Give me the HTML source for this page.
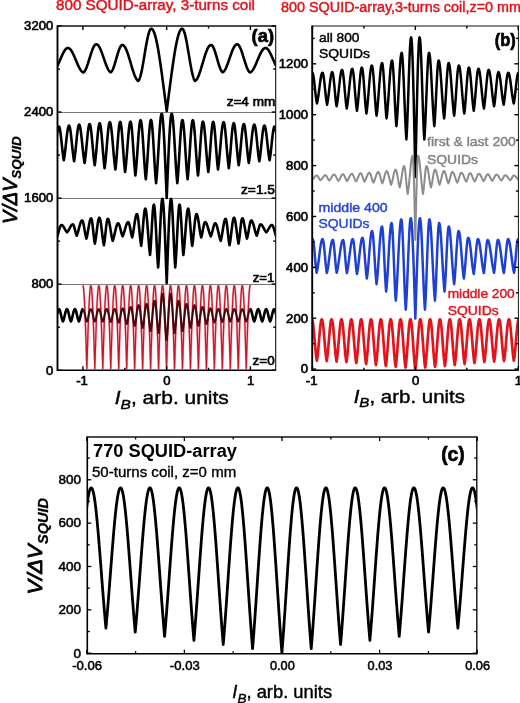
<!DOCTYPE html>
<html><head><meta charset="utf-8"><style>html,body{margin:0;padding:0;background:#fff;}svg{display:block;}</style></head>
<body>
<svg width="520" height="703" viewBox="0 0 520 703">
<rect width="520" height="703" fill="#fff"/>
<clipPath id="ca"><rect x="57.5" y="18.0" width="218.2" height="352.2"/></clipPath>
<line x1="57.5" y1="284.50" x2="275.7" y2="284.50" stroke="#767676" stroke-width="1"/>
<line x1="57.5" y1="198.50" x2="275.7" y2="198.50" stroke="#767676" stroke-width="1"/>
<line x1="57.5" y1="112.50" x2="275.7" y2="112.50" stroke="#767676" stroke-width="1"/>
<path d="M53.70 70.00L54.00 69.87L54.30 69.70L54.61 69.48L54.91 69.23L55.21 68.93L55.51 68.60L55.81 68.23L56.12 67.82L56.42 67.38L56.72 66.91L57.02 66.40L57.33 65.86L57.63 65.30L57.93 64.71L58.23 64.10L58.53 63.46L58.84 62.81L59.14 62.14L59.44 61.46L59.74 60.77L60.04 60.07L60.35 59.37L60.65 58.67L60.95 57.97L61.25 57.27L61.56 56.57L61.86 55.89L62.16 55.22L62.46 54.57L62.76 53.93L63.07 53.32L63.37 52.72L63.67 52.16L63.97 51.62L64.27 51.11L64.58 50.64L64.88 50.19L65.18 49.79L65.48 49.42L65.79 49.09L66.09 48.81L66.39 48.56L66.69 48.36L66.99 48.20L67.30 48.09L67.60 48.02L67.90 48.00L68.20 48.02L68.50 48.09L68.81 48.19L69.11 48.34L69.41 48.53L69.71 48.77L70.01 49.04L70.32 49.35L70.62 49.70L70.92 50.09L71.22 50.51L71.52 50.97L71.83 51.45L72.13 51.97L72.43 52.52L72.73 53.10L73.03 53.70L73.34 54.32L73.64 54.97L73.94 55.63L74.24 56.31L74.54 57.00L74.85 57.70L75.15 58.41L75.45 59.13L75.75 59.85L76.05 60.57L76.35 61.29L76.66 62.01L76.96 62.72L77.26 63.42L77.56 64.12L77.86 64.79L78.17 65.46L78.47 66.10L78.77 66.72L79.07 67.33L79.37 67.90L79.68 68.45L79.98 68.98L80.28 69.47L80.58 69.93L80.88 70.36L81.19 70.76L81.49 71.12L81.79 71.45L82.09 71.73L82.39 71.98L82.70 72.19L83.00 72.37L83.30 72.50L83.60 72.31L83.90 72.06L84.21 71.75L84.51 71.38L84.81 70.94L85.11 70.45L85.42 69.90L85.72 69.29L86.02 68.64L86.32 67.93L86.63 67.18L86.93 66.39L87.23 65.55L87.53 64.69L87.83 63.79L88.14 62.87L88.44 61.92L88.74 60.96L89.04 59.99L89.35 59.00L89.65 58.02L89.95 57.03L90.25 56.05L90.56 55.09L90.86 54.14L91.16 53.21L91.46 52.30L91.77 51.42L92.07 50.58L92.37 49.78L92.67 49.02L92.97 48.30L93.28 47.64L93.58 47.03L93.88 46.47L94.18 45.97L94.49 45.53L94.79 45.16L95.09 44.85L95.39 44.61L95.70 44.44L96.00 44.33L96.30 44.30L96.60 44.33L96.90 44.41L97.20 44.55L97.50 44.74L97.80 44.99L98.10 45.29L98.40 45.64L98.70 46.04L99.00 46.49L99.30 46.98L99.60 47.52L99.90 48.11L100.20 48.73L100.50 49.39L100.80 50.08L101.10 50.81L101.40 51.57L101.70 52.35L102.00 53.16L102.30 53.99L102.60 54.83L102.90 55.69L103.20 56.56L103.50 57.43L103.80 58.31L104.10 59.18L104.40 60.06L104.70 60.92L105.00 61.78L105.30 62.62L105.60 63.45L105.90 64.25L106.20 65.03L106.50 65.79L106.80 66.51L107.10 67.21L107.40 67.87L107.70 68.49L108.00 69.08L108.30 69.62L108.60 70.12L108.90 70.57L109.20 70.98L109.50 71.35L109.80 71.66L110.10 71.92L110.40 72.14L110.70 72.30L111.00 72.10L111.30 71.82L111.60 71.47L111.90 71.05L112.20 70.55L112.50 69.99L112.80 69.36L113.10 68.68L113.40 67.93L113.70 67.13L114.00 66.28L114.30 65.39L114.60 64.45L114.90 63.48L115.20 62.49L115.50 61.47L115.80 60.43L116.10 59.38L116.40 58.33L116.70 57.28L117.00 56.23L117.30 55.20L117.60 54.20L117.90 53.21L118.20 52.26L118.50 51.35L118.80 50.48L119.10 49.66L119.40 48.89L119.70 48.18L120.00 47.54L120.30 46.96L120.60 46.45L120.90 46.01L121.20 45.65L121.50 45.37L121.80 45.16L122.10 45.04L122.40 45.00L122.71 45.03L123.01 45.12L123.32 45.27L123.62 45.48L123.93 45.75L124.23 46.08L124.54 46.47L124.85 46.91L125.15 47.40L125.46 47.95L125.76 48.55L126.07 49.20L126.37 49.89L126.68 50.63L126.99 51.41L127.29 52.23L127.60 53.08L127.90 53.97L128.21 54.89L128.52 55.83L128.82 56.80L129.13 57.79L129.43 58.79L129.74 59.81L130.04 60.84L130.35 61.88L130.66 62.92L130.96 63.96L131.27 65.00L131.57 66.03L131.88 67.05L132.18 68.06L132.49 69.05L132.80 70.02L133.10 70.96L133.41 71.88L133.71 72.77L134.02 73.63L134.32 74.45L134.63 75.24L134.94 75.98L135.24 76.69L135.55 77.34L135.85 77.96L136.16 78.52L136.47 79.03L136.77 79.49L137.08 79.90L137.38 80.26L137.69 80.56L137.99 80.81L138.30 81.00L138.60 80.65L138.90 80.19L139.21 79.61L139.51 78.92L139.81 78.11L140.11 77.20L140.42 76.18L140.72 75.06L141.02 73.84L141.32 72.53L141.63 71.14L141.93 69.67L142.23 68.13L142.53 66.53L142.83 64.86L143.14 63.15L143.44 61.40L143.74 59.62L144.04 57.81L144.35 55.99L144.65 54.16L144.95 52.34L145.25 50.53L145.56 48.74L145.86 46.97L146.16 45.25L146.46 43.57L146.77 41.95L147.07 40.39L147.37 38.90L147.67 37.49L147.97 36.17L148.28 34.93L148.58 33.80L148.88 32.77L149.18 31.85L149.49 31.04L149.79 30.35L150.09 29.78L150.39 29.33L150.70 29.01L151.00 28.81L151.30 28.75L151.60 28.79L151.90 28.92L152.21 29.14L152.51 29.44L152.81 29.82L153.11 30.29L153.41 30.84L153.72 31.48L154.02 32.19L154.32 32.99L154.62 33.87L154.92 34.82L155.23 35.85L155.53 36.96L155.83 38.14L156.13 39.40L156.43 40.72L156.74 42.12L157.04 43.58L157.34 45.10L157.64 46.69L157.94 48.34L158.25 50.04L158.55 51.80L158.85 53.62L159.15 55.48L159.45 57.40L159.75 59.36L160.06 61.36L160.36 63.40L160.66 65.48L160.96 67.60L161.26 69.75L161.57 71.93L161.87 74.14L162.17 76.37L162.47 78.62L162.77 80.90L163.08 83.19L163.38 85.49L163.68 87.80L163.98 90.13L164.28 92.45L164.59 94.79L164.89 97.12L165.19 99.45L165.49 101.78L165.79 104.10L166.10 106.41L166.40 108.71L166.70 111.00L167.00 108.71L167.30 106.41L167.61 104.10L167.91 101.78L168.21 99.45L168.51 97.12L168.81 94.79L169.12 92.45L169.42 90.13L169.72 87.80L170.02 85.49L170.32 83.19L170.63 80.90L170.93 78.62L171.23 76.37L171.53 74.14L171.83 71.93L172.14 69.75L172.44 67.60L172.74 65.48L173.04 63.40L173.34 61.36L173.65 59.36L173.95 57.40L174.25 55.48L174.55 53.62L174.85 51.80L175.15 50.04L175.46 48.34L175.76 46.69L176.06 45.10L176.36 43.58L176.66 42.12L176.97 40.72L177.27 39.40L177.57 38.14L177.87 36.96L178.17 35.85L178.48 34.82L178.78 33.87L179.08 32.99L179.38 32.19L179.68 31.48L179.99 30.84L180.29 30.29L180.59 29.82L180.89 29.44L181.19 29.14L181.50 28.92L181.80 28.79L182.10 28.75L182.40 28.81L182.70 29.01L183.01 29.33L183.31 29.78L183.61 30.35L183.91 31.04L184.22 31.85L184.52 32.77L184.82 33.80L185.12 34.93L185.43 36.17L185.73 37.49L186.03 38.90L186.33 40.39L186.63 41.95L186.94 43.57L187.24 45.25L187.54 46.97L187.84 48.74L188.15 50.53L188.45 52.34L188.75 54.16L189.05 55.99L189.36 57.81L189.66 59.62L189.96 61.40L190.26 63.15L190.57 64.86L190.87 66.53L191.17 68.13L191.47 69.67L191.77 71.14L192.08 72.53L192.38 73.84L192.68 75.06L192.98 76.18L193.29 77.20L193.59 78.11L193.89 78.92L194.19 79.61L194.50 80.19L194.80 80.65L195.10 81.00L195.40 80.81L195.70 80.57L196.00 80.28L196.30 79.93L196.60 79.54L196.90 79.09L197.20 78.59L197.50 78.04L197.80 77.45L198.10 76.81L198.40 76.13L198.70 75.41L199.00 74.65L199.30 73.85L199.60 73.02L199.90 72.15L200.20 71.26L200.50 70.34L200.80 69.40L201.10 68.43L201.40 67.45L201.70 66.46L202.00 65.45L202.30 64.43L202.60 63.41L202.90 62.39L203.20 61.37L203.50 60.36L203.80 59.35L204.10 58.36L204.40 57.37L204.70 56.41L205.00 55.47L205.30 54.55L205.60 53.66L205.90 52.80L206.20 51.98L206.50 51.18L206.80 50.43L207.10 49.72L207.40 49.05L207.70 48.42L208.00 47.85L208.30 47.32L208.60 46.84L208.90 46.41L209.20 46.04L209.50 45.73L209.80 45.47L210.10 45.26L210.40 45.12L210.70 45.03L211.00 45.00L211.31 45.04L211.62 45.17L211.92 45.39L212.23 45.68L212.54 46.06L212.85 46.52L213.16 47.06L213.46 47.67L213.77 48.35L214.08 49.09L214.39 49.89L214.69 50.75L215.00 51.66L215.31 52.61L215.62 53.60L215.93 54.62L216.23 55.66L216.54 56.73L216.85 57.80L217.16 58.88L217.47 59.96L217.77 61.03L218.08 62.09L218.39 63.12L218.70 64.12L219.01 65.09L219.31 66.03L219.62 66.91L219.93 67.75L220.24 68.52L220.54 69.24L220.85 69.90L221.16 70.48L221.47 71.00L221.78 71.44L222.08 71.80L222.39 72.09L222.70 72.30L223.00 72.14L223.30 71.92L223.60 71.66L223.90 71.35L224.20 70.98L224.50 70.57L224.80 70.12L225.10 69.62L225.40 69.08L225.70 68.49L226.00 67.87L226.30 67.21L226.60 66.51L226.90 65.79L227.20 65.03L227.50 64.25L227.80 63.45L228.10 62.62L228.40 61.78L228.70 60.92L229.00 60.06L229.30 59.18L229.60 58.31L229.90 57.43L230.20 56.56L230.50 55.69L230.80 54.83L231.10 53.99L231.40 53.16L231.70 52.35L232.00 51.57L232.30 50.81L232.60 50.08L232.90 49.39L233.20 48.73L233.50 48.11L233.80 47.52L234.10 46.98L234.40 46.49L234.70 46.04L235.00 45.64L235.30 45.29L235.60 44.99L235.90 44.74L236.20 44.55L236.50 44.41L236.80 44.33L237.10 44.30L237.40 44.33L237.70 44.44L238.01 44.61L238.31 44.85L238.61 45.16L238.91 45.53L239.22 45.97L239.52 46.47L239.82 47.03L240.12 47.64L240.43 48.30L240.73 49.02L241.03 49.78L241.33 50.58L241.63 51.42L241.94 52.30L242.24 53.21L242.54 54.14L242.84 55.09L243.15 56.05L243.45 57.03L243.75 58.02L244.05 59.00L244.36 59.99L244.66 60.96L244.96 61.92L245.26 62.87L245.57 63.79L245.87 64.69L246.17 65.55L246.47 66.39L246.77 67.18L247.08 67.93L247.38 68.64L247.68 69.29L247.98 69.90L248.29 70.45L248.59 70.94L248.89 71.38L249.19 71.75L249.50 72.06L249.80 72.31L250.10 72.50L250.40 72.37L250.70 72.19L251.01 71.98L251.31 71.73L251.61 71.45L251.91 71.12L252.21 70.76L252.52 70.36L252.82 69.93L253.12 69.47L253.42 68.98L253.72 68.45L254.03 67.90L254.33 67.33L254.63 66.72L254.93 66.10L255.23 65.46L255.54 64.79L255.84 64.12L256.14 63.42L256.44 62.72L256.74 62.01L257.05 61.29L257.35 60.57L257.65 59.85L257.95 59.13L258.25 58.41L258.55 57.70L258.86 57.00L259.16 56.31L259.46 55.63L259.76 54.97L260.06 54.32L260.37 53.70L260.67 53.10L260.97 52.52L261.27 51.97L261.57 51.45L261.88 50.97L262.18 50.51L262.48 50.09L262.78 49.70L263.08 49.35L263.39 49.04L263.69 48.77L263.99 48.53L264.29 48.34L264.59 48.19L264.90 48.09L265.20 48.02L265.50 48.00L265.80 48.02L266.10 48.09L266.41 48.20L266.71 48.36L267.01 48.56L267.31 48.81L267.61 49.09L267.92 49.42L268.22 49.79L268.52 50.19L268.82 50.64L269.13 51.11L269.43 51.62L269.73 52.16L270.03 52.72L270.33 53.32L270.64 53.93L270.94 54.57L271.24 55.22L271.54 55.89L271.84 56.57L272.15 57.27L272.45 57.97L272.75 58.67L273.05 59.37L273.36 60.07L273.66 60.77L273.96 61.46L274.26 62.14L274.56 62.81L274.87 63.46L275.17 64.10L275.47 64.71L275.77 65.30L276.07 65.86L276.38 66.40L276.68 66.91L276.98 67.38L277.28 67.82L277.59 68.23L277.89 68.60L278.19 68.93L278.49 69.23L278.79 69.48L279.10 69.70L279.40 69.87L279.70 70.00" fill="none" stroke="#000" stroke-width="2.6" stroke-linejoin="round" clip-path="url(#ca)"/>
<path d="M53.70 159.50L54.01 157.98L54.31 156.16L54.62 154.08L54.92 151.77L55.23 149.27L55.54 146.65L55.84 143.96L56.15 141.26L56.45 138.61L56.76 136.09L57.06 133.75L57.37 131.66L57.68 129.87L57.98 128.43L58.29 127.37L58.59 126.72L58.90 126.50L59.21 126.75L59.51 127.50L59.82 128.71L60.12 130.37L60.43 132.41L60.74 134.78L61.04 137.40L61.35 140.21L61.66 143.12L61.96 146.05L62.27 148.93L62.57 151.68L62.88 154.24L63.19 156.54L63.49 158.54L63.80 160.20L64.11 158.60L64.41 156.70L64.72 154.51L65.02 152.09L65.33 149.48L65.64 146.73L65.94 143.91L66.25 141.07L66.55 138.30L66.86 135.66L67.16 133.21L67.47 131.01L67.78 129.13L68.08 127.62L68.39 126.51L68.69 125.83L69.00 125.60L69.30 125.84L69.60 126.54L69.90 127.68L70.20 129.25L70.50 131.19L70.80 133.45L71.10 135.98L71.40 138.70L71.70 141.57L72.00 144.49L72.30 147.40L72.60 150.24L72.90 152.93L73.20 155.43L73.50 157.69L73.80 159.65L74.10 161.30L74.41 159.49L74.72 157.31L75.04 154.81L75.35 152.02L75.66 149.03L75.97 145.89L76.29 142.70L76.60 139.53L76.91 136.47L77.22 133.61L77.54 131.04L77.85 128.81L78.16 127.01L78.47 125.69L78.79 124.87L79.10 124.60L79.41 124.83L79.71 125.50L80.02 126.60L80.32 128.11L80.63 129.99L80.93 132.20L81.24 134.67L81.54 137.37L81.85 140.22L82.16 143.17L82.46 146.14L82.77 149.08L83.07 151.92L83.38 154.62L83.68 157.11L83.99 159.36L84.29 161.33L84.60 163.00L84.91 161.07L85.22 158.76L85.54 156.10L85.85 153.14L86.16 149.96L86.47 146.63L86.79 143.23L87.10 139.87L87.41 136.62L87.72 133.58L88.04 130.84L88.35 128.48L88.66 126.56L88.97 125.15L89.29 124.29L89.60 124.00L89.92 124.31L90.24 125.22L90.56 126.71L90.88 128.74L91.19 131.24L91.51 134.14L91.83 137.36L92.15 140.80L92.47 144.37L92.79 147.96L93.11 151.49L93.42 154.86L93.74 157.99L94.06 160.81L94.38 163.26L94.70 165.30L95.01 163.22L95.32 160.72L95.64 157.85L95.95 154.66L96.26 151.22L96.57 147.63L96.89 143.96L97.20 140.33L97.51 136.82L97.82 133.54L98.14 130.58L98.45 128.03L98.76 125.97L99.07 124.45L99.39 123.51L99.70 123.20L100.01 123.54L100.31 124.53L100.62 126.16L100.92 128.37L101.23 131.09L101.54 134.25L101.84 137.76L102.15 141.51L102.46 145.39L102.76 149.31L103.07 153.15L103.38 156.83L103.68 160.24L103.99 163.31L104.29 165.98L104.60 168.20L104.91 166.07L105.21 163.54L105.52 160.64L105.82 157.42L106.13 153.95L106.44 150.29L106.74 146.54L107.05 142.77L107.35 139.09L107.66 135.57L107.96 132.31L108.27 129.40L108.58 126.90L108.88 124.88L109.19 123.41L109.49 122.50L109.80 122.20L110.11 122.48L110.42 123.31L110.73 124.67L111.04 126.53L111.36 128.84L111.67 131.56L111.98 134.61L112.29 137.93L112.60 141.44L112.91 145.07L113.22 148.73L113.53 152.35L113.84 155.86L114.16 159.18L114.47 162.25L114.78 165.02L115.09 167.45L115.40 169.50L115.72 166.97L116.04 163.90L116.36 160.36L116.68 156.43L117.00 152.21L117.32 147.82L117.64 143.39L117.96 139.06L118.28 134.96L118.60 131.23L118.92 128.00L119.24 125.36L119.56 123.40L119.88 122.20L120.20 121.80L120.51 122.17L120.81 123.28L121.12 125.10L121.42 127.56L121.73 130.60L122.04 134.13L122.34 138.04L122.65 142.22L122.96 146.56L123.26 150.93L123.57 155.22L123.88 159.31L124.18 163.12L124.49 166.54L124.79 169.52L125.10 172.00L125.40 169.81L125.70 167.23L126.00 164.27L126.30 161.00L126.60 157.46L126.90 153.73L127.20 149.87L127.50 145.97L127.80 142.10L128.10 138.36L128.40 134.82L128.70 131.57L129.00 128.68L129.30 126.21L129.60 124.23L129.90 122.78L130.20 121.90L130.50 121.60L130.81 122.00L131.11 123.19L131.42 125.14L131.72 127.79L132.03 131.05L132.34 134.84L132.64 139.04L132.95 143.53L133.26 148.18L133.56 152.87L133.87 157.48L134.17 161.88L134.48 165.96L134.79 169.64L135.09 172.84L135.40 175.50L135.71 172.94L136.01 169.90L136.32 166.41L136.62 162.54L136.93 158.36L137.24 153.97L137.54 149.46L137.85 144.93L138.15 140.50L138.46 136.27L138.76 132.36L139.07 128.85L139.38 125.85L139.68 123.43L139.99 121.65L140.29 120.57L140.60 120.20L140.91 120.59L141.21 121.75L141.52 123.65L141.82 126.24L142.13 129.45L142.44 133.19L142.74 137.38L143.05 141.89L143.35 146.63L143.66 151.47L143.96 156.29L144.27 160.99L144.58 165.45L144.88 169.59L145.19 173.32L145.49 176.57L145.80 179.30L146.11 176.56L146.41 173.30L146.72 169.55L147.02 165.40L147.33 160.93L147.64 156.21L147.94 151.37L148.25 146.52L148.55 141.77L148.86 137.23L149.16 133.04L149.47 129.28L149.78 126.06L150.08 123.46L150.39 121.56L150.69 120.39L151.00 120.00L151.32 120.47L151.64 121.87L151.96 124.15L152.28 127.26L152.59 131.08L152.91 135.52L153.23 140.44L153.55 145.71L153.87 151.17L154.19 156.67L154.51 162.07L154.82 167.23L155.14 172.02L155.46 176.33L155.78 180.08L156.10 183.20L156.41 180.19L156.72 176.63L157.03 172.56L157.34 168.05L157.66 163.18L157.97 158.04L158.28 152.73L158.59 147.35L158.90 142.03L159.21 136.88L159.52 132.01L159.83 127.53L160.14 123.54L160.46 120.15L160.77 117.42L161.08 115.43L161.39 114.21L161.70 113.80L162.01 114.25L162.32 115.58L162.64 117.77L162.95 120.80L163.26 124.62L163.57 129.17L163.89 134.39L164.20 140.21L164.51 146.54L164.82 153.30L165.14 160.41L165.45 167.77L165.76 175.29L166.07 182.90L166.39 190.49L166.70 198.00L167.01 190.49L167.32 182.90L167.64 175.29L167.95 167.77L168.26 160.41L168.57 153.30L168.89 146.54L169.20 140.21L169.51 134.39L169.82 129.17L170.14 124.62L170.45 120.80L170.76 117.77L171.07 115.58L171.39 114.25L171.70 113.80L172.01 114.21L172.32 115.43L172.63 117.42L172.94 120.15L173.26 123.54L173.57 127.53L173.88 132.01L174.19 136.88L174.50 142.03L174.81 147.35L175.12 152.73L175.43 158.04L175.74 163.18L176.06 168.05L176.37 172.56L176.68 176.63L176.99 180.19L177.30 183.20L177.62 180.08L177.94 176.33L178.26 172.02L178.57 167.23L178.89 162.07L179.21 156.67L179.53 151.17L179.85 145.71L180.17 140.44L180.49 135.52L180.81 131.08L181.12 127.26L181.44 124.15L181.76 121.87L182.08 120.47L182.40 120.00L182.71 120.39L183.01 121.56L183.32 123.46L183.62 126.06L183.93 129.28L184.24 133.04L184.54 137.23L184.85 141.77L185.15 146.52L185.46 151.37L185.76 156.21L186.07 160.93L186.38 165.40L186.68 169.55L186.99 173.30L187.29 176.56L187.60 179.30L187.91 176.57L188.21 173.32L188.52 169.59L188.82 165.45L189.13 160.99L189.44 156.29L189.74 151.47L190.05 146.63L190.35 141.89L190.66 137.38L190.96 133.19L191.27 129.45L191.58 126.24L191.88 123.65L192.19 121.75L192.49 120.59L192.80 120.20L193.11 120.57L193.41 121.65L193.72 123.43L194.02 125.85L194.33 128.85L194.64 132.36L194.94 136.27L195.25 140.50L195.55 144.93L195.86 149.46L196.16 153.97L196.47 158.36L196.78 162.54L197.08 166.41L197.39 169.90L197.69 172.94L198.00 175.50L198.31 172.84L198.61 169.64L198.92 165.96L199.22 161.88L199.53 157.48L199.84 152.87L200.14 148.18L200.45 143.53L200.76 139.04L201.06 134.84L201.37 131.05L201.67 127.79L201.98 125.14L202.29 123.19L202.59 122.00L202.90 121.60L203.20 121.90L203.50 122.78L203.80 124.23L204.10 126.21L204.40 128.68L204.70 131.57L205.00 134.82L205.30 138.36L205.60 142.10L205.90 145.97L206.20 149.87L206.50 153.73L206.80 157.46L207.10 161.00L207.40 164.27L207.70 167.23L208.00 169.81L208.30 172.00L208.61 169.52L208.91 166.54L209.22 163.12L209.52 159.31L209.83 155.22L210.14 150.93L210.44 146.56L210.75 142.22L211.06 138.04L211.36 134.13L211.67 130.60L211.97 127.56L212.28 125.10L212.59 123.28L212.89 122.17L213.20 121.80L213.50 122.16L213.80 123.21L214.10 124.93L214.40 127.28L214.70 130.16L215.00 133.52L215.30 137.23L215.60 141.20L215.90 145.32L216.20 149.48L216.50 153.55L216.80 157.44L217.10 161.06L217.40 164.31L217.70 167.14L218.00 169.50L218.31 167.45L218.62 165.02L218.93 162.25L219.24 159.18L219.56 155.86L219.87 152.35L220.18 148.73L220.49 145.07L220.80 141.44L221.11 137.93L221.42 134.61L221.73 131.56L222.04 128.84L222.36 126.53L222.67 124.67L222.98 123.31L223.29 122.48L223.60 122.20L223.91 122.50L224.21 123.41L224.52 124.88L224.82 126.90L225.13 129.40L225.44 132.31L225.74 135.57L226.05 139.09L226.35 142.77L226.66 146.54L226.96 150.29L227.27 153.95L227.58 157.42L227.88 160.64L228.19 163.54L228.49 166.07L228.80 168.20L229.11 165.98L229.41 163.31L229.72 160.24L230.02 156.83L230.33 153.15L230.64 149.31L230.94 145.39L231.25 141.51L231.56 137.76L231.86 134.25L232.17 131.09L232.47 128.37L232.78 126.16L233.09 124.53L233.39 123.54L233.70 123.20L234.01 123.51L234.32 124.45L234.64 125.97L234.95 128.03L235.26 130.58L235.57 133.54L235.89 136.82L236.20 140.33L236.51 143.96L236.82 147.63L237.14 151.22L237.45 154.66L237.76 157.85L238.07 160.72L238.39 163.22L238.70 165.30L239.02 163.26L239.34 160.81L239.66 157.99L239.97 154.86L240.29 151.49L240.61 147.96L240.93 144.37L241.25 140.80L241.57 137.36L241.89 134.14L242.21 131.24L242.52 128.74L242.84 126.71L243.16 125.22L243.48 124.31L243.80 124.00L244.11 124.29L244.42 125.15L244.74 126.56L245.05 128.48L245.36 130.84L245.67 133.58L245.99 136.62L246.30 139.87L246.61 143.23L246.92 146.63L247.24 149.96L247.55 153.14L247.86 156.10L248.17 158.76L248.49 161.07L248.80 163.00L249.11 161.33L249.41 159.36L249.72 157.11L250.02 154.62L250.33 151.92L250.63 149.08L250.94 146.14L251.24 143.17L251.55 140.22L251.86 137.37L252.16 134.67L252.47 132.20L252.77 129.99L253.08 128.11L253.38 126.60L253.69 125.50L253.99 124.83L254.30 124.60L254.61 124.87L254.92 125.69L255.24 127.01L255.55 128.81L255.86 131.04L256.17 133.61L256.49 136.47L256.80 139.53L257.11 142.70L257.42 145.89L257.74 149.03L258.05 152.02L258.36 154.81L258.67 157.31L258.99 159.49L259.30 161.30L259.60 159.65L259.90 157.69L260.20 155.43L260.50 152.93L260.80 150.24L261.10 147.40L261.40 144.49L261.70 141.57L262.00 138.70L262.30 135.98L262.60 133.45L262.90 131.19L263.20 129.25L263.50 127.68L263.80 126.54L264.10 125.84L264.40 125.60L264.71 125.83L265.01 126.51L265.32 127.62L265.62 129.13L265.93 131.01L266.24 133.21L266.54 135.66L266.85 138.30L267.15 141.07L267.46 143.91L267.76 146.73L268.07 149.48L268.38 152.09L268.68 154.51L268.99 156.70L269.29 158.60L269.60 160.20L269.91 158.54L270.21 156.54L270.52 154.24L270.83 151.68L271.13 148.93L271.44 146.05L271.74 143.12L272.05 140.21L272.36 137.40L272.66 134.78L272.97 132.41L273.27 130.37L273.58 128.71L273.89 127.50L274.19 126.75L274.50 126.50L274.81 126.72L275.11 127.37L275.42 128.43L275.72 129.87L276.03 131.66L276.34 133.75L276.64 136.09L276.95 138.61L277.25 141.26L277.56 143.96L277.86 146.65L278.17 149.27L278.48 151.77L278.78 154.08L279.09 156.16L279.39 157.98L279.70 159.50" fill="none" stroke="#000" stroke-width="2.6" stroke-linejoin="round" clip-path="url(#ca)"/>
<path d="M56.70 237.50L57.02 236.84L57.34 236.03L57.66 235.11L57.98 234.07L58.30 232.97L58.62 231.82L58.94 230.66L59.26 229.52L59.58 228.45L59.90 227.47L60.22 226.62L60.54 225.93L60.86 225.42L61.18 225.11L61.50 225.00L61.81 225.04L62.12 225.17L62.43 225.38L62.74 225.67L63.06 226.02L63.37 226.44L63.68 226.91L63.99 227.43L64.30 227.97L64.61 228.53L64.92 229.09L65.23 229.65L65.54 230.19L65.86 230.71L66.17 231.18L66.48 231.61L66.79 231.98L67.10 232.30L67.42 231.96L67.73 231.55L68.05 231.09L68.37 230.58L68.68 230.02L69.00 229.44L69.32 228.83L69.63 228.22L69.95 227.61L70.27 227.03L70.58 226.47L70.90 225.96L71.22 225.51L71.53 225.12L71.85 224.81L72.17 224.59L72.48 224.45L72.80 224.40L73.10 224.53L73.40 224.90L73.70 225.51L74.00 226.32L74.30 227.31L74.60 228.41L74.90 229.60L75.20 230.81L75.50 231.99L75.80 233.12L76.10 234.13L76.40 235.00L76.70 235.70L77.00 235.04L77.30 234.26L77.60 233.37L77.90 232.38L78.20 231.32L78.50 230.19L78.80 229.03L79.10 227.85L79.40 226.68L79.70 225.55L80.00 224.49L80.30 223.51L80.60 222.63L80.90 221.89L81.20 221.29L81.50 220.86L81.80 220.59L82.10 220.50L82.41 220.68L82.71 221.20L83.02 222.04L83.33 223.18L83.64 224.57L83.94 226.15L84.25 227.86L84.56 229.65L84.86 231.45L85.17 233.19L85.48 234.82L85.79 236.29L86.09 237.56L86.40 238.60L86.71 237.52L87.03 236.22L87.34 234.71L87.65 233.04L87.97 231.24L88.28 229.37L88.59 227.49L88.91 225.65L89.22 223.90L89.53 222.32L89.85 220.94L90.16 219.81L90.47 218.98L90.79 218.47L91.10 218.30L91.41 218.63L91.72 219.62L92.04 221.20L92.35 223.30L92.66 225.81L92.97 228.59L93.29 231.51L93.60 234.43L93.91 237.21L94.22 239.72L94.54 241.88L94.85 243.60L95.15 242.23L95.45 240.56L95.75 238.64L96.05 236.50L96.35 234.21L96.65 231.83L96.95 229.42L97.25 227.07L97.55 224.85L97.85 222.82L98.15 221.06L98.45 219.63L98.75 218.57L99.05 217.92L99.35 217.70L99.65 217.93L99.96 218.63L100.26 219.76L100.56 221.29L100.87 223.16L101.17 225.32L101.47 227.69L101.78 230.19L102.08 232.76L102.38 235.30L102.69 237.74L102.99 240.01L103.29 242.06L103.60 243.84L103.90 245.30L104.22 243.50L104.55 241.24L104.87 238.60L105.20 235.69L105.52 232.64L105.85 229.58L106.17 226.67L106.50 224.04L106.82 221.84L107.15 220.18L107.47 219.15L107.80 218.80L108.11 218.96L108.41 219.45L108.72 220.25L109.02 221.33L109.33 222.66L109.64 224.20L109.94 225.92L110.25 227.75L110.56 229.65L110.86 231.57L111.17 233.44L111.47 235.24L111.78 236.91L112.09 238.41L112.39 239.71L112.70 240.80L113.00 240.04L113.30 239.14L113.60 238.12L113.90 236.98L114.20 235.75L114.50 234.46L114.80 233.12L115.10 231.76L115.40 230.42L115.70 229.12L116.00 227.89L116.30 226.76L116.60 225.76L116.90 224.90L117.20 224.21L117.50 223.71L117.80 223.40L118.10 223.30L118.40 223.41L118.70 223.74L119.00 224.27L119.30 224.99L119.60 225.87L119.90 226.89L120.20 228.00L120.50 229.18L120.80 230.39L121.10 231.59L121.40 232.74L121.70 233.81L122.00 234.77L122.30 235.61L122.60 236.30L122.91 235.68L123.22 234.95L123.53 234.12L123.84 233.20L124.16 232.20L124.47 231.15L124.78 230.07L125.09 228.97L125.40 227.88L125.71 226.82L126.02 225.83L126.33 224.91L126.64 224.09L126.96 223.40L127.27 222.84L127.58 222.43L127.89 222.18L128.20 222.10L128.51 222.27L128.82 222.78L129.12 223.61L129.43 224.71L129.74 226.03L130.05 227.53L130.35 229.13L130.66 230.77L130.97 232.38L131.28 233.90L131.58 235.27L131.89 236.45L132.20 237.40L132.51 236.16L132.83 234.65L133.14 232.92L133.45 230.99L133.77 228.92L134.08 226.76L134.39 224.59L134.71 222.47L135.02 220.46L135.33 218.63L135.65 217.04L135.96 215.74L136.27 214.79L136.59 214.20L136.90 214.00L137.21 214.31L137.51 215.23L137.82 216.72L138.13 218.72L138.44 221.17L138.74 223.95L139.05 226.98L139.36 230.13L139.66 233.30L139.97 236.37L140.28 239.24L140.59 241.84L140.89 244.07L141.20 245.90L141.51 243.58L141.82 240.71L142.13 237.37L142.45 233.67L142.76 229.74L143.07 225.75L143.38 221.84L143.69 218.19L144.00 214.95L144.32 212.27L144.63 210.26L144.94 209.02L145.25 208.60L145.57 208.99L145.89 210.16L146.21 212.06L146.53 214.63L146.85 217.78L147.17 221.40L147.49 225.39L147.81 229.60L148.13 233.91L148.45 238.18L148.77 242.29L149.09 246.11L149.41 249.56L149.73 252.54L150.05 255.00L150.37 251.57L150.68 247.29L151.00 242.29L151.32 236.77L151.63 230.97L151.95 225.16L152.27 219.63L152.58 214.65L152.90 210.47L153.22 207.32L153.53 205.36L153.85 204.70L154.16 205.31L154.46 207.11L154.77 210.05L155.08 213.99L155.39 218.79L155.69 224.26L156.00 230.21L156.31 236.40L156.61 242.63L156.92 248.67L157.23 254.32L157.54 259.41L157.84 263.81L158.15 267.40L158.45 263.48L158.75 258.68L159.05 253.11L159.35 246.93L159.65 240.34L159.95 233.54L160.25 226.77L160.55 220.27L160.85 214.29L161.15 209.05L161.45 204.74L161.75 201.54L162.05 199.57L162.35 198.90L162.66 199.48L162.97 201.21L163.28 204.06L163.59 207.98L163.90 212.88L164.21 218.68L164.52 225.27L164.84 232.54L165.15 240.35L165.46 248.58L165.77 257.08L166.08 265.74L166.39 274.42L166.70 283.00L167.01 274.42L167.32 265.74L167.63 257.08L167.94 248.58L168.25 240.35L168.56 232.54L168.88 225.27L169.19 218.68L169.50 212.88L169.81 207.98L170.12 204.06L170.43 201.21L170.74 199.48L171.05 198.90L171.35 199.57L171.65 201.54L171.95 204.74L172.25 209.05L172.55 214.29L172.85 220.27L173.15 226.77L173.45 233.54L173.75 240.34L174.05 246.93L174.35 253.11L174.65 258.68L174.95 263.48L175.25 267.40L175.56 263.81L175.86 259.41L176.17 254.32L176.48 248.67L176.79 242.63L177.09 236.40L177.40 230.21L177.71 224.26L178.01 218.79L178.32 213.99L178.63 210.05L178.94 207.11L179.24 205.31L179.55 204.70L179.87 205.36L180.18 207.32L180.50 210.47L180.82 214.65L181.13 219.63L181.45 225.16L181.77 230.97L182.08 236.77L182.40 242.29L182.72 247.29L183.03 251.57L183.35 255.00L183.67 252.54L183.99 249.56L184.31 246.11L184.63 242.29L184.95 238.18L185.27 233.91L185.59 229.60L185.91 225.39L186.23 221.40L186.55 217.78L186.87 214.63L187.19 212.06L187.51 210.16L187.83 208.99L188.15 208.60L188.46 209.02L188.77 210.26L189.08 212.27L189.40 214.95L189.71 218.19L190.02 221.84L190.33 225.75L190.64 229.74L190.95 233.67L191.27 237.37L191.58 240.71L191.89 243.58L192.20 245.90L192.51 244.07L192.81 241.84L193.12 239.24L193.43 236.37L193.74 233.30L194.04 230.13L194.35 226.98L194.66 223.95L194.96 221.17L195.27 218.72L195.58 216.72L195.89 215.23L196.19 214.31L196.50 214.00L196.81 214.20L197.13 214.79L197.44 215.74L197.75 217.04L198.07 218.63L198.38 220.46L198.69 222.47L199.01 224.59L199.32 226.76L199.63 228.92L199.95 230.99L200.26 232.92L200.57 234.65L200.89 236.16L201.20 237.40L201.51 236.45L201.82 235.27L202.12 233.90L202.43 232.38L202.74 230.77L203.05 229.13L203.35 227.53L203.66 226.03L203.97 224.71L204.28 223.61L204.58 222.78L204.89 222.27L205.20 222.10L205.51 222.18L205.82 222.43L206.13 222.84L206.44 223.40L206.76 224.09L207.07 224.91L207.38 225.83L207.69 226.82L208.00 227.88L208.31 228.97L208.62 230.07L208.93 231.15L209.24 232.20L209.56 233.20L209.87 234.12L210.18 234.95L210.49 235.68L210.80 236.30L211.10 235.61L211.40 234.77L211.70 233.81L212.00 232.74L212.30 231.59L212.60 230.39L212.90 229.18L213.20 228.00L213.50 226.89L213.80 225.87L214.10 224.99L214.40 224.27L214.70 223.74L215.00 223.41L215.30 223.30L215.60 223.40L215.90 223.71L216.20 224.21L216.50 224.90L216.80 225.76L217.10 226.76L217.40 227.89L217.70 229.12L218.00 230.42L218.30 231.76L218.60 233.12L218.90 234.46L219.20 235.75L219.50 236.98L219.80 238.12L220.10 239.14L220.40 240.04L220.70 240.80L221.01 239.71L221.31 238.41L221.62 236.91L221.92 235.24L222.23 233.44L222.54 231.57L222.84 229.65L223.15 227.75L223.46 225.92L223.76 224.20L224.07 222.66L224.38 221.33L224.68 220.25L224.99 219.45L225.29 218.96L225.60 218.80L225.90 219.10L226.20 219.98L226.50 221.41L226.80 223.31L227.10 225.61L227.40 228.21L227.70 230.98L228.00 233.82L228.30 236.61L228.60 239.24L228.90 241.61L229.20 243.65L229.50 245.30L229.80 243.84L230.11 242.06L230.41 240.01L230.71 237.74L231.02 235.30L231.32 232.76L231.62 230.19L231.93 227.69L232.23 225.32L232.53 223.16L232.84 221.29L233.14 219.76L233.44 218.63L233.75 217.93L234.05 217.70L234.35 217.92L234.65 218.57L234.95 219.63L235.25 221.06L235.55 222.82L235.85 224.85L236.15 227.07L236.45 229.42L236.75 231.83L237.05 234.21L237.35 236.50L237.65 238.64L237.95 240.56L238.25 242.23L238.55 243.60L238.86 241.88L239.17 239.72L239.49 237.21L239.80 234.43L240.11 231.51L240.42 228.59L240.74 225.81L241.05 223.30L241.36 221.20L241.67 219.62L241.99 218.63L242.30 218.30L242.61 218.47L242.93 218.98L243.24 219.81L243.55 220.94L243.87 222.32L244.18 223.90L244.49 225.65L244.81 227.49L245.12 229.37L245.43 231.24L245.75 233.04L246.06 234.71L246.37 236.22L246.69 237.52L247.00 238.60L247.31 237.56L247.61 236.29L247.92 234.82L248.23 233.19L248.54 231.45L248.84 229.65L249.15 227.86L249.46 226.15L249.76 224.57L250.07 223.18L250.38 222.04L250.69 221.20L250.99 220.68L251.30 220.50L251.60 220.59L251.90 220.86L252.20 221.29L252.50 221.89L252.80 222.63L253.10 223.51L253.40 224.49L253.70 225.55L254.00 226.68L254.30 227.85L254.60 229.03L254.90 230.19L255.20 231.32L255.50 232.38L255.80 233.37L256.10 234.26L256.40 235.04L256.70 235.70L257.00 235.00L257.30 234.13L257.60 233.12L257.90 231.99L258.20 230.81L258.50 229.60L258.80 228.41L259.10 227.31L259.40 226.32L259.70 225.51L260.00 224.90L260.30 224.53L260.60 224.40L260.92 224.45L261.23 224.59L261.55 224.81L261.87 225.12L262.18 225.51L262.50 225.96L262.82 226.47L263.13 227.03L263.45 227.61L263.77 228.22L264.08 228.83L264.40 229.44L264.72 230.02L265.03 230.58L265.35 231.09L265.67 231.55L265.98 231.96L266.30 232.30L266.61 231.98L266.92 231.61L267.23 231.18L267.54 230.71L267.86 230.19L268.17 229.65L268.48 229.09L268.79 228.53L269.10 227.97L269.41 227.43L269.72 226.91L270.03 226.44L270.34 226.02L270.66 225.67L270.97 225.38L271.28 225.17L271.59 225.04L271.90 225.00L272.20 225.09L272.50 225.37L272.80 225.82L273.10 226.43L273.40 227.19L273.70 228.07L274.00 229.04L274.30 230.09L274.60 231.16L274.90 232.25L275.20 233.32L275.50 234.34L275.80 235.29L276.10 236.14L276.40 236.88L276.70 237.50" fill="none" stroke="#000" stroke-width="2.6" stroke-linejoin="round" clip-path="url(#ca)"/>
<path d="M47.00 321.50L47.31 320.93L47.61 320.13L47.92 319.11L48.23 317.93L48.53 316.63L48.84 315.28L49.15 313.93L49.45 312.65L49.76 311.50L50.07 310.54L50.37 309.82L50.68 309.37L50.99 309.22L51.29 309.37L51.60 309.82L51.90 310.54L52.21 311.50L52.52 312.65L52.82 313.93L53.13 315.28L53.44 316.63L53.74 317.93L54.05 319.11L54.36 320.13L54.66 320.93L54.97 321.50L55.28 320.93L55.58 320.12L55.89 319.11L56.20 317.92L56.50 316.62L56.81 315.26L57.12 313.91L57.42 312.63L57.73 311.48L58.04 310.52L58.34 309.80L58.65 309.35L58.96 309.20L59.26 309.35L59.57 309.80L59.87 310.52L60.18 311.48L60.49 312.63L60.79 313.91L61.10 315.26L61.41 316.62L61.71 317.92L62.02 319.11L62.33 320.12L62.63 320.93L62.94 321.50L63.25 320.93L63.55 320.12L63.86 319.10L64.17 317.92L64.47 316.61L64.78 315.25L65.09 313.90L65.39 312.61L65.70 311.46L66.01 310.50L66.31 309.77L66.62 309.32L66.93 309.17L67.23 309.32L67.54 309.77L67.84 310.50L68.15 311.46L68.46 312.61L68.76 313.90L69.07 315.25L69.38 316.61L69.68 317.92L69.99 319.10L70.30 320.12L70.60 320.93L70.91 321.50L71.22 320.93L71.52 320.12L71.83 319.10L72.14 317.91L72.44 316.60L72.75 315.24L73.06 313.88L73.36 312.59L73.67 311.44L73.98 310.47L74.28 309.75L74.59 309.30L74.90 309.14L75.20 309.30L75.51 309.75L75.81 310.47L76.12 311.44L76.43 312.59L76.73 313.88L77.04 315.24L77.35 316.60L77.65 317.91L77.96 319.10L78.27 320.12L78.57 320.93L78.88 321.50L79.19 320.93L79.49 320.11L79.80 319.09L80.11 317.90L80.41 316.59L80.72 315.23L81.03 313.86L81.33 312.57L81.64 311.41L81.95 310.45L82.25 309.72L82.56 309.27L82.87 309.12L83.17 309.27" fill="none" stroke="#000" stroke-width="2.6" stroke-linejoin="round" clip-path="url(#ca)"/>
<path d="M249.93 309.27L250.24 309.12L250.54 309.27L250.85 309.72L251.15 310.45L251.46 311.41L251.77 312.57L252.07 313.86L252.38 315.23L252.69 316.59L252.99 317.90L253.30 319.09L253.61 320.11L253.91 320.93L254.22 321.50L254.53 320.93L254.83 320.12L255.14 319.10L255.45 317.91L255.75 316.60L256.06 315.24L256.37 313.88L256.67 312.59L256.98 311.44L257.29 310.47L257.59 309.75L257.90 309.30L258.21 309.14L258.51 309.30L258.82 309.75L259.12 310.47L259.43 311.44L259.74 312.59L260.04 313.88L260.35 315.24L260.66 316.60L260.96 317.91L261.27 319.10L261.58 320.12L261.88 320.93L262.19 321.50L262.50 320.93L262.80 320.12L263.11 319.10L263.42 317.92L263.72 316.61L264.03 315.25L264.34 313.90L264.64 312.61L264.95 311.46L265.26 310.50L265.56 309.77L265.87 309.32L266.18 309.17L266.48 309.32L266.79 309.77L267.09 310.50L267.40 311.46L267.71 312.61L268.01 313.90L268.32 315.25L268.63 316.61L268.93 317.92L269.24 319.10L269.55 320.12L269.85 320.93L270.16 321.50L270.47 320.93L270.77 320.12L271.08 319.11L271.39 317.92L271.69 316.62L272.00 315.26L272.31 313.91L272.61 312.63L272.92 311.48L273.23 310.52L273.53 309.80L273.84 309.35L274.14 309.20L274.45 309.35L274.76 309.80L275.06 310.52L275.37 311.48L275.68 312.63L275.98 313.91L276.29 315.26L276.60 316.62L276.90 317.92L277.21 319.11L277.52 320.12L277.82 320.93L278.13 321.50L278.44 320.93L278.74 320.13L279.05 319.11L279.36 317.93L279.66 316.63L279.97 315.28L280.28 313.93L280.58 312.65L280.89 311.50L281.20 310.54L281.50 309.82L281.81 309.37L282.12 309.22L282.42 309.37L282.73 309.82L283.03 310.54L283.34 311.50L283.65 312.65L283.95 313.93L284.26 315.28L284.57 316.63L284.87 317.93L285.18 319.11L285.49 320.13L285.79 320.93L286.10 321.50L286.41 320.93L286.71 320.13L287.02 319.12L287.33 317.94L287.63 316.64L287.94 315.29L288.25 313.94L288.55 312.67L288.86 311.52L289.17 310.57L289.47 309.85L289.78 309.40L290.09 309.25" fill="none" stroke="#000" stroke-width="2.6" stroke-linejoin="round" clip-path="url(#ca)"/>
<path d="M82.71 285.65L82.87 285.50L83.02 285.65L83.17 286.11L83.32 286.86L83.48 287.91L83.63 289.26L83.78 290.89L83.94 292.81L84.09 295.01L84.24 297.47L84.40 300.19L84.55 303.16L84.70 306.37L84.86 309.81L85.01 313.46L85.16 317.31L85.32 321.35L85.47 325.56L85.62 329.93L85.78 334.44L85.93 339.07L86.08 343.81L86.24 348.64L86.39 353.54L86.54 358.50L86.70 363.49L86.85 368.50L87.00 363.49L87.16 358.50L87.31 353.54L87.46 348.64L87.62 343.81L87.77 339.07L87.92 334.44L88.08 329.93L88.23 325.56L88.38 321.35L88.54 317.31L88.69 313.46L88.84 309.81L89.00 306.37L89.15 303.16L89.30 300.19L89.46 297.47L89.61 295.01L89.76 292.81L89.92 290.89L90.07 289.26L90.22 287.91L90.38 286.86L90.53 286.11L90.68 285.65L90.84 285.50L90.99 285.65L91.14 286.11L91.29 286.86L91.45 287.91L91.60 289.26L91.75 290.89L91.91 292.81L92.06 295.01L92.21 297.47L92.37 300.19L92.52 303.16L92.67 306.37L92.83 309.81L92.98 313.46L93.13 317.31L93.29 321.35L93.44 325.56L93.59 329.93L93.75 334.44L93.90 339.07L94.05 343.81L94.21 348.64L94.36 353.54L94.51 358.50L94.67 363.49L94.82 368.50L94.97 363.49L95.13 358.50L95.28 353.54L95.43 348.64L95.59 343.81L95.74 339.07L95.89 334.44L96.05 329.93L96.20 325.56L96.35 321.35L96.51 317.31L96.66 313.46L96.81 309.81L96.97 306.37L97.12 303.16L97.27 300.19L97.43 297.47L97.58 295.01L97.73 292.81L97.89 290.89L98.04 289.26L98.19 287.91L98.35 286.86L98.50 286.11L98.65 285.65L98.81 285.50L98.96 285.65L99.11 286.11L99.26 286.86L99.42 287.91L99.57 289.26L99.72 290.89L99.88 292.81L100.03 295.01L100.18 297.47L100.34 300.19L100.49 303.16L100.64 306.37L100.80 309.81L100.95 313.46L101.10 317.31L101.26 321.35L101.41 325.56L101.56 329.93L101.72 334.44L101.87 339.07L102.02 343.81L102.18 348.64L102.33 353.54L102.48 358.50L102.64 363.49L102.79 368.50L102.94 363.49L103.10 358.50L103.25 353.54L103.40 348.64L103.56 343.81L103.71 339.07L103.86 334.44L104.02 329.93L104.17 325.56L104.32 321.35L104.48 317.31L104.63 313.46L104.78 309.81L104.94 306.37L105.09 303.16L105.24 300.19L105.40 297.47L105.55 295.01L105.70 292.81L105.86 290.89L106.01 289.26L106.16 287.91L106.32 286.86L106.47 286.11L106.62 285.65L106.78 285.50L106.93 285.65L107.08 286.11L107.23 286.86L107.39 287.91L107.54 289.26L107.69 290.89L107.85 292.81L108.00 295.01L108.15 297.47L108.31 300.19L108.46 303.16L108.61 306.37L108.77 309.81L108.92 313.46L109.07 317.31L109.23 321.35L109.38 325.56L109.53 329.93L109.69 334.44L109.84 339.07L109.99 343.81L110.15 348.64L110.30 353.54L110.45 358.50L110.61 363.49L110.76 368.50L110.91 363.49L111.07 358.50L111.22 353.54L111.37 348.64L111.53 343.81L111.68 339.07L111.83 334.44L111.99 329.93L112.14 325.56L112.29 321.35L112.45 317.31L112.60 313.46L112.75 309.81L112.91 306.37L113.06 303.16L113.21 300.19L113.37 297.47L113.52 295.01L113.67 292.81L113.83 290.89L113.98 289.26L114.13 287.91L114.29 286.86L114.44 286.11L114.59 285.65L114.75 285.50L114.90 285.65L115.05 286.11L115.20 286.86L115.36 287.91L115.51 289.26L115.66 290.89L115.82 292.81L115.97 295.01L116.12 297.47L116.28 300.19L116.43 303.16L116.58 306.37L116.74 309.81L116.89 313.46L117.04 317.31L117.20 321.35L117.35 325.56L117.50 329.93L117.66 334.44L117.81 339.07L117.96 343.81L118.12 348.64L118.27 353.54L118.42 358.50L118.58 363.49L118.73 368.50L118.88 363.49L119.04 358.50L119.19 353.54L119.34 348.64L119.50 343.81L119.65 339.07L119.80 334.44L119.96 329.93L120.11 325.56L120.26 321.35L120.42 317.31L120.57 313.46L120.72 309.81L120.88 306.37L121.03 303.16L121.18 300.19L121.34 297.47L121.49 295.01L121.64 292.81L121.80 290.89L121.95 289.26L122.10 287.91L122.26 286.86L122.41 286.11L122.56 285.65L122.72 285.50L122.87 285.65L123.02 286.11L123.17 286.86L123.33 287.91L123.48 289.26L123.63 290.89L123.79 292.81L123.94 295.01L124.09 297.47L124.25 300.19L124.40 303.16L124.55 306.37L124.71 309.81L124.86 313.46L125.01 317.31L125.17 321.35L125.32 325.56L125.47 329.93L125.63 334.44L125.78 339.07L125.93 343.81L126.09 348.64L126.24 353.54L126.39 358.50L126.55 363.49L126.70 368.50L126.85 363.49L127.01 358.50L127.16 353.54L127.31 348.64L127.47 343.81L127.62 339.07L127.77 334.44L127.93 329.93L128.08 325.56L128.23 321.35L128.39 317.31L128.54 313.46L128.69 309.81L128.85 306.37L129.00 303.16L129.15 300.19L129.31 297.47L129.46 295.01L129.61 292.81L129.77 290.89L129.92 289.26L130.07 287.91L130.23 286.86L130.38 286.11L130.53 285.65L130.69 285.50L130.84 285.65L130.99 286.11L131.14 286.86L131.30 287.91L131.45 289.26L131.60 290.89L131.76 292.81L131.91 295.01L132.06 297.47L132.22 300.19L132.37 303.16L132.52 306.37L132.68 309.81L132.83 313.46L132.98 317.31L133.14 321.35L133.29 325.56L133.44 329.93L133.60 334.44L133.75 339.07L133.90 343.81L134.06 348.64L134.21 353.54L134.36 358.50L134.52 363.49L134.67 368.50L134.82 363.49L134.98 358.50L135.13 353.54L135.28 348.64L135.44 343.81L135.59 339.07L135.74 334.44L135.90 329.93L136.05 325.56L136.20 321.35L136.36 317.31L136.51 313.46L136.66 309.81L136.82 306.37L136.97 303.16L137.12 300.19L137.28 297.47L137.43 295.01L137.58 292.81L137.74 290.89L137.89 289.26L138.04 287.91L138.20 286.86L138.35 286.11L138.50 285.65L138.66 285.50L138.81 285.65L138.96 286.11L139.11 286.86L139.27 287.91L139.42 289.26L139.57 290.89L139.73 292.81L139.88 295.01L140.03 297.47L140.19 300.19L140.34 303.16L140.49 306.37L140.65 309.81L140.80 313.46L140.95 317.31L141.11 321.35L141.26 325.56L141.41 329.93L141.57 334.44L141.72 339.07L141.87 343.81L142.03 348.64L142.18 353.54L142.33 358.50L142.49 363.49L142.64 368.50L142.79 363.49L142.95 358.50L143.10 353.54L143.25 348.64L143.41 343.81L143.56 339.07L143.71 334.44L143.87 329.93L144.02 325.56L144.17 321.35L144.33 317.31L144.48 313.46L144.63 309.81L144.79 306.37L144.94 303.16L145.09 300.19L145.25 297.47L145.40 295.01L145.55 292.81L145.71 290.89L145.86 289.26L146.01 287.91L146.17 286.86L146.32 286.11L146.47 285.65L146.62 285.50L146.78 285.65L146.93 286.11L147.08 286.86L147.24 287.91L147.39 289.26L147.54 290.89L147.70 292.81L147.85 295.01L148.00 297.47L148.16 300.19L148.31 303.16L148.46 306.37L148.62 309.81L148.77 313.46L148.92 317.31L149.08 321.35L149.23 325.56L149.38 329.93L149.54 334.44L149.69 339.07L149.84 343.81L150.00 348.64L150.15 353.54L150.30 358.50L150.46 363.49L150.61 368.50L150.76 363.49L150.92 358.50L151.07 353.54L151.22 348.64L151.38 343.81L151.53 339.07L151.68 334.44L151.84 329.93L151.99 325.56L152.14 321.35L152.30 317.31L152.45 313.46L152.60 309.81L152.76 306.37L152.91 303.16L153.06 300.19L153.22 297.47L153.37 295.01L153.52 292.81L153.68 290.89L153.83 289.26L153.98 287.91L154.14 286.86L154.29 286.11L154.44 285.65L154.59 285.50L154.75 285.65L154.90 286.11L155.05 286.86L155.21 287.91L155.36 289.26L155.51 290.89L155.67 292.81L155.82 295.01L155.97 297.47L156.13 300.19L156.28 303.16L156.43 306.37L156.59 309.81L156.74 313.46L156.89 317.31L157.05 321.35L157.20 325.56L157.35 329.93L157.51 334.44L157.66 339.07L157.81 343.81L157.97 348.64L158.12 353.54L158.27 358.50L158.43 363.49L158.58 368.50L158.73 363.49L158.89 358.50L159.04 353.54L159.19 348.64L159.35 343.81L159.50 339.07L159.65 334.44L159.81 329.93L159.96 325.56L160.11 321.35L160.27 317.31L160.42 313.46L160.57 309.81L160.73 306.37L160.88 303.16L161.03 300.19L161.19 297.47L161.34 295.01L161.49 292.81L161.65 290.89L161.80 289.26L161.95 287.91L162.11 286.86L162.26 286.11L162.41 285.65L162.56 285.50L162.72 285.65L162.87 286.11L163.02 286.86L163.18 287.91L163.33 289.26L163.48 290.89L163.64 292.81L163.79 295.01L163.94 297.47L164.10 300.19L164.25 303.16L164.40 306.37L164.56 309.81L164.71 313.46L164.86 317.31L165.02 321.35L165.17 325.56L165.32 329.93L165.48 334.44L165.63 339.07L165.78 343.81L165.94 348.64L166.09 353.54L166.24 358.50L166.40 363.49L166.55 368.50L166.70 363.49L166.86 358.50L167.01 353.54L167.16 348.64L167.32 343.81L167.47 339.07L167.62 334.44L167.78 329.93L167.93 325.56L168.08 321.35L168.24 317.31L168.39 313.46L168.54 309.81L168.70 306.37L168.85 303.16L169.00 300.19L169.16 297.47L169.31 295.01L169.46 292.81L169.62 290.89L169.77 289.26L169.92 287.91L170.08 286.86L170.23 286.11L170.38 285.65L170.54 285.50L170.69 285.65L170.84 286.11L170.99 286.86L171.15 287.91L171.30 289.26L171.45 290.89L171.61 292.81L171.76 295.01L171.91 297.47L172.07 300.19L172.22 303.16L172.37 306.37L172.53 309.81L172.68 313.46L172.83 317.31L172.99 321.35L173.14 325.56L173.29 329.93L173.45 334.44L173.60 339.07L173.75 343.81L173.91 348.64L174.06 353.54L174.21 358.50L174.37 363.49L174.52 368.50L174.67 363.49L174.83 358.50L174.98 353.54L175.13 348.64L175.29 343.81L175.44 339.07L175.59 334.44L175.75 329.93L175.90 325.56L176.05 321.35L176.21 317.31L176.36 313.46L176.51 309.81L176.67 306.37L176.82 303.16L176.97 300.19L177.13 297.47L177.28 295.01L177.43 292.81L177.59 290.89L177.74 289.26L177.89 287.91L178.05 286.86L178.20 286.11L178.35 285.65L178.51 285.50L178.66 285.65L178.81 286.11L178.96 286.86L179.12 287.91L179.27 289.26L179.42 290.89L179.58 292.81L179.73 295.01L179.88 297.47L180.04 300.19L180.19 303.16L180.34 306.37L180.50 309.81L180.65 313.46L180.80 317.31L180.96 321.35L181.11 325.56L181.26 329.93L181.42 334.44L181.57 339.07L181.72 343.81L181.88 348.64L182.03 353.54L182.18 358.50L182.34 363.49L182.49 368.50L182.64 363.49L182.80 358.50L182.95 353.54L183.10 348.64L183.26 343.81L183.41 339.07L183.56 334.44L183.72 329.93L183.87 325.56L184.02 321.35L184.18 317.31L184.33 313.46L184.48 309.81L184.64 306.37L184.79 303.16L184.94 300.19L185.10 297.47L185.25 295.01L185.40 292.81L185.56 290.89L185.71 289.26L185.86 287.91L186.02 286.86L186.17 286.11L186.32 285.65L186.48 285.50L186.63 285.65L186.78 286.11L186.93 286.86L187.09 287.91L187.24 289.26L187.39 290.89L187.55 292.81L187.70 295.01L187.85 297.47L188.01 300.19L188.16 303.16L188.31 306.37L188.47 309.81L188.62 313.46L188.77 317.31L188.93 321.35L189.08 325.56L189.23 329.93L189.39 334.44L189.54 339.07L189.69 343.81L189.85 348.64L190.00 353.54L190.15 358.50L190.31 363.49L190.46 368.50L190.61 363.49L190.77 358.50L190.92 353.54L191.07 348.64L191.23 343.81L191.38 339.07L191.53 334.44L191.69 329.93L191.84 325.56L191.99 321.35L192.15 317.31L192.30 313.46L192.45 309.81L192.61 306.37L192.76 303.16L192.91 300.19L193.07 297.47L193.22 295.01L193.37 292.81L193.53 290.89L193.68 289.26L193.83 287.91L193.99 286.86L194.14 286.11L194.29 285.65L194.45 285.50L194.60 285.65L194.75 286.11L194.90 286.86L195.06 287.91L195.21 289.26L195.36 290.89L195.52 292.81L195.67 295.01L195.82 297.47L195.98 300.19L196.13 303.16L196.28 306.37L196.44 309.81L196.59 313.46L196.74 317.31L196.90 321.35L197.05 325.56L197.20 329.93L197.36 334.44L197.51 339.07L197.66 343.81L197.82 348.64L197.97 353.54L198.12 358.50L198.28 363.49L198.43 368.50L198.58 363.49L198.74 358.50L198.89 353.54L199.04 348.64L199.20 343.81L199.35 339.07L199.50 334.44L199.66 329.93L199.81 325.56L199.96 321.35L200.12 317.31L200.27 313.46L200.42 309.81L200.58 306.37L200.73 303.16L200.88 300.19L201.04 297.47L201.19 295.01L201.34 292.81L201.50 290.89L201.65 289.26L201.80 287.91L201.96 286.86L202.11 286.11L202.26 285.65L202.42 285.50L202.57 285.65L202.72 286.11L202.87 286.86L203.03 287.91L203.18 289.26L203.33 290.89L203.49 292.81L203.64 295.01L203.79 297.47L203.95 300.19L204.10 303.16L204.25 306.37L204.41 309.81L204.56 313.46L204.71 317.31L204.87 321.35L205.02 325.56L205.17 329.93L205.33 334.44L205.48 339.07L205.63 343.81L205.79 348.64L205.94 353.54L206.09 358.50L206.25 363.49L206.40 368.50L206.55 363.49L206.71 358.50L206.86 353.54L207.01 348.64L207.17 343.81L207.32 339.07L207.47 334.44L207.63 329.93L207.78 325.56L207.93 321.35L208.09 317.31L208.24 313.46L208.39 309.81L208.55 306.37L208.70 303.16L208.85 300.19L209.01 297.47L209.16 295.01L209.31 292.81L209.47 290.89L209.62 289.26L209.77 287.91L209.93 286.86L210.08 286.11L210.23 285.65L210.39 285.50L210.54 285.65L210.69 286.11L210.84 286.86L211.00 287.91L211.15 289.26L211.30 290.89L211.46 292.81L211.61 295.01L211.76 297.47L211.92 300.19L212.07 303.16L212.22 306.37L212.38 309.81L212.53 313.46L212.68 317.31L212.84 321.35L212.99 325.56L213.14 329.93L213.30 334.44L213.45 339.07L213.60 343.81L213.76 348.64L213.91 353.54L214.06 358.50L214.22 363.49L214.37 368.50L214.52 363.49L214.68 358.50L214.83 353.54L214.98 348.64L215.14 343.81L215.29 339.07L215.44 334.44L215.60 329.93L215.75 325.56L215.90 321.35L216.06 317.31L216.21 313.46L216.36 309.81L216.52 306.37L216.67 303.16L216.82 300.19L216.98 297.47L217.13 295.01L217.28 292.81L217.44 290.89L217.59 289.26L217.74 287.91L217.90 286.86L218.05 286.11L218.20 285.65L218.36 285.50L218.51 285.65L218.66 286.11L218.81 286.86L218.97 287.91L219.12 289.26L219.27 290.89L219.43 292.81L219.58 295.01L219.73 297.47L219.89 300.19L220.04 303.16L220.19 306.37L220.35 309.81L220.50 313.46L220.65 317.31L220.81 321.35L220.96 325.56L221.11 329.93L221.27 334.44L221.42 339.07L221.57 343.81L221.73 348.64L221.88 353.54L222.03 358.50L222.19 363.49L222.34 368.50L222.49 363.49L222.65 358.50L222.80 353.54L222.95 348.64L223.11 343.81L223.26 339.07L223.41 334.44L223.57 329.93L223.72 325.56L223.87 321.35L224.03 317.31L224.18 313.46L224.33 309.81L224.49 306.37L224.64 303.16L224.79 300.19L224.95 297.47L225.10 295.01L225.25 292.81L225.41 290.89L225.56 289.26L225.71 287.91L225.87 286.86L226.02 286.11L226.17 285.65L226.33 285.50L226.48 285.65L226.63 286.11L226.78 286.86L226.94 287.91L227.09 289.26L227.24 290.89L227.40 292.81L227.55 295.01L227.70 297.47L227.86 300.19L228.01 303.16L228.16 306.37L228.32 309.81L228.47 313.46L228.62 317.31L228.78 321.35L228.93 325.56L229.08 329.93L229.24 334.44L229.39 339.07L229.54 343.81L229.70 348.64L229.85 353.54L230.00 358.50L230.16 363.49L230.31 368.50L230.46 363.49L230.62 358.50L230.77 353.54L230.92 348.64L231.08 343.81L231.23 339.07L231.38 334.44L231.54 329.93L231.69 325.56L231.84 321.35L232.00 317.31L232.15 313.46L232.30 309.81L232.46 306.37L232.61 303.16L232.76 300.19L232.92 297.47L233.07 295.01L233.22 292.81L233.38 290.89L233.53 289.26L233.68 287.91L233.84 286.86L233.99 286.11L234.14 285.65L234.30 285.50L234.45 285.65L234.60 286.11L234.75 286.86L234.91 287.91L235.06 289.26L235.21 290.89L235.37 292.81L235.52 295.01L235.67 297.47L235.83 300.19L235.98 303.16L236.13 306.37L236.29 309.81L236.44 313.46L236.59 317.31L236.75 321.35L236.90 325.56L237.05 329.93L237.21 334.44L237.36 339.07L237.51 343.81L237.67 348.64L237.82 353.54L237.97 358.50L238.13 363.49L238.28 368.50L238.43 363.49L238.59 358.50L238.74 353.54L238.89 348.64L239.05 343.81L239.20 339.07L239.35 334.44L239.51 329.93L239.66 325.56L239.81 321.35L239.97 317.31L240.12 313.46L240.27 309.81L240.43 306.37L240.58 303.16L240.73 300.19L240.89 297.47L241.04 295.01L241.19 292.81L241.35 290.89L241.50 289.26L241.65 287.91L241.81 286.86L241.96 286.11L242.11 285.65L242.27 285.50L242.42 285.65L242.57 286.11L242.72 286.86L242.88 287.91L243.03 289.26L243.18 290.89L243.34 292.81L243.49 295.01L243.64 297.47L243.80 300.19L243.95 303.16L244.10 306.37L244.26 309.81L244.41 313.46L244.56 317.31L244.72 321.35L244.87 325.56L245.02 329.93L245.18 334.44L245.33 339.07L245.48 343.81L245.64 348.64L245.79 353.54L245.94 358.50L246.10 363.49L246.25 368.50L246.40 363.49L246.56 358.50L246.71 353.54L246.86 348.64L247.02 343.81L247.17 339.07L247.32 334.44L247.48 329.93L247.63 325.56L247.78 321.35L247.94 317.31L248.09 313.46L248.24 309.81L248.40 306.37L248.55 303.16L248.70 300.19L248.86 297.47L249.01 295.01L249.16 292.81L249.32 290.89L249.47 289.26L249.62 287.91L249.78 286.86L249.93 286.11L250.08 285.65L250.24 285.50L250.39 285.65L250.54 286.11" fill="none" stroke="#f4b8be" stroke-width="2.3" stroke-linejoin="round"/>
<path d="M82.71 285.65L82.87 285.50L83.02 285.65L83.17 286.11L83.32 286.86L83.48 287.91L83.63 289.26L83.78 290.89L83.94 292.81L84.09 295.01L84.24 297.47L84.40 300.19L84.55 303.16L84.70 306.37L84.86 309.81L85.01 313.46L85.16 317.31L85.32 321.35L85.47 325.56L85.62 329.93L85.78 334.44L85.93 339.07L86.08 343.81L86.24 348.64L86.39 353.54L86.54 358.50L86.70 363.49L86.85 368.50L87.00 363.49L87.16 358.50L87.31 353.54L87.46 348.64L87.62 343.81L87.77 339.07L87.92 334.44L88.08 329.93L88.23 325.56L88.38 321.35L88.54 317.31L88.69 313.46L88.84 309.81L89.00 306.37L89.15 303.16L89.30 300.19L89.46 297.47L89.61 295.01L89.76 292.81L89.92 290.89L90.07 289.26L90.22 287.91L90.38 286.86L90.53 286.11L90.68 285.65L90.84 285.50L90.99 285.65L91.14 286.11L91.29 286.86L91.45 287.91L91.60 289.26L91.75 290.89L91.91 292.81L92.06 295.01L92.21 297.47L92.37 300.19L92.52 303.16L92.67 306.37L92.83 309.81L92.98 313.46L93.13 317.31L93.29 321.35L93.44 325.56L93.59 329.93L93.75 334.44L93.90 339.07L94.05 343.81L94.21 348.64L94.36 353.54L94.51 358.50L94.67 363.49L94.82 368.50L94.97 363.49L95.13 358.50L95.28 353.54L95.43 348.64L95.59 343.81L95.74 339.07L95.89 334.44L96.05 329.93L96.20 325.56L96.35 321.35L96.51 317.31L96.66 313.46L96.81 309.81L96.97 306.37L97.12 303.16L97.27 300.19L97.43 297.47L97.58 295.01L97.73 292.81L97.89 290.89L98.04 289.26L98.19 287.91L98.35 286.86L98.50 286.11L98.65 285.65L98.81 285.50L98.96 285.65L99.11 286.11L99.26 286.86L99.42 287.91L99.57 289.26L99.72 290.89L99.88 292.81L100.03 295.01L100.18 297.47L100.34 300.19L100.49 303.16L100.64 306.37L100.80 309.81L100.95 313.46L101.10 317.31L101.26 321.35L101.41 325.56L101.56 329.93L101.72 334.44L101.87 339.07L102.02 343.81L102.18 348.64L102.33 353.54L102.48 358.50L102.64 363.49L102.79 368.50L102.94 363.49L103.10 358.50L103.25 353.54L103.40 348.64L103.56 343.81L103.71 339.07L103.86 334.44L104.02 329.93L104.17 325.56L104.32 321.35L104.48 317.31L104.63 313.46L104.78 309.81L104.94 306.37L105.09 303.16L105.24 300.19L105.40 297.47L105.55 295.01L105.70 292.81L105.86 290.89L106.01 289.26L106.16 287.91L106.32 286.86L106.47 286.11L106.62 285.65L106.78 285.50L106.93 285.65L107.08 286.11L107.23 286.86L107.39 287.91L107.54 289.26L107.69 290.89L107.85 292.81L108.00 295.01L108.15 297.47L108.31 300.19L108.46 303.16L108.61 306.37L108.77 309.81L108.92 313.46L109.07 317.31L109.23 321.35L109.38 325.56L109.53 329.93L109.69 334.44L109.84 339.07L109.99 343.81L110.15 348.64L110.30 353.54L110.45 358.50L110.61 363.49L110.76 368.50L110.91 363.49L111.07 358.50L111.22 353.54L111.37 348.64L111.53 343.81L111.68 339.07L111.83 334.44L111.99 329.93L112.14 325.56L112.29 321.35L112.45 317.31L112.60 313.46L112.75 309.81L112.91 306.37L113.06 303.16L113.21 300.19L113.37 297.47L113.52 295.01L113.67 292.81L113.83 290.89L113.98 289.26L114.13 287.91L114.29 286.86L114.44 286.11L114.59 285.65L114.75 285.50L114.90 285.65L115.05 286.11L115.20 286.86L115.36 287.91L115.51 289.26L115.66 290.89L115.82 292.81L115.97 295.01L116.12 297.47L116.28 300.19L116.43 303.16L116.58 306.37L116.74 309.81L116.89 313.46L117.04 317.31L117.20 321.35L117.35 325.56L117.50 329.93L117.66 334.44L117.81 339.07L117.96 343.81L118.12 348.64L118.27 353.54L118.42 358.50L118.58 363.49L118.73 368.50L118.88 363.49L119.04 358.50L119.19 353.54L119.34 348.64L119.50 343.81L119.65 339.07L119.80 334.44L119.96 329.93L120.11 325.56L120.26 321.35L120.42 317.31L120.57 313.46L120.72 309.81L120.88 306.37L121.03 303.16L121.18 300.19L121.34 297.47L121.49 295.01L121.64 292.81L121.80 290.89L121.95 289.26L122.10 287.91L122.26 286.86L122.41 286.11L122.56 285.65L122.72 285.50L122.87 285.65L123.02 286.11L123.17 286.86L123.33 287.91L123.48 289.26L123.63 290.89L123.79 292.81L123.94 295.01L124.09 297.47L124.25 300.19L124.40 303.16L124.55 306.37L124.71 309.81L124.86 313.46L125.01 317.31L125.17 321.35L125.32 325.56L125.47 329.93L125.63 334.44L125.78 339.07L125.93 343.81L126.09 348.64L126.24 353.54L126.39 358.50L126.55 363.49L126.70 368.50L126.85 363.49L127.01 358.50L127.16 353.54L127.31 348.64L127.47 343.81L127.62 339.07L127.77 334.44L127.93 329.93L128.08 325.56L128.23 321.35L128.39 317.31L128.54 313.46L128.69 309.81L128.85 306.37L129.00 303.16L129.15 300.19L129.31 297.47L129.46 295.01L129.61 292.81L129.77 290.89L129.92 289.26L130.07 287.91L130.23 286.86L130.38 286.11L130.53 285.65L130.69 285.50L130.84 285.65L130.99 286.11L131.14 286.86L131.30 287.91L131.45 289.26L131.60 290.89L131.76 292.81L131.91 295.01L132.06 297.47L132.22 300.19L132.37 303.16L132.52 306.37L132.68 309.81L132.83 313.46L132.98 317.31L133.14 321.35L133.29 325.56L133.44 329.93L133.60 334.44L133.75 339.07L133.90 343.81L134.06 348.64L134.21 353.54L134.36 358.50L134.52 363.49L134.67 368.50L134.82 363.49L134.98 358.50L135.13 353.54L135.28 348.64L135.44 343.81L135.59 339.07L135.74 334.44L135.90 329.93L136.05 325.56L136.20 321.35L136.36 317.31L136.51 313.46L136.66 309.81L136.82 306.37L136.97 303.16L137.12 300.19L137.28 297.47L137.43 295.01L137.58 292.81L137.74 290.89L137.89 289.26L138.04 287.91L138.20 286.86L138.35 286.11L138.50 285.65L138.66 285.50L138.81 285.65L138.96 286.11L139.11 286.86L139.27 287.91L139.42 289.26L139.57 290.89L139.73 292.81L139.88 295.01L140.03 297.47L140.19 300.19L140.34 303.16L140.49 306.37L140.65 309.81L140.80 313.46L140.95 317.31L141.11 321.35L141.26 325.56L141.41 329.93L141.57 334.44L141.72 339.07L141.87 343.81L142.03 348.64L142.18 353.54L142.33 358.50L142.49 363.49L142.64 368.50L142.79 363.49L142.95 358.50L143.10 353.54L143.25 348.64L143.41 343.81L143.56 339.07L143.71 334.44L143.87 329.93L144.02 325.56L144.17 321.35L144.33 317.31L144.48 313.46L144.63 309.81L144.79 306.37L144.94 303.16L145.09 300.19L145.25 297.47L145.40 295.01L145.55 292.81L145.71 290.89L145.86 289.26L146.01 287.91L146.17 286.86L146.32 286.11L146.47 285.65L146.62 285.50L146.78 285.65L146.93 286.11L147.08 286.86L147.24 287.91L147.39 289.26L147.54 290.89L147.70 292.81L147.85 295.01L148.00 297.47L148.16 300.19L148.31 303.16L148.46 306.37L148.62 309.81L148.77 313.46L148.92 317.31L149.08 321.35L149.23 325.56L149.38 329.93L149.54 334.44L149.69 339.07L149.84 343.81L150.00 348.64L150.15 353.54L150.30 358.50L150.46 363.49L150.61 368.50L150.76 363.49L150.92 358.50L151.07 353.54L151.22 348.64L151.38 343.81L151.53 339.07L151.68 334.44L151.84 329.93L151.99 325.56L152.14 321.35L152.30 317.31L152.45 313.46L152.60 309.81L152.76 306.37L152.91 303.16L153.06 300.19L153.22 297.47L153.37 295.01L153.52 292.81L153.68 290.89L153.83 289.26L153.98 287.91L154.14 286.86L154.29 286.11L154.44 285.65L154.59 285.50L154.75 285.65L154.90 286.11L155.05 286.86L155.21 287.91L155.36 289.26L155.51 290.89L155.67 292.81L155.82 295.01L155.97 297.47L156.13 300.19L156.28 303.16L156.43 306.37L156.59 309.81L156.74 313.46L156.89 317.31L157.05 321.35L157.20 325.56L157.35 329.93L157.51 334.44L157.66 339.07L157.81 343.81L157.97 348.64L158.12 353.54L158.27 358.50L158.43 363.49L158.58 368.50L158.73 363.49L158.89 358.50L159.04 353.54L159.19 348.64L159.35 343.81L159.50 339.07L159.65 334.44L159.81 329.93L159.96 325.56L160.11 321.35L160.27 317.31L160.42 313.46L160.57 309.81L160.73 306.37L160.88 303.16L161.03 300.19L161.19 297.47L161.34 295.01L161.49 292.81L161.65 290.89L161.80 289.26L161.95 287.91L162.11 286.86L162.26 286.11L162.41 285.65L162.56 285.50L162.72 285.65L162.87 286.11L163.02 286.86L163.18 287.91L163.33 289.26L163.48 290.89L163.64 292.81L163.79 295.01L163.94 297.47L164.10 300.19L164.25 303.16L164.40 306.37L164.56 309.81L164.71 313.46L164.86 317.31L165.02 321.35L165.17 325.56L165.32 329.93L165.48 334.44L165.63 339.07L165.78 343.81L165.94 348.64L166.09 353.54L166.24 358.50L166.40 363.49L166.55 368.50L166.70 363.49L166.86 358.50L167.01 353.54L167.16 348.64L167.32 343.81L167.47 339.07L167.62 334.44L167.78 329.93L167.93 325.56L168.08 321.35L168.24 317.31L168.39 313.46L168.54 309.81L168.70 306.37L168.85 303.16L169.00 300.19L169.16 297.47L169.31 295.01L169.46 292.81L169.62 290.89L169.77 289.26L169.92 287.91L170.08 286.86L170.23 286.11L170.38 285.65L170.54 285.50L170.69 285.65L170.84 286.11L170.99 286.86L171.15 287.91L171.30 289.26L171.45 290.89L171.61 292.81L171.76 295.01L171.91 297.47L172.07 300.19L172.22 303.16L172.37 306.37L172.53 309.81L172.68 313.46L172.83 317.31L172.99 321.35L173.14 325.56L173.29 329.93L173.45 334.44L173.60 339.07L173.75 343.81L173.91 348.64L174.06 353.54L174.21 358.50L174.37 363.49L174.52 368.50L174.67 363.49L174.83 358.50L174.98 353.54L175.13 348.64L175.29 343.81L175.44 339.07L175.59 334.44L175.75 329.93L175.90 325.56L176.05 321.35L176.21 317.31L176.36 313.46L176.51 309.81L176.67 306.37L176.82 303.16L176.97 300.19L177.13 297.47L177.28 295.01L177.43 292.81L177.59 290.89L177.74 289.26L177.89 287.91L178.05 286.86L178.20 286.11L178.35 285.65L178.51 285.50L178.66 285.65L178.81 286.11L178.96 286.86L179.12 287.91L179.27 289.26L179.42 290.89L179.58 292.81L179.73 295.01L179.88 297.47L180.04 300.19L180.19 303.16L180.34 306.37L180.50 309.81L180.65 313.46L180.80 317.31L180.96 321.35L181.11 325.56L181.26 329.93L181.42 334.44L181.57 339.07L181.72 343.81L181.88 348.64L182.03 353.54L182.18 358.50L182.34 363.49L182.49 368.50L182.64 363.49L182.80 358.50L182.95 353.54L183.10 348.64L183.26 343.81L183.41 339.07L183.56 334.44L183.72 329.93L183.87 325.56L184.02 321.35L184.18 317.31L184.33 313.46L184.48 309.81L184.64 306.37L184.79 303.16L184.94 300.19L185.10 297.47L185.25 295.01L185.40 292.81L185.56 290.89L185.71 289.26L185.86 287.91L186.02 286.86L186.17 286.11L186.32 285.65L186.48 285.50L186.63 285.65L186.78 286.11L186.93 286.86L187.09 287.91L187.24 289.26L187.39 290.89L187.55 292.81L187.70 295.01L187.85 297.47L188.01 300.19L188.16 303.16L188.31 306.37L188.47 309.81L188.62 313.46L188.77 317.31L188.93 321.35L189.08 325.56L189.23 329.93L189.39 334.44L189.54 339.07L189.69 343.81L189.85 348.64L190.00 353.54L190.15 358.50L190.31 363.49L190.46 368.50L190.61 363.49L190.77 358.50L190.92 353.54L191.07 348.64L191.23 343.81L191.38 339.07L191.53 334.44L191.69 329.93L191.84 325.56L191.99 321.35L192.15 317.31L192.30 313.46L192.45 309.81L192.61 306.37L192.76 303.16L192.91 300.19L193.07 297.47L193.22 295.01L193.37 292.81L193.53 290.89L193.68 289.26L193.83 287.91L193.99 286.86L194.14 286.11L194.29 285.65L194.45 285.50L194.60 285.65L194.75 286.11L194.90 286.86L195.06 287.91L195.21 289.26L195.36 290.89L195.52 292.81L195.67 295.01L195.82 297.47L195.98 300.19L196.13 303.16L196.28 306.37L196.44 309.81L196.59 313.46L196.74 317.31L196.90 321.35L197.05 325.56L197.20 329.93L197.36 334.44L197.51 339.07L197.66 343.81L197.82 348.64L197.97 353.54L198.12 358.50L198.28 363.49L198.43 368.50L198.58 363.49L198.74 358.50L198.89 353.54L199.04 348.64L199.20 343.81L199.35 339.07L199.50 334.44L199.66 329.93L199.81 325.56L199.96 321.35L200.12 317.31L200.27 313.46L200.42 309.81L200.58 306.37L200.73 303.16L200.88 300.19L201.04 297.47L201.19 295.01L201.34 292.81L201.50 290.89L201.65 289.26L201.80 287.91L201.96 286.86L202.11 286.11L202.26 285.65L202.42 285.50L202.57 285.65L202.72 286.11L202.87 286.86L203.03 287.91L203.18 289.26L203.33 290.89L203.49 292.81L203.64 295.01L203.79 297.47L203.95 300.19L204.10 303.16L204.25 306.37L204.41 309.81L204.56 313.46L204.71 317.31L204.87 321.35L205.02 325.56L205.17 329.93L205.33 334.44L205.48 339.07L205.63 343.81L205.79 348.64L205.94 353.54L206.09 358.50L206.25 363.49L206.40 368.50L206.55 363.49L206.71 358.50L206.86 353.54L207.01 348.64L207.17 343.81L207.32 339.07L207.47 334.44L207.63 329.93L207.78 325.56L207.93 321.35L208.09 317.31L208.24 313.46L208.39 309.81L208.55 306.37L208.70 303.16L208.85 300.19L209.01 297.47L209.16 295.01L209.31 292.81L209.47 290.89L209.62 289.26L209.77 287.91L209.93 286.86L210.08 286.11L210.23 285.65L210.39 285.50L210.54 285.65L210.69 286.11L210.84 286.86L211.00 287.91L211.15 289.26L211.30 290.89L211.46 292.81L211.61 295.01L211.76 297.47L211.92 300.19L212.07 303.16L212.22 306.37L212.38 309.81L212.53 313.46L212.68 317.31L212.84 321.35L212.99 325.56L213.14 329.93L213.30 334.44L213.45 339.07L213.60 343.81L213.76 348.64L213.91 353.54L214.06 358.50L214.22 363.49L214.37 368.50L214.52 363.49L214.68 358.50L214.83 353.54L214.98 348.64L215.14 343.81L215.29 339.07L215.44 334.44L215.60 329.93L215.75 325.56L215.90 321.35L216.06 317.31L216.21 313.46L216.36 309.81L216.52 306.37L216.67 303.16L216.82 300.19L216.98 297.47L217.13 295.01L217.28 292.81L217.44 290.89L217.59 289.26L217.74 287.91L217.90 286.86L218.05 286.11L218.20 285.65L218.36 285.50L218.51 285.65L218.66 286.11L218.81 286.86L218.97 287.91L219.12 289.26L219.27 290.89L219.43 292.81L219.58 295.01L219.73 297.47L219.89 300.19L220.04 303.16L220.19 306.37L220.35 309.81L220.50 313.46L220.65 317.31L220.81 321.35L220.96 325.56L221.11 329.93L221.27 334.44L221.42 339.07L221.57 343.81L221.73 348.64L221.88 353.54L222.03 358.50L222.19 363.49L222.34 368.50L222.49 363.49L222.65 358.50L222.80 353.54L222.95 348.64L223.11 343.81L223.26 339.07L223.41 334.44L223.57 329.93L223.72 325.56L223.87 321.35L224.03 317.31L224.18 313.46L224.33 309.81L224.49 306.37L224.64 303.16L224.79 300.19L224.95 297.47L225.10 295.01L225.25 292.81L225.41 290.89L225.56 289.26L225.71 287.91L225.87 286.86L226.02 286.11L226.17 285.65L226.33 285.50L226.48 285.65L226.63 286.11L226.78 286.86L226.94 287.91L227.09 289.26L227.24 290.89L227.40 292.81L227.55 295.01L227.70 297.47L227.86 300.19L228.01 303.16L228.16 306.37L228.32 309.81L228.47 313.46L228.62 317.31L228.78 321.35L228.93 325.56L229.08 329.93L229.24 334.44L229.39 339.07L229.54 343.81L229.70 348.64L229.85 353.54L230.00 358.50L230.16 363.49L230.31 368.50L230.46 363.49L230.62 358.50L230.77 353.54L230.92 348.64L231.08 343.81L231.23 339.07L231.38 334.44L231.54 329.93L231.69 325.56L231.84 321.35L232.00 317.31L232.15 313.46L232.30 309.81L232.46 306.37L232.61 303.16L232.76 300.19L232.92 297.47L233.07 295.01L233.22 292.81L233.38 290.89L233.53 289.26L233.68 287.91L233.84 286.86L233.99 286.11L234.14 285.65L234.30 285.50L234.45 285.65L234.60 286.11L234.75 286.86L234.91 287.91L235.06 289.26L235.21 290.89L235.37 292.81L235.52 295.01L235.67 297.47L235.83 300.19L235.98 303.16L236.13 306.37L236.29 309.81L236.44 313.46L236.59 317.31L236.75 321.35L236.90 325.56L237.05 329.93L237.21 334.44L237.36 339.07L237.51 343.81L237.67 348.64L237.82 353.54L237.97 358.50L238.13 363.49L238.28 368.50L238.43 363.49L238.59 358.50L238.74 353.54L238.89 348.64L239.05 343.81L239.20 339.07L239.35 334.44L239.51 329.93L239.66 325.56L239.81 321.35L239.97 317.31L240.12 313.46L240.27 309.81L240.43 306.37L240.58 303.16L240.73 300.19L240.89 297.47L241.04 295.01L241.19 292.81L241.35 290.89L241.50 289.26L241.65 287.91L241.81 286.86L241.96 286.11L242.11 285.65L242.27 285.50L242.42 285.65L242.57 286.11L242.72 286.86L242.88 287.91L243.03 289.26L243.18 290.89L243.34 292.81L243.49 295.01L243.64 297.47L243.80 300.19L243.95 303.16L244.10 306.37L244.26 309.81L244.41 313.46L244.56 317.31L244.72 321.35L244.87 325.56L245.02 329.93L245.18 334.44L245.33 339.07L245.48 343.81L245.64 348.64L245.79 353.54L245.94 358.50L246.10 363.49L246.25 368.50L246.40 363.49L246.56 358.50L246.71 353.54L246.86 348.64L247.02 343.81L247.17 339.07L247.32 334.44L247.48 329.93L247.63 325.56L247.78 321.35L247.94 317.31L248.09 313.46L248.24 309.81L248.40 306.37L248.55 303.16L248.70 300.19L248.86 297.47L249.01 295.01L249.16 292.81L249.32 290.89L249.47 289.26L249.62 287.91L249.78 286.86L249.93 286.11L250.08 285.65L250.24 285.50L250.39 285.65L250.54 286.11" fill="none" stroke="#cc1428" stroke-width="1.3" stroke-linejoin="round"/>
<path d="M83.17 309.27L83.48 309.72L83.78 310.45L84.09 311.41L84.40 312.57L84.70 313.86L85.01 315.23L85.32 316.59L85.62 317.90L85.93 319.09L86.24 320.11L86.54 320.93L86.85 321.50L87.16 320.93L87.46 320.11L87.77 319.09L88.08 317.89L88.38 316.58L88.69 315.21L89.00 313.85L89.30 312.55L89.61 311.39L89.92 310.43L90.22 309.70L90.53 309.24L90.84 309.09L91.14 309.24L91.45 309.70L91.75 310.43L92.06 311.39L92.37 312.55L92.67 313.85L92.98 315.21L93.29 316.58L93.59 317.89L93.90 319.09L94.21 320.11L94.51 320.93L94.82 321.50L95.13 320.92L95.43 320.11L95.74 319.08L96.05 317.89L96.35 316.57L96.66 315.20L96.97 313.83L97.27 312.53L97.58 311.37L97.89 310.40L98.19 309.67L98.50 309.22L98.81 309.06L99.11 309.22L99.42 309.67L99.72 310.40L100.03 311.37L100.34 312.53L100.64 313.83L100.95 315.20L101.26 316.57L101.56 317.89L101.87 319.08L102.18 320.11L102.48 320.92L102.79 321.50L103.10 320.92L103.40 320.11L103.71 319.08L104.02 317.88L104.32 316.56L104.63 315.19L104.94 313.81L105.24 312.52L105.55 311.35L105.86 310.38L106.16 309.65L106.47 309.19L106.78 309.04L107.08 309.20L107.39 309.67L107.69 310.42L108.00 311.42L108.31 312.63L108.61 313.97L108.92 315.38L109.23 316.80L109.53 318.16L109.84 319.40L110.15 320.46L110.45 321.30L110.76 321.89L111.07 321.30L111.37 320.45L111.68 319.39L111.99 318.15L112.29 316.79L112.60 315.37L112.91 313.95L113.21 312.61L113.52 311.40L113.83 310.40L114.13 309.64L114.44 309.17L114.75 309.01L115.05 309.18L115.36 309.68L115.66 310.48L115.97 311.54L116.28 312.82L116.58 314.24L116.89 315.74L117.20 317.24L117.50 318.68L117.81 319.99L118.12 321.12L118.42 322.01L118.73 322.64L119.04 321.98L119.34 321.04L119.65 319.85L119.96 318.48L120.26 316.96L120.57 315.38L120.88 313.80L121.18 312.31L121.49 310.97L121.80 309.85L122.10 309.01L122.41 308.48L122.72 308.31L123.02 308.50L123.33 309.07L123.63 309.99L123.94 311.21L124.25 312.68L124.55 314.31L124.86 316.03L125.17 317.76L125.47 319.42L125.78 320.92L126.09 322.22L126.39 323.24L126.70 323.97L127.01 323.18L127.31 322.07L127.62 320.66L127.93 319.03L128.23 317.23L128.54 315.35L128.85 313.48L129.15 311.71L129.46 310.12L129.77 308.80L130.07 307.80L130.38 307.18L130.69 306.97L130.99 307.20L131.30 307.89L131.60 309.00L131.91 310.47L132.22 312.23L132.52 314.20L132.83 316.27L133.14 318.36L133.44 320.35L133.75 322.16L134.06 323.72L134.36 324.96L134.67 325.83L134.98 324.87L135.28 323.52L135.59 321.82L135.90 319.83L136.20 317.65L136.51 315.37L136.82 313.10L137.12 310.94L137.43 309.01L137.74 307.40L138.04 306.19L138.35 305.44L138.66 305.18L138.96 305.46L139.27 306.29L139.57 307.62L139.88 309.39L140.19 311.50L140.49 313.87L140.80 316.36L141.11 318.86L141.41 321.25L141.72 323.43L142.03 325.30L142.33 326.79L142.64 327.84L142.95 326.73L143.25 325.17L143.56 323.20L143.87 320.90L144.17 318.38L144.48 315.74L144.79 313.12L145.09 310.63L145.40 308.40L145.71 306.54L146.01 305.13L146.32 304.26L146.62 303.97L146.93 304.30L147.24 305.29L147.54 306.88L147.85 308.99L148.16 311.52L148.46 314.34L148.77 317.31L149.08 320.30L149.38 323.16L149.69 325.76L150.00 327.99L150.30 329.76L150.61 331.01L150.92 329.61L151.22 327.63L151.53 325.13L151.84 322.22L152.14 319.02L152.45 315.68L152.76 312.36L153.06 309.20L153.37 306.37L153.68 304.01L153.98 302.24L154.29 301.13L154.59 300.76L154.90 301.16L155.21 302.34L155.51 304.23L155.82 306.75L156.13 309.76L156.43 313.13L156.74 316.68L157.05 320.24L157.35 323.65L157.66 326.75L157.97 329.42L158.27 331.53L158.58 333.03L158.89 331.21L159.19 328.64L159.50 325.40L159.81 321.63L160.11 317.48L160.42 313.15L160.73 308.83L161.03 304.74L161.34 301.08L161.65 298.02L161.95 295.71L162.26 294.28L162.56 293.80L162.87 294.37L163.18 296.05L163.48 298.77L163.79 302.37L164.10 306.69L164.40 311.51L164.71 316.59L165.02 321.69L165.32 326.57L165.63 331.02L165.94 334.83L166.24 337.86L166.55 340.00L166.86 337.86L167.16 334.83L167.47 331.02L167.78 326.57L168.08 321.69L168.39 316.59L168.70 311.51L169.00 306.69L169.31 302.37L169.62 298.77L169.92 296.05L170.23 294.37L170.54 293.80L170.84 294.28L171.15 295.71L171.45 298.02L171.76 301.08L172.07 304.74L172.37 308.83L172.68 313.15L172.99 317.48L173.29 321.63L173.60 325.40L173.91 328.64L174.21 331.21L174.52 333.03L174.83 331.53L175.13 329.42L175.44 326.75L175.75 323.65L176.05 320.24L176.36 316.68L176.67 313.13L176.97 309.76L177.28 306.75L177.59 304.23L177.89 302.34L178.20 301.16L178.51 300.76L178.81 301.13L179.12 302.24L179.42 304.01L179.73 306.37L180.04 309.20L180.34 312.36L180.65 315.68L180.96 319.02L181.26 322.22L181.57 325.13L181.88 327.63L182.18 329.61L182.49 331.01L182.80 329.76L183.10 327.99L183.41 325.76L183.72 323.16L184.02 320.30L184.33 317.31L184.64 314.34L184.94 311.52L185.25 308.99L185.56 306.88L185.86 305.29L186.17 304.30L186.48 303.97L186.78 304.26L187.09 305.13L187.39 306.54L187.70 308.40L188.01 310.63L188.31 313.12L188.62 315.74L188.93 318.38L189.23 320.90L189.54 323.20L189.85 325.17L190.15 326.73L190.46 327.84L190.77 326.79L191.07 325.30L191.38 323.43L191.69 321.25L191.99 318.86L192.30 316.36L192.61 313.87L192.91 311.50L193.22 309.39L193.53 307.62L193.83 306.29L194.14 305.46L194.45 305.18L194.75 305.44L195.06 306.19L195.36 307.40L195.67 309.01L195.98 310.94L196.28 313.10L196.59 315.37L196.90 317.65L197.20 319.83L197.51 321.82L197.82 323.52L198.12 324.87L198.43 325.83L198.74 324.96L199.04 323.72L199.35 322.16L199.66 320.35L199.96 318.36L200.27 316.27L200.58 314.20L200.88 312.23L201.19 310.47L201.50 309.00L201.80 307.89L202.11 307.20L202.42 306.97L202.72 307.18L203.03 307.80L203.33 308.80L203.64 310.12L203.95 311.71L204.25 313.48L204.56 315.35L204.87 317.23L205.17 319.03L205.48 320.66L205.79 322.07L206.09 323.18L206.40 323.97L206.71 323.24L207.01 322.22L207.32 320.92L207.63 319.42L207.93 317.76L208.24 316.03L208.55 314.31L208.85 312.68L209.16 311.21L209.47 309.99L209.77 309.07L210.08 308.50L210.39 308.31L210.69 308.48L211.00 309.01L211.30 309.85L211.61 310.97L211.92 312.31L212.22 313.80L212.53 315.38L212.84 316.96L213.14 318.48L213.45 319.85L213.76 321.04L214.06 321.98L214.37 322.64L214.68 322.01L214.98 321.12L215.29 319.99L215.60 318.68L215.90 317.24L216.21 315.74L216.52 314.24L216.82 312.82L217.13 311.54L217.44 310.48L217.74 309.68L218.05 309.18L218.36 309.01L218.66 309.17L218.97 309.64L219.27 310.40L219.58 311.40L219.89 312.61L220.19 313.95L220.50 315.37L220.81 316.79L221.11 318.15L221.42 319.39L221.73 320.45L222.03 321.30L222.34 321.89L222.65 321.30L222.95 320.46L223.26 319.40L223.57 318.16L223.87 316.80L224.18 315.38L224.49 313.97L224.79 312.63L225.10 311.42L225.41 310.42L225.71 309.67L226.02 309.20L226.33 309.04L226.63 309.19L226.94 309.65L227.24 310.38L227.55 311.35L227.86 312.52L228.16 313.81L228.47 315.19L228.78 316.56L229.08 317.88L229.39 319.08L229.70 320.11L230.00 320.92L230.31 321.50L230.62 320.92L230.92 320.11L231.23 319.08L231.54 317.89L231.84 316.57L232.15 315.20L232.46 313.83L232.76 312.53L233.07 311.37L233.38 310.40L233.68 309.67L233.99 309.22L234.30 309.06L234.60 309.22L234.91 309.67L235.21 310.40L235.52 311.37L235.83 312.53L236.13 313.83L236.44 315.20L236.75 316.57L237.05 317.89L237.36 319.08L237.67 320.11L237.97 320.92L238.28 321.50L238.59 320.93L238.89 320.11L239.20 319.09L239.51 317.89L239.81 316.58L240.12 315.21L240.43 313.85L240.73 312.55L241.04 311.39L241.35 310.43L241.65 309.70L241.96 309.24L242.27 309.09L242.57 309.24L242.88 309.70L243.18 310.43L243.49 311.39L243.80 312.55L244.10 313.85L244.41 315.21L244.72 316.58L245.02 317.89L245.33 319.09L245.64 320.11L245.94 320.93L246.25 321.50L246.56 320.93L246.86 320.11L247.17 319.09L247.48 317.90L247.78 316.59L248.09 315.23L248.40 313.86L248.70 312.57L249.01 311.41L249.32 310.45L249.62 309.72L249.93 309.27L250.24 309.12" fill="none" stroke="#3a0509" stroke-width="2.1" stroke-linejoin="round" opacity="0.95"/>
<line x1="57.5" y1="25.35" x2="57.5" y2="370.95" stroke="#000" stroke-width="1.9"/>
<line x1="57.5" y1="370.2" x2="275.7" y2="370.2" stroke="#000" stroke-width="1.5"/>
<line x1="275.7" y1="25.35" x2="275.7" y2="370.95" stroke="#111" stroke-width="1.1"/>
<line x1="57.5" y1="26.0" x2="275.7" y2="26.0" stroke="#111" stroke-width="1.3"/>
<line x1="82.90" y1="370.2" x2="82.90" y2="366.2" stroke="#000" stroke-width="1.4"/>
<line x1="82.90" y1="26.0" x2="82.90" y2="30.0" stroke="#000" stroke-width="1.4"/>
<line x1="124.78" y1="370.2" x2="124.78" y2="367.7" stroke="#000" stroke-width="1.4"/>
<line x1="124.78" y1="26.0" x2="124.78" y2="28.5" stroke="#000" stroke-width="1.4"/>
<line x1="166.65" y1="370.2" x2="166.65" y2="366.2" stroke="#000" stroke-width="1.4"/>
<line x1="166.65" y1="26.0" x2="166.65" y2="30.0" stroke="#000" stroke-width="1.4"/>
<line x1="208.53" y1="370.2" x2="208.53" y2="367.7" stroke="#000" stroke-width="1.4"/>
<line x1="208.53" y1="26.0" x2="208.53" y2="28.5" stroke="#000" stroke-width="1.4"/>
<line x1="250.40" y1="370.2" x2="250.40" y2="366.2" stroke="#000" stroke-width="1.4"/>
<line x1="250.40" y1="26.0" x2="250.40" y2="30.0" stroke="#000" stroke-width="1.4"/>
<line x1="57.5" y1="370.20" x2="61.5" y2="370.20" stroke="#000" stroke-width="1.4"/>
<line x1="275.7" y1="370.20" x2="271.7" y2="370.20" stroke="#000" stroke-width="1.4"/>
<line x1="57.5" y1="327.18" x2="60.0" y2="327.18" stroke="#000" stroke-width="1.4"/>
<line x1="275.7" y1="327.18" x2="273.2" y2="327.18" stroke="#000" stroke-width="1.4"/>
<line x1="57.5" y1="284.15" x2="61.5" y2="284.15" stroke="#000" stroke-width="1.4"/>
<line x1="275.7" y1="284.15" x2="271.7" y2="284.15" stroke="#000" stroke-width="1.4"/>
<line x1="57.5" y1="241.12" x2="60.0" y2="241.12" stroke="#000" stroke-width="1.4"/>
<line x1="275.7" y1="241.12" x2="273.2" y2="241.12" stroke="#000" stroke-width="1.4"/>
<line x1="57.5" y1="198.10" x2="61.5" y2="198.10" stroke="#000" stroke-width="1.4"/>
<line x1="275.7" y1="198.10" x2="271.7" y2="198.10" stroke="#000" stroke-width="1.4"/>
<line x1="57.5" y1="155.07" x2="60.0" y2="155.07" stroke="#000" stroke-width="1.4"/>
<line x1="275.7" y1="155.07" x2="273.2" y2="155.07" stroke="#000" stroke-width="1.4"/>
<line x1="57.5" y1="112.05" x2="61.5" y2="112.05" stroke="#000" stroke-width="1.4"/>
<line x1="275.7" y1="112.05" x2="271.7" y2="112.05" stroke="#000" stroke-width="1.4"/>
<line x1="57.5" y1="69.02" x2="60.0" y2="69.02" stroke="#000" stroke-width="1.4"/>
<line x1="275.7" y1="69.02" x2="273.2" y2="69.02" stroke="#000" stroke-width="1.4"/>
<line x1="57.5" y1="26.00" x2="61.5" y2="26.00" stroke="#000" stroke-width="1.4"/>
<line x1="275.7" y1="26.00" x2="271.7" y2="26.00" stroke="#000" stroke-width="1.4"/>
<clipPath id="cb"><rect x="312.2" y="26.0" width="206.2" height="344.2"/></clipPath>
<path d="M307.05 103.00L307.36 101.74L307.67 100.19L307.99 98.37L308.30 96.32L308.61 94.07L308.92 91.69L309.23 89.23L309.54 86.75L309.86 84.30L310.17 81.96L310.48 79.79L310.79 77.83L311.10 76.16L311.41 74.81L311.73 73.81L312.04 73.20L312.35 73.00L312.66 73.27L312.96 74.06L313.27 75.34L313.58 77.08L313.88 79.21L314.19 81.65L314.50 84.33L314.80 87.14L315.11 90.01L315.42 92.82L315.72 95.51L316.03 97.98L316.34 100.17L316.64 102.02L316.95 103.50L317.26 102.29L317.56 100.80L317.87 99.07L318.17 97.12L318.48 94.99L318.78 92.72L319.09 90.35L319.39 87.95L319.70 85.55L320.01 83.22L320.31 81.01L320.62 78.97L320.92 77.15L321.23 75.60L321.53 74.36L321.84 73.44L322.14 72.89L322.45 72.70L322.76 72.98L323.06 73.81L323.37 75.16L323.68 76.98L323.98 79.20L324.29 81.76L324.60 84.57L324.90 87.52L325.21 90.52L325.52 93.47L325.82 96.28L326.13 98.87L326.44 101.16L326.74 103.10L327.05 104.65L327.36 103.28L327.66 101.60L327.97 99.63L328.27 97.41L328.58 94.98L328.89 92.40L329.19 89.73L329.50 87.04L329.80 84.39L330.11 81.86L330.41 79.50L330.72 77.39L331.03 75.57L331.33 74.11L331.64 73.03L331.94 72.37L332.25 72.15L332.56 72.49L332.87 73.51L333.18 75.15L333.49 77.36L333.80 80.04L334.11 83.10L334.43 86.40L334.74 89.82L335.05 93.23L335.36 96.52L335.67 99.55L335.98 102.25L336.29 104.51L336.60 106.30L336.90 104.87L337.21 103.11L337.51 101.07L337.81 98.77L338.11 96.25L338.42 93.56L338.72 90.76L339.02 87.92L339.33 85.08L339.63 82.33L339.93 79.72L340.23 77.31L340.54 75.16L340.84 73.33L341.14 71.86L341.44 70.78L341.75 70.12L342.05 69.90L342.36 70.24L342.68 71.24L342.99 72.87L343.30 75.07L343.62 77.76L343.93 80.85L344.24 84.24L344.56 87.80L344.87 91.42L345.18 94.99L345.50 98.39L345.81 101.52L346.12 104.29L346.44 106.63L346.75 108.50L347.06 106.94L347.36 105.02L347.67 102.79L347.97 100.28L348.28 97.53L348.58 94.61L348.89 91.56L349.19 88.45L349.50 85.36L349.81 82.36L350.11 79.51L350.42 76.88L350.72 74.54L351.03 72.54L351.33 70.94L351.64 69.76L351.94 69.04L352.25 68.80L352.56 69.17L352.88 70.25L353.19 72.02L353.50 74.41L353.82 77.33L354.13 80.69L354.44 84.36L354.76 88.23L355.07 92.16L355.38 96.04L355.70 99.72L356.01 103.12L356.32 106.13L356.64 108.67L356.95 110.70L357.26 108.76L357.56 106.36L357.87 103.52L358.18 100.33L358.48 96.84L358.79 93.16L359.09 89.38L359.40 85.61L359.71 81.95L360.01 78.52L360.32 75.42L360.62 72.74L360.93 70.57L361.24 68.96L361.54 67.98L361.85 67.65L362.15 68.05L362.46 69.24L362.76 71.17L363.06 73.78L363.37 76.97L363.67 80.64L363.97 84.66L364.28 88.89L364.58 93.19L364.88 97.42L365.19 101.45L365.49 105.16L365.79 108.45L366.10 111.23L366.40 113.45L366.70 111.56L367.01 109.25L367.31 106.56L367.61 103.52L367.91 100.21L368.22 96.67L368.52 92.98L368.82 89.23L369.12 85.50L369.43 81.87L369.73 78.43L370.03 75.26L370.34 72.44L370.64 70.02L370.94 68.08L371.24 66.66L371.55 65.79L371.85 65.50L372.16 65.94L372.48 67.24L372.79 69.36L373.10 72.21L373.42 75.71L373.73 79.73L374.04 84.12L374.36 88.75L374.67 93.46L374.98 98.10L375.30 102.51L375.61 106.58L375.92 110.18L376.24 113.22L376.55 115.65L376.86 113.58L377.16 111.04L377.47 108.09L377.77 104.76L378.08 101.12L378.38 97.24L378.69 93.20L378.99 89.09L379.30 84.99L379.61 81.01L379.91 77.24L380.22 73.76L380.52 70.66L380.83 68.01L381.13 65.88L381.44 64.32L381.74 63.37L382.05 63.05L382.35 63.53L382.65 64.97L382.95 67.31L383.25 70.46L383.55 74.33L383.85 78.77L384.15 83.62L384.45 88.74L384.75 93.94L385.05 99.06L385.35 103.94L385.65 108.43L385.95 112.41L386.25 115.77L386.55 118.45L386.86 116.17L387.16 113.38L387.47 110.13L387.77 106.47L388.08 102.46L388.38 98.19L388.69 93.74L388.99 89.21L389.30 84.70L389.61 80.32L389.91 76.17L390.22 72.34L390.52 68.92L390.83 66.01L391.13 63.67L391.44 61.95L391.74 60.90L392.05 60.55L392.36 61.21L392.67 63.16L392.98 66.32L393.29 70.57L393.60 75.74L393.91 81.61L394.23 87.96L394.54 94.54L394.85 101.11L395.16 107.43L395.47 113.27L395.78 118.45L396.09 122.81L396.40 126.25L396.71 123.16L397.02 119.36L397.33 114.91L397.64 109.89L397.94 104.40L398.25 98.57L398.56 92.54L398.87 86.45L399.18 80.47L399.49 74.74L399.80 69.41L400.11 64.64L400.41 60.53L400.72 57.22L401.03 54.79L401.34 53.30L401.65 52.80L401.97 53.56L402.28 55.81L402.60 59.46L402.92 64.40L403.23 70.45L403.55 77.40L403.87 85.00L404.18 93.00L404.50 101.14L404.82 109.16L405.13 116.79L405.45 123.82L405.77 130.04L406.08 135.31L406.40 139.50L406.71 134.56L407.03 128.36L407.34 121.02L407.65 112.74L407.97 103.75L408.28 94.31L408.59 84.72L408.91 75.29L409.22 66.33L409.53 58.15L409.85 51.02L410.16 45.20L410.47 40.89L410.79 38.24L411.10 37.35L411.40 38.32L411.71 41.19L412.01 45.93L412.31 52.43L412.62 60.57L412.92 70.20L413.23 81.14L413.53 93.21L413.83 106.18L414.14 119.84L414.44 133.97L414.74 148.34L415.05 162.75L415.35 177.00L415.65 162.75L415.96 148.34L416.26 133.97L416.56 119.84L416.87 106.18L417.17 93.21L417.48 81.14L417.78 70.20L418.08 60.57L418.39 52.43L418.69 45.93L418.99 41.19L419.30 38.32L419.60 37.35L419.91 38.24L420.23 40.89L420.54 45.20L420.85 51.02L421.17 58.15L421.48 66.33L421.79 75.29L422.11 84.72L422.42 94.31L422.73 103.75L423.05 112.74L423.36 121.02L423.67 128.36L423.99 134.56L424.30 139.50L424.62 135.31L424.93 130.04L425.25 123.82L425.57 116.79L425.88 109.16L426.20 101.14L426.52 93.00L426.83 85.00L427.15 77.40L427.47 70.45L427.78 64.40L428.10 59.46L428.42 55.81L428.73 53.56L429.05 52.80L429.36 53.30L429.67 54.79L429.98 57.22L430.29 60.53L430.59 64.64L430.90 69.41L431.21 74.74L431.52 80.47L431.83 86.45L432.14 92.54L432.45 98.57L432.76 104.40L433.06 109.89L433.37 114.91L433.68 119.36L433.99 123.16L434.30 126.25L434.61 122.81L434.92 118.45L435.23 113.27L435.54 107.43L435.85 101.11L436.16 94.54L436.48 87.96L436.79 81.61L437.10 75.74L437.41 70.57L437.72 66.32L438.03 63.16L438.34 61.21L438.65 60.55L438.96 60.90L439.26 61.95L439.57 63.67L439.87 66.01L440.18 68.92L440.48 72.34L440.79 76.17L441.09 80.32L441.40 84.70L441.71 89.21L442.01 93.74L442.32 98.19L442.62 102.46L442.93 106.47L443.23 110.13L443.54 113.38L443.84 116.17L444.15 118.45L444.45 115.77L444.75 112.41L445.05 108.43L445.35 103.94L445.65 99.06L445.95 93.94L446.25 88.74L446.55 83.62L446.85 78.77L447.15 74.33L447.45 70.46L447.75 67.31L448.05 64.97L448.35 63.53L448.65 63.05L448.96 63.37L449.26 64.32L449.57 65.88L449.87 68.01L450.18 70.66L450.48 73.76L450.79 77.24L451.09 81.01L451.40 84.99L451.71 89.09L452.01 93.20L452.32 97.24L452.62 101.12L452.93 104.76L453.23 108.09L453.54 111.04L453.84 113.58L454.15 115.65L454.46 113.22L454.78 110.18L455.09 106.58L455.40 102.51L455.72 98.10L456.03 93.46L456.34 88.75L456.66 84.12L456.97 79.73L457.28 75.71L457.60 72.21L457.91 69.36L458.22 67.24L458.54 65.94L458.85 65.50L459.15 65.79L459.46 66.66L459.76 68.08L460.06 70.02L460.36 72.44L460.67 75.26L460.97 78.43L461.27 81.87L461.58 85.50L461.88 89.23L462.18 92.98L462.48 96.67L462.79 100.21L463.09 103.52L463.39 106.56L463.69 109.25L464.00 111.56L464.30 113.45L464.60 111.23L464.91 108.45L465.21 105.16L465.51 101.45L465.82 97.42L466.12 93.19L466.42 88.89L466.73 84.66L467.03 80.64L467.33 76.97L467.64 73.78L467.94 71.17L468.24 69.24L468.55 68.05L468.85 67.65L469.16 67.98L469.46 68.96L469.77 70.57L470.08 72.74L470.38 75.42L470.69 78.52L470.99 81.95L471.30 85.61L471.61 89.38L471.91 93.16L472.22 96.84L472.52 100.33L472.83 103.52L473.14 106.36L473.44 108.76L473.75 110.70L474.06 108.67L474.38 106.13L474.69 103.12L475.00 99.72L475.32 96.04L475.63 92.16L475.94 88.23L476.26 84.36L476.57 80.69L476.88 77.33L477.20 74.41L477.51 72.02L477.82 70.25L478.14 69.17L478.45 68.80L478.76 69.04L479.06 69.76L479.37 70.94L479.67 72.54L479.98 74.54L480.28 76.88L480.59 79.51L480.89 82.36L481.20 85.36L481.51 88.45L481.81 91.56L482.12 94.61L482.42 97.53L482.73 100.28L483.03 102.79L483.34 105.02L483.64 106.94L483.95 108.50L484.26 106.63L484.58 104.29L484.89 101.52L485.20 98.39L485.52 94.99L485.83 91.42L486.14 87.80L486.46 84.24L486.77 80.85L487.08 77.76L487.40 75.07L487.71 72.87L488.02 71.24L488.34 70.24L488.65 69.90L488.95 70.12L489.26 70.78L489.56 71.86L489.86 73.33L490.16 75.16L490.47 77.31L490.77 79.72L491.07 82.33L491.38 85.08L491.68 87.92L491.98 90.76L492.28 93.56L492.59 96.25L492.89 98.77L493.19 101.07L493.49 103.11L493.80 104.87L494.10 106.30L494.41 104.51L494.72 102.25L495.03 99.55L495.34 96.52L495.65 93.23L495.96 89.82L496.28 86.40L496.59 83.10L496.90 80.04L497.21 77.36L497.52 75.15L497.83 73.51L498.14 72.49L498.45 72.15L498.76 72.37L499.06 73.03L499.37 74.11L499.67 75.57L499.98 77.39L500.29 79.50L500.59 81.86L500.90 84.39L501.20 87.04L501.51 89.73L501.81 92.40L502.12 94.98L502.43 97.41L502.73 99.63L503.04 101.60L503.34 103.28L503.65 104.65L503.96 103.10L504.26 101.16L504.57 98.87L504.88 96.28L505.18 93.47L505.49 90.52L505.80 87.52L506.10 84.57L506.41 81.76L506.72 79.20L507.02 76.98L507.33 75.16L507.64 73.81L507.94 72.98L508.25 72.70L508.56 72.89L508.86 73.44L509.17 74.36L509.47 75.60L509.78 77.15L510.08 78.97L510.39 81.01L510.69 83.22L511.00 85.55L511.31 87.95L511.61 90.35L511.92 92.72L512.22 94.99L512.53 97.12L512.83 99.07L513.14 100.80L513.44 102.29L513.75 103.50L514.06 102.02L514.36 100.17L514.67 97.98L514.98 95.51L515.28 92.83L515.59 90.01L515.90 87.14L516.20 84.33L516.51 81.65L516.82 79.21L517.12 77.08L517.43 75.34L517.74 74.06L518.04 73.27L518.35 73.00L518.66 73.20L518.97 73.81L519.29 74.81L519.60 76.16L519.91 77.83L520.22 79.79L520.53 81.96L520.84 84.30L521.16 86.75L521.47 89.23L521.78 91.69L522.09 94.07L522.40 96.32L522.71 98.37L523.03 100.19L523.34 101.74L523.65 103.00" fill="none" stroke="#000" stroke-width="2.5" stroke-linejoin="round" clip-path="url(#cb)"/>
<path d="M303.85 180.00L304.17 179.76L304.50 179.45L304.82 179.09L305.14 178.68L305.47 178.23L305.79 177.78L306.11 177.33L306.43 176.91L306.76 176.54L307.08 176.23L307.40 175.99L307.73 175.85L308.05 175.80L308.37 175.86L308.68 176.03L309.00 176.30L309.32 176.66L309.63 177.08L309.95 177.55L310.27 178.04L310.58 178.53L310.90 178.99L311.22 179.40L311.53 179.74L311.85 180.00L312.16 179.80L312.46 179.55L312.77 179.25L313.08 178.92L313.38 178.55L313.69 178.17L313.99 177.77L314.30 177.38L314.61 177.00L314.91 176.64L315.22 176.31L315.52 176.03L315.83 175.81L316.14 175.64L316.44 175.53L316.75 175.50L317.06 175.57L317.37 175.76L317.68 176.07L317.98 176.48L318.29 176.96L318.60 177.50L318.91 178.06L319.22 178.62L319.53 179.14L319.83 179.61L320.14 180.00L320.45 180.30L320.76 180.07L321.08 179.79L321.39 179.45L321.70 179.07L322.01 178.66L322.33 178.22L322.64 177.77L322.95 177.33L323.26 176.89L323.58 176.49L323.89 176.12L324.20 175.80L324.51 175.55L324.83 175.36L325.14 175.24L325.45 175.20L325.77 175.27L326.08 175.49L326.40 175.84L326.72 176.30L327.03 176.85L327.35 177.45L327.67 178.08L327.98 178.71L328.30 179.30L328.62 179.82L328.93 180.26L329.25 180.60L329.56 180.33L329.86 179.99L330.17 179.60L330.48 179.15L330.78 178.67L331.09 178.16L331.39 177.63L331.70 177.10L332.01 176.59L332.31 176.12L332.62 175.68L332.93 175.31L333.23 175.01L333.54 174.78L333.84 174.65L334.15 174.60L334.46 174.66L334.76 174.85L335.07 175.15L335.38 175.56L335.69 176.06L335.99 176.62L336.30 177.23L336.61 177.86L336.91 178.49L337.22 179.10L337.53 179.66L337.84 180.15L338.14 180.57L338.45 180.90L338.75 180.58L339.05 180.17L339.35 179.69L339.65 179.14L339.95 178.56L340.25 177.94L340.55 177.31L340.85 176.69L341.15 176.10L341.45 175.56L341.75 175.10L342.05 174.72L342.35 174.43L342.65 174.26L342.95 174.20L343.26 174.28L343.57 174.52L343.87 174.90L344.18 175.41L344.49 176.02L344.80 176.71L345.10 177.45L345.41 178.20L345.72 178.92L346.03 179.60L346.33 180.20L346.64 180.71L346.95 181.10L347.26 180.77L347.56 180.36L347.87 179.88L348.18 179.34L348.48 178.75L348.79 178.13L349.09 177.48L349.40 176.85L349.71 176.23L350.01 175.64L350.32 175.12L350.62 174.66L350.93 174.29L351.24 174.02L351.54 173.86L351.85 173.80L352.17 173.89L352.50 174.15L352.82 174.58L353.14 175.15L353.47 175.84L353.79 176.61L354.11 177.43L354.43 178.26L354.76 179.07L355.08 179.83L355.40 180.50L355.73 181.06L356.05 181.50L356.35 181.10L356.65 180.59L356.95 180.00L357.25 179.33L357.55 178.59L357.85 177.83L358.15 177.05L358.45 176.28L358.75 175.55L359.05 174.89L359.35 174.31L359.65 173.84L359.95 173.49L360.25 173.27L360.55 173.20L360.85 173.30L361.15 173.59L361.45 174.05L361.75 174.67L362.05 175.42L362.35 176.26L362.65 177.16L362.95 178.06L363.25 178.95L363.55 179.77L363.85 180.51L364.15 181.12L364.45 181.60L364.76 181.20L365.06 180.70L365.37 180.12L365.68 179.46L365.98 178.74L366.29 177.97L366.59 177.19L366.90 176.41L367.21 175.66L367.51 174.95L367.82 174.31L368.12 173.75L368.43 173.30L368.74 172.97L369.04 172.77L369.35 172.70L369.67 172.82L369.98 173.16L370.30 173.70L370.61 174.44L370.93 175.32L371.24 176.31L371.56 177.36L371.87 178.43L372.19 179.48L372.50 180.45L372.82 181.31L373.13 182.04L373.45 182.60L373.77 182.09L374.09 181.44L374.41 180.68L374.73 179.82L375.05 178.89L375.37 177.91L375.69 176.92L376.01 175.94L376.33 175.01L376.65 174.16L376.97 173.42L377.29 172.81L377.61 172.37L377.93 172.09L378.25 172.00L378.57 172.13L378.88 172.52L379.20 173.16L379.51 174.00L379.83 175.01L380.14 176.15L380.46 177.37L380.77 178.60L381.09 179.80L381.40 180.92L381.72 181.92L382.03 182.75L382.35 183.40L382.66 182.76L382.98 181.94L383.29 180.97L383.61 179.88L383.92 178.69L384.24 177.46L384.55 176.23L384.86 175.04L385.18 173.94L385.49 172.98L385.81 172.18L386.12 171.59L386.44 171.22L386.75 171.10L387.06 171.24L387.38 171.64L387.69 172.30L388.01 173.19L388.32 174.27L388.64 175.49L388.95 176.82L389.26 178.19L389.58 179.56L389.89 180.87L390.21 182.09L390.52 183.17L390.84 184.08L391.15 184.80L391.47 184.01L391.79 183.01L392.10 181.82L392.42 180.47L392.74 179.02L393.06 177.51L393.38 176.00L393.69 174.54L394.01 173.19L394.33 172.00L394.65 171.03L394.96 170.30L395.28 169.85L395.60 169.70L395.92 169.91L396.24 170.52L396.56 171.51L396.88 172.82L397.20 174.41L397.52 176.19L397.83 178.08L398.15 180.01L398.47 181.88L398.79 183.63L399.11 185.18L399.43 186.49L399.75 187.50L400.06 186.38L400.38 184.95L400.69 183.25L401.01 181.34L401.32 179.27L401.64 177.12L401.95 174.97L402.26 172.89L402.58 170.97L402.89 169.28L403.21 167.89L403.52 166.85L403.84 166.22L404.15 166.00L404.47 166.45L404.80 167.79L405.12 169.91L405.44 172.69L405.76 175.94L406.09 179.46L406.41 183.03L406.73 186.45L407.05 189.51L407.38 192.07L407.70 194.00L408.01 192.28L408.31 190.15L408.62 187.63L408.93 184.80L409.23 181.70L409.54 178.44L409.84 175.08L410.15 171.74L410.46 168.49L410.76 165.45L411.07 162.70L411.38 160.32L411.68 158.39L411.99 156.97L412.29 156.09L412.60 155.80L412.91 157.21L413.21 161.36L413.52 168.06L413.82 177.01L414.13 187.81L414.43 200.00L414.74 213.10L415.04 226.59L415.35 240.00L415.66 226.59L415.96 213.10L416.27 200.00L416.57 187.81L416.88 177.01L417.18 168.06L417.49 161.36L417.79 157.21L418.10 155.80L418.41 156.09L418.71 156.97L419.02 158.39L419.33 160.32L419.63 162.70L419.94 165.45L420.24 168.49L420.55 171.74L420.86 175.08L421.16 178.44L421.47 181.70L421.77 184.80L422.08 187.63L422.39 190.15L422.69 192.28L423.00 194.00L423.32 192.07L423.65 189.51L423.97 186.45L424.29 183.03L424.61 179.46L424.94 175.94L425.26 172.69L425.58 169.91L425.90 167.79L426.23 166.45L426.55 166.00L426.86 166.22L427.18 166.85L427.49 167.89L427.81 169.28L428.12 170.97L428.44 172.89L428.75 174.97L429.06 177.12L429.38 179.27L429.69 181.34L430.01 183.25L430.32 184.95L430.64 186.38L430.95 187.50L431.27 186.49L431.59 185.18L431.91 183.63L432.23 181.88L432.55 180.01L432.87 178.08L433.18 176.19L433.50 174.41L433.82 172.82L434.14 171.51L434.46 170.52L434.78 169.91L435.10 169.70L435.42 169.85L435.74 170.30L436.05 171.03L436.37 172.00L436.69 173.19L437.01 174.54L437.33 176.00L437.64 177.51L437.96 179.02L438.28 180.47L438.60 181.82L438.91 183.01L439.23 184.01L439.55 184.80L439.86 184.08L440.18 183.17L440.49 182.09L440.81 180.87L441.12 179.56L441.44 178.19L441.75 176.82L442.06 175.49L442.38 174.27L442.69 173.19L443.01 172.30L443.32 171.64L443.64 171.24L443.95 171.10L444.26 171.22L444.58 171.59L444.89 172.18L445.21 172.98L445.52 173.94L445.84 175.04L446.15 176.23L446.46 177.46L446.78 178.69L447.09 179.88L447.41 180.97L447.72 181.94L448.04 182.76L448.35 183.40L448.67 182.75L448.98 181.92L449.30 180.92L449.61 179.80L449.93 178.60L450.24 177.37L450.56 176.15L450.87 175.01L451.19 174.00L451.50 173.16L451.82 172.52L452.13 172.13L452.45 172.00L452.77 172.09L453.09 172.37L453.41 172.81L453.73 173.42L454.05 174.16L454.37 175.01L454.69 175.94L455.01 176.92L455.33 177.91L455.65 178.89L455.97 179.82L456.29 180.68L456.61 181.44L456.93 182.09L457.25 182.60L457.57 182.04L457.88 181.31L458.20 180.45L458.51 179.48L458.83 178.43L459.14 177.36L459.46 176.31L459.77 175.32L460.09 174.44L460.40 173.70L460.72 173.16L461.03 172.82L461.35 172.70L461.66 172.77L461.96 172.97L462.27 173.30L462.58 173.75L462.88 174.31L463.19 174.95L463.49 175.66L463.80 176.41L464.11 177.19L464.41 177.97L464.72 178.74L465.02 179.46L465.33 180.12L465.64 180.70L465.94 181.20L466.25 181.60L466.55 181.12L466.85 180.51L467.15 179.77L467.45 178.95L467.75 178.06L468.05 177.16L468.35 176.26L468.65 175.42L468.95 174.67L469.25 174.05L469.55 173.59L469.85 173.30L470.15 173.20L470.45 173.27L470.75 173.49L471.05 173.84L471.35 174.31L471.65 174.89L471.95 175.55L472.25 176.28L472.55 177.05L472.85 177.83L473.15 178.59L473.45 179.33L473.75 180.00L474.05 180.59L474.35 181.10L474.65 181.50L474.97 181.06L475.30 180.50L475.62 179.83L475.94 179.07L476.27 178.26L476.59 177.43L476.91 176.61L477.23 175.84L477.56 175.15L477.88 174.58L478.20 174.15L478.53 173.89L478.85 173.80L479.16 173.86L479.46 174.02L479.77 174.29L480.08 174.66L480.38 175.12L480.69 175.64L480.99 176.23L481.30 176.85L481.61 177.48L481.91 178.13L482.22 178.75L482.52 179.34L482.83 179.88L483.14 180.36L483.44 180.77L483.75 181.10L484.06 180.71L484.37 180.20L484.67 179.60L484.98 178.92L485.29 178.20L485.60 177.45L485.90 176.71L486.21 176.02L486.52 175.41L486.83 174.90L487.13 174.52L487.44 174.28L487.75 174.20L488.05 174.26L488.35 174.43L488.65 174.72L488.95 175.10L489.25 175.56L489.55 176.10L489.85 176.69L490.15 177.31L490.45 177.94L490.75 178.56L491.05 179.14L491.35 179.69L491.65 180.17L491.95 180.58L492.25 180.90L492.56 180.57L492.86 180.15L493.17 179.66L493.48 179.10L493.79 178.49L494.09 177.86L494.40 177.23L494.71 176.62L495.01 176.06L495.32 175.56L495.63 175.15L495.94 174.85L496.24 174.66L496.55 174.60L496.86 174.65L497.16 174.78L497.47 175.01L497.78 175.31L498.08 175.68L498.39 176.12L498.69 176.59L499.00 177.10L499.31 177.63L499.61 178.16L499.92 178.67L500.23 179.15L500.53 179.60L500.84 179.99L501.14 180.33L501.45 180.60L501.77 180.26L502.08 179.82L502.40 179.30L502.72 178.71L503.03 178.08L503.35 177.45L503.67 176.85L503.98 176.30L504.30 175.84L504.62 175.49L504.93 175.27L505.25 175.20L505.56 175.24L505.88 175.36L506.19 175.55L506.50 175.80L506.81 176.12L507.12 176.49L507.44 176.89L507.75 177.33L508.06 177.77L508.38 178.22L508.69 178.66L509.00 179.07L509.31 179.45L509.62 179.79L509.94 180.07L510.25 180.30L510.56 180.00L510.87 179.61L511.18 179.14L511.48 178.62L511.79 178.06L512.10 177.50L512.41 176.96L512.72 176.48L513.03 176.07L513.33 175.76L513.64 175.57L513.95 175.50L514.26 175.53L514.56 175.64L514.87 175.81L515.18 176.03L515.48 176.31L515.79 176.64L516.09 177.00L516.40 177.38L516.71 177.77L517.01 178.17L517.32 178.55L517.62 178.92L517.93 179.25L518.24 179.55L518.54 179.80L518.85 180.00L519.17 179.74L519.48 179.40L519.80 178.99L520.12 178.53L520.43 178.04L520.75 177.55L521.07 177.08L521.38 176.66L521.70 176.30L522.02 176.03L522.33 175.86L522.65 175.80L522.95 175.84L523.25 175.97L523.55 176.17L523.85 176.44L524.15 176.77L524.45 177.15L524.75 177.55L525.05 177.97L525.35 178.39L525.65 178.80L525.95 179.17L526.25 179.50L526.55 179.78L526.85 180.00" fill="none" stroke="#8c8c8c" stroke-width="2.0" stroke-linejoin="round" clip-path="url(#cb)"/>
<path d="M306.85 272.50L307.16 271.27L307.46 269.77L307.77 268.04L308.07 266.09L308.38 263.95L308.68 261.67L308.99 259.28L309.29 256.83L309.60 254.37L309.90 251.95L310.21 249.62L310.51 247.42L310.82 245.41L311.12 243.63L311.43 242.12L311.73 240.91L312.04 240.02L312.34 239.48L312.65 239.30L312.96 239.69L313.27 240.84L313.57 242.69L313.88 245.16L314.19 248.13L314.50 251.47L314.80 255.03L315.11 258.64L315.42 262.16L315.73 265.44L316.03 268.36L316.34 270.80L316.65 272.70L316.96 271.45L317.27 269.94L317.58 268.19L317.89 266.21L318.20 264.05L318.51 261.74L318.82 259.32L319.13 256.84L319.44 254.35L319.76 251.90L320.07 249.54L320.38 247.32L320.69 245.29L321.00 243.49L321.31 241.95L321.62 240.73L321.93 239.83L322.24 239.28L322.55 239.10L322.86 239.44L323.16 240.45L323.47 242.08L323.78 244.27L324.09 246.94L324.39 249.97L324.70 253.24L325.01 256.64L325.31 260.03L325.62 263.29L325.93 266.30L326.24 268.98L326.54 271.23L326.85 273.00L327.16 271.77L327.47 270.27L327.78 268.54L328.09 266.59L328.40 264.45L328.71 262.17L329.02 259.78L329.33 257.33L329.64 254.87L329.96 252.45L330.27 250.12L330.58 247.92L330.89 245.91L331.20 244.13L331.51 242.62L331.82 241.41L332.13 240.52L332.44 239.98L332.75 239.80L333.05 240.18L333.35 241.32L333.65 243.15L333.95 245.59L334.25 248.53L334.55 251.83L334.85 255.34L335.15 258.91L335.45 262.39L335.75 265.63L336.05 268.51L336.35 270.92L336.65 272.80L336.95 271.71L337.26 270.41L337.56 268.91L337.87 267.22L338.17 265.38L338.48 263.40L338.78 261.32L339.09 259.16L339.39 256.97L339.70 254.77L340.00 252.61L340.31 250.51L340.61 248.52L340.92 246.68L341.22 245.00L341.53 243.53L341.83 242.29L342.14 241.30L342.44 240.58L342.75 240.15L343.05 240.00L343.37 240.45L343.68 241.78L344.00 243.92L344.32 246.74L344.63 250.10L344.95 253.81L345.27 257.68L345.58 261.52L345.90 265.12L346.22 268.34L346.53 271.03L346.85 273.10L347.16 271.84L347.47 270.31L347.78 268.53L348.09 266.53L348.40 264.35L348.71 262.01L349.02 259.56L349.33 257.05L349.64 254.53L349.96 252.05L350.27 249.66L350.58 247.42L350.89 245.36L351.20 243.54L351.51 241.99L351.82 240.75L352.13 239.84L352.44 239.29L352.75 239.10L353.05 239.45L353.35 240.49L353.65 242.17L353.95 244.42L354.25 247.17L354.55 250.29L354.85 253.66L355.15 257.16L355.45 260.65L355.75 264.00L356.05 267.11L356.35 269.86L356.65 272.17L356.95 274.00L357.26 272.57L357.56 270.82L357.87 268.78L358.17 266.49L358.48 263.97L358.78 261.30L359.09 258.51L359.39 255.67L359.70 252.84L360.01 250.10L360.31 247.49L360.62 245.09L360.92 242.95L361.23 241.12L361.53 239.65L361.84 238.58L362.14 237.92L362.45 237.70L362.76 238.11L363.08 239.32L363.39 241.29L363.71 243.92L364.02 247.13L364.34 250.78L364.65 254.72L364.96 258.81L365.28 262.89L365.59 266.81L365.91 270.44L366.22 273.66L366.54 276.37L366.85 278.50L367.16 276.50L367.46 274.05L367.77 271.17L368.07 267.92L368.38 264.37L368.69 260.60L368.99 256.70L369.30 252.76L369.60 248.89L369.91 245.19L370.21 241.74L370.52 238.65L370.83 236.00L371.13 233.86L371.44 232.29L371.74 231.32L372.05 231.00L372.35 231.47L372.65 232.84L372.95 235.09L373.25 238.12L373.55 241.83L373.85 246.09L374.15 250.76L374.45 255.67L374.75 260.66L375.05 265.58L375.35 270.26L375.65 274.58L375.95 278.40L376.25 281.63L376.55 284.20L376.85 281.93L377.15 279.15L377.45 275.91L377.75 272.26L378.05 268.26L378.35 264.00L378.65 259.57L378.95 255.06L379.25 250.57L379.55 246.20L379.85 242.06L380.15 238.25L380.45 234.85L380.75 231.94L381.05 229.61L381.35 227.89L381.65 226.85L381.95 226.50L382.27 227.26L382.60 229.49L382.92 233.10L383.24 237.92L383.57 243.71L383.89 250.22L384.21 257.16L384.53 264.20L384.86 271.06L385.18 277.45L385.50 283.13L385.83 287.89L386.15 291.60L386.47 288.72L386.79 285.17L387.10 281.01L387.42 276.32L387.74 271.19L388.06 265.75L388.37 260.12L388.69 254.43L389.01 248.84L389.33 243.49L389.64 238.52L389.96 234.05L390.28 230.22L390.60 227.13L390.91 224.86L391.23 223.47L391.55 223.00L391.87 223.90L392.20 226.57L392.52 230.88L392.84 236.63L393.17 243.55L393.49 251.32L393.81 259.59L394.13 268.00L394.46 276.19L394.78 283.82L395.10 290.59L395.43 296.28L395.75 300.70L396.06 297.50L396.36 293.58L396.67 289.02L396.97 283.87L397.28 278.24L397.58 272.25L397.89 266.00L398.19 259.64L398.50 253.31L398.81 247.16L399.11 241.33L399.42 235.95L399.72 231.16L400.03 227.07L400.33 223.78L400.64 221.36L400.94 219.89L401.25 219.40L401.55 220.19L401.85 222.53L402.15 226.34L402.45 231.49L402.75 237.78L403.05 245.02L403.35 252.94L403.65 261.27L403.95 269.75L404.25 278.09L404.55 286.05L404.85 293.36L405.15 299.85L405.45 305.33L405.75 309.70L406.06 305.59L406.38 300.47L406.69 294.45L407.00 287.65L407.31 280.25L407.62 272.42L407.94 264.39L408.25 256.37L408.56 248.60L408.88 241.31L409.19 234.72L409.50 229.03L409.81 224.40L410.12 220.99L410.44 218.90L410.75 218.20L411.06 218.80L411.36 220.61L411.67 223.58L411.98 227.66L412.28 232.80L412.59 238.91L412.90 245.88L413.20 253.61L413.51 261.98L413.82 270.86L414.12 280.12L414.43 289.65L414.74 299.30L415.04 308.95L415.35 318.50L415.66 308.95L415.96 299.30L416.27 289.65L416.58 280.12L416.88 270.86L417.19 261.98L417.50 253.61L417.80 245.88L418.11 238.91L418.42 232.80L418.72 227.66L419.03 223.58L419.34 220.61L419.64 218.80L419.95 218.20L420.26 218.90L420.58 220.99L420.89 224.40L421.20 229.03L421.51 234.72L421.83 241.31L422.14 248.60L422.45 256.37L422.76 264.39L423.08 272.42L423.39 280.25L423.70 287.65L424.01 294.45L424.33 300.47L424.64 305.59L424.95 309.70L425.25 305.33L425.55 299.85L425.85 293.36L426.15 286.05L426.45 278.09L426.75 269.75L427.05 261.27L427.35 252.94L427.65 245.02L427.95 237.78L428.25 231.49L428.55 226.34L428.85 222.53L429.15 220.19L429.45 219.40L429.76 219.89L430.06 221.36L430.37 223.78L430.67 227.07L430.98 231.16L431.28 235.95L431.59 241.33L431.89 247.16L432.20 253.31L432.51 259.64L432.81 266.00L433.12 272.25L433.42 278.24L433.73 283.87L434.03 289.02L434.34 293.58L434.64 297.50L434.95 300.70L435.27 296.28L435.60 290.59L435.92 283.82L436.24 276.19L436.57 268.00L436.89 259.59L437.21 251.32L437.53 243.55L437.86 236.63L438.18 230.88L438.50 226.57L438.83 223.90L439.15 223.00L439.47 223.47L439.79 224.86L440.10 227.13L440.42 230.22L440.74 234.05L441.06 238.52L441.37 243.49L441.69 248.84L442.01 254.43L442.33 260.12L442.64 265.75L442.96 271.19L443.28 276.32L443.60 281.01L443.91 285.17L444.23 288.72L444.55 291.60L444.87 287.89L445.20 283.13L445.52 277.45L445.84 271.06L446.17 264.20L446.49 257.16L446.81 250.22L447.13 243.71L447.46 237.92L447.78 233.10L448.10 229.49L448.43 227.26L448.75 226.50L449.05 226.85L449.35 227.89L449.65 229.61L449.95 231.94L450.25 234.85L450.55 238.25L450.85 242.06L451.15 246.20L451.45 250.57L451.75 255.06L452.05 259.57L452.35 264.00L452.65 268.26L452.95 272.26L453.25 275.91L453.55 279.15L453.85 281.93L454.15 284.20L454.45 281.63L454.75 278.40L455.05 274.58L455.35 270.26L455.65 265.58L455.95 260.66L456.25 255.67L456.55 250.76L456.85 246.09L457.15 241.83L457.45 238.12L457.75 235.09L458.05 232.84L458.35 231.47L458.65 231.00L458.96 231.32L459.26 232.29L459.57 233.86L459.87 236.00L460.18 238.65L460.49 241.74L460.79 245.19L461.10 248.89L461.40 252.76L461.71 256.70L462.01 260.60L462.32 264.37L462.63 267.92L462.93 271.17L463.24 274.05L463.54 276.50L463.85 278.50L464.16 276.37L464.48 273.66L464.79 270.44L465.11 266.81L465.42 262.89L465.74 258.81L466.05 254.72L466.36 250.78L466.68 247.13L466.99 243.92L467.31 241.29L467.62 239.32L467.94 238.11L468.25 237.70L468.56 237.92L468.86 238.58L469.17 239.65L469.47 241.12L469.78 242.95L470.08 245.09L470.39 247.49L470.69 250.10L471.00 252.84L471.31 255.67L471.61 258.51L471.92 261.30L472.22 263.97L472.53 266.49L472.83 268.78L473.14 270.82L473.44 272.57L473.75 274.00L474.05 272.17L474.35 269.86L474.65 267.11L474.95 264.00L475.25 260.65L475.55 257.16L475.85 253.66L476.15 250.29L476.45 247.17L476.75 244.42L477.05 242.17L477.35 240.49L477.65 239.45L477.95 239.10L478.26 239.29L478.57 239.84L478.88 240.75L479.19 241.99L479.50 243.54L479.81 245.36L480.12 247.42L480.43 249.66L480.74 252.05L481.06 254.53L481.37 257.05L481.68 259.56L481.99 262.01L482.30 264.35L482.61 266.53L482.92 268.53L483.23 270.31L483.54 271.84L483.85 273.10L484.17 271.03L484.48 268.34L484.80 265.12L485.12 261.52L485.43 257.68L485.75 253.81L486.07 250.10L486.38 246.74L486.70 243.92L487.02 241.78L487.33 240.45L487.65 240.00L487.95 240.15L488.26 240.58L488.56 241.30L488.87 242.29L489.17 243.53L489.48 245.00L489.78 246.68L490.09 248.52L490.39 250.51L490.70 252.61L491.00 254.77L491.31 256.97L491.61 259.16L491.92 261.32L492.22 263.40L492.53 265.38L492.83 267.22L493.14 268.91L493.44 270.41L493.75 271.71L494.05 272.80L494.35 270.92L494.65 268.51L494.95 265.63L495.25 262.39L495.55 258.91L495.85 255.34L496.15 251.83L496.45 248.53L496.75 245.59L497.05 243.15L497.35 241.32L497.65 240.18L497.95 239.80L498.26 239.98L498.57 240.52L498.88 241.41L499.19 242.62L499.50 244.13L499.81 245.91L500.12 247.92L500.43 250.12L500.74 252.45L501.06 254.87L501.37 257.33L501.68 259.78L501.99 262.17L502.30 264.45L502.61 266.59L502.92 268.54L503.23 270.27L503.54 271.77L503.85 273.00L504.16 271.23L504.46 268.98L504.77 266.30L505.08 263.29L505.39 260.03L505.69 256.64L506.00 253.24L506.31 249.97L506.61 246.94L506.92 244.27L507.23 242.08L507.54 240.45L507.84 239.44L508.15 239.10L508.46 239.28L508.77 239.83L509.08 240.73L509.39 241.95L509.70 243.49L510.01 245.29L510.32 247.32L510.63 249.54L510.94 251.90L511.26 254.35L511.57 256.84L511.88 259.32L512.19 261.74L512.50 264.05L512.81 266.21L513.12 268.19L513.43 269.94L513.74 271.45L514.05 272.70L514.36 270.80L514.67 268.36L514.97 265.44L515.28 262.16L515.59 258.64L515.90 255.03L516.20 251.47L516.51 248.13L516.82 245.16L517.13 242.69L517.43 240.84L517.74 239.69L518.05 239.30L518.36 239.48L518.66 240.02L518.97 240.91L519.27 242.12L519.58 243.63L519.88 245.41L520.19 247.42L520.49 249.62L520.80 251.95L521.10 254.37L521.41 256.83L521.71 259.28L522.02 261.67L522.32 263.95L522.63 266.09L522.93 268.04L523.24 269.77L523.54 271.27L523.85 272.50" fill="none" stroke="#1f40d4" stroke-width="2.5" stroke-linejoin="round" clip-path="url(#cb)"/>
<path d="M297.15 360.06L297.46 358.41L297.77 356.27L298.07 353.69L298.38 350.72L298.69 347.45L299.00 343.96L299.30 340.35L299.61 336.73L299.92 333.20L300.23 329.88L300.54 326.87L300.84 324.27L301.15 322.15L301.46 320.58L301.77 319.62L302.08 319.30L302.38 319.63L302.69 320.59L303.00 322.17L303.31 324.31L303.61 326.93L303.92 329.97L304.23 333.31L304.54 336.87L304.85 340.52L305.15 344.16L305.46 347.67L305.77 350.97L306.08 353.96L306.38 356.57L306.69 358.72L307.00 360.39L307.31 358.72L307.62 356.57L307.92 353.96L308.23 350.97L308.54 347.67L308.85 344.16L309.15 340.52L309.46 336.87L309.77 333.31L310.08 329.97L310.39 326.93L310.69 324.31L311.00 322.17L311.31 320.59L311.62 319.63L311.93 319.30L312.23 319.63L312.54 320.60L312.85 322.19L313.16 324.35L313.46 326.99L313.77 330.05L314.08 333.42L314.39 337.01L314.70 340.69L315.00 344.35L315.31 347.90L315.62 351.23L315.93 354.24L316.23 356.86L316.54 359.04L316.85 360.72L317.16 359.04L317.47 356.86L317.77 354.24L318.08 351.23L318.39 347.90L318.70 344.35L319.00 340.69L319.31 337.01L319.62 333.42L319.93 330.05L320.24 326.99L320.54 324.35L320.85 322.19L321.16 320.60L321.47 319.63L321.78 319.30L322.08 319.63L322.39 320.61L322.70 322.22L323.01 324.39L323.31 327.06L323.62 330.14L323.93 333.54L324.24 337.16L324.55 340.87L324.85 344.57L325.16 348.14L325.47 351.50L325.78 354.54L326.08 357.18L326.39 359.37L326.70 361.07L327.01 359.37L327.32 357.18L327.62 354.54L327.93 351.50L328.24 348.14L328.55 344.57L328.85 340.87L329.16 337.16L329.47 333.54L329.78 330.14L330.09 327.06L330.39 324.39L330.70 322.22L331.01 320.61L331.32 319.63L331.62 319.30L331.93 319.64L332.24 320.63L332.55 322.25L332.86 324.45L333.16 327.15L333.47 330.27L333.78 333.71L334.09 337.37L334.40 341.12L334.70 344.86L335.01 348.48L335.32 351.88L335.63 354.95L335.93 357.63L336.24 359.85L336.55 361.56L336.86 359.85L337.17 357.63L337.47 354.95L337.78 351.88L338.09 348.48L338.40 344.86L338.70 341.12L339.01 337.37L339.32 333.71L339.63 330.27L339.94 327.15L340.24 324.45L340.55 322.25L340.86 320.63L341.17 319.64L341.48 319.30L341.78 319.64L342.09 320.65L342.40 322.29L342.71 324.52L343.01 327.25L343.32 330.41L343.63 333.90L343.94 337.60L344.25 341.40L344.55 345.19L344.86 348.86L345.17 352.30L345.48 355.41L345.78 358.12L346.09 360.37L346.40 362.11L346.71 360.37L347.02 358.12L347.32 355.41L347.63 352.30L347.94 348.86L348.25 345.19L348.55 341.40L348.86 337.60L349.17 333.90L349.48 330.41L349.79 327.25L350.09 324.52L350.40 322.29L350.71 320.65L351.02 319.64L351.33 319.30L351.63 319.65L351.94 320.68L352.25 322.36L352.56 324.64L352.86 327.43L353.17 330.67L353.48 334.23L353.79 338.02L354.10 341.91L354.40 345.79L354.71 349.54L355.02 353.06L355.33 356.24L355.63 359.02L355.94 361.31L356.25 363.09L356.56 361.31L356.87 359.02L357.17 356.24L357.48 353.06L357.79 349.54L358.10 345.79L358.40 341.91L358.71 338.02L359.02 334.23L359.33 330.67L359.64 327.43L359.94 324.64L360.25 322.36L360.56 320.68L360.87 319.65L361.18 319.30L361.48 319.66L361.79 320.71L362.10 322.43L362.41 324.76L362.71 327.62L363.02 330.92L363.33 334.57L363.64 338.44L363.95 342.42L364.25 346.39L364.56 350.22L364.87 353.82L365.18 357.07L365.48 359.91L365.79 362.26L366.10 364.07L366.41 362.26L366.72 359.91L367.02 357.07L367.33 353.82L367.64 350.22L367.95 346.39L368.25 342.42L368.56 338.44L368.87 334.57L369.18 330.92L369.49 327.62L369.79 324.76L370.10 322.43L370.41 320.71L370.72 319.66L371.03 319.30L371.33 319.66L371.64 320.74L371.95 322.50L372.26 324.88L372.56 327.80L372.87 331.18L373.18 334.91L373.49 338.86L373.80 342.93L374.10 346.98L374.41 350.90L374.72 354.58L375.03 357.90L375.33 360.80L375.64 363.20L375.95 365.06L376.26 363.20L376.57 360.80L376.87 357.90L377.18 354.58L377.49 350.90L377.80 346.98L378.10 342.93L378.41 338.86L378.72 334.91L379.03 331.18L379.34 327.80L379.64 324.88L379.95 322.50L380.26 320.74L380.57 319.66L380.88 319.30L381.18 319.67L381.49 320.77L381.80 322.56L382.11 324.99L382.41 327.98L382.72 331.43L383.03 335.24L383.34 339.28L383.65 343.43L383.95 347.57L384.26 351.57L384.57 355.33L384.88 358.73L385.18 361.69L385.49 364.14L385.80 366.03L386.11 364.14L386.42 361.69L386.72 358.73L387.03 355.33L387.34 351.57L387.65 347.57L387.95 343.43L388.26 339.28L388.57 335.24L388.88 331.43L389.19 327.98L389.49 324.99L389.80 322.56L390.11 320.77L390.42 319.67L390.73 319.30L391.03 319.68L391.34 320.79L391.65 322.62L391.96 325.08L392.26 328.12L392.57 331.62L392.88 335.49L393.19 339.60L393.50 343.81L393.80 348.02L394.11 352.08L394.42 355.90L394.73 359.35L395.03 362.36L395.34 364.85L395.65 366.77L395.96 364.85L396.27 362.36L396.57 359.35L396.88 355.90L397.19 352.08L397.50 348.02L397.80 343.81L398.11 339.60L398.42 335.49L398.73 331.62L399.04 328.12L399.34 325.08L399.65 322.62L399.96 320.79L400.27 319.68L400.58 319.30L400.88 319.68L401.19 320.82L401.50 322.67L401.81 325.18L402.11 328.26L402.42 331.82L402.73 335.75L403.04 339.92L403.35 344.20L403.65 348.47L403.96 352.60L404.27 356.47L404.58 359.98L404.88 363.04L405.19 365.57L405.50 367.52L405.81 365.57L406.12 363.04L406.42 359.98L406.73 356.47L407.04 352.60L407.35 348.47L407.65 344.20L407.96 339.92L408.27 335.75L408.58 331.82L408.89 328.26L409.19 325.18L409.50 322.67L409.81 320.82L410.12 319.68L410.43 319.30L410.73 319.70L411.04 320.87L411.35 322.79L411.66 325.39L411.96 328.59L412.27 332.28L412.58 336.35L412.89 340.68L413.20 345.12L413.50 349.55L413.81 353.83L414.12 357.84L414.43 361.48L414.73 364.65L415.04 367.27L415.35 369.30L415.66 367.27L415.97 364.65L416.27 361.48L416.58 357.84L416.89 353.83L417.20 349.55L417.50 345.12L417.81 340.68L418.12 336.35L418.43 332.28L418.74 328.59L419.04 325.39L419.35 322.79L419.66 320.87L419.97 319.70L420.28 319.30L420.58 319.68L420.89 320.82L421.20 322.67L421.51 325.18L421.81 328.26L422.12 331.82L422.43 335.75L422.74 339.92L423.05 344.20L423.35 348.47L423.66 352.60L423.97 356.47L424.28 359.98L424.58 363.04L424.89 365.57L425.20 367.52L425.51 365.57L425.82 363.04L426.12 359.98L426.43 356.47L426.74 352.60L427.05 348.47L427.35 344.20L427.66 339.92L427.97 335.75L428.28 331.82L428.59 328.26L428.89 325.18L429.20 322.67L429.51 320.82L429.82 319.68L430.12 319.30L430.43 319.68L430.74 320.79L431.05 322.62L431.36 325.08L431.66 328.12L431.97 331.62L432.28 335.49L432.59 339.60L432.90 343.81L433.20 348.02L433.51 352.08L433.82 355.90L434.13 359.35L434.43 362.36L434.74 364.85L435.05 366.77L435.36 364.85L435.67 362.36L435.97 359.35L436.28 355.90L436.59 352.08L436.90 348.02L437.20 343.81L437.51 339.60L437.82 335.49L438.13 331.62L438.44 328.12L438.74 325.08L439.05 322.62L439.36 320.79L439.67 319.68L439.98 319.30L440.28 319.67L440.59 320.77L440.90 322.56L441.21 324.99L441.51 327.98L441.82 331.43L442.13 335.24L442.44 339.28L442.75 343.43L443.05 347.57L443.36 351.57L443.67 355.33L443.98 358.73L444.28 361.69L444.59 364.14L444.90 366.03L445.21 364.14L445.52 361.69L445.82 358.73L446.13 355.33L446.44 351.57L446.75 347.57L447.05 343.43L447.36 339.28L447.67 335.24L447.98 331.43L448.29 327.98L448.59 324.99L448.90 322.56L449.21 320.77L449.52 319.67L449.83 319.30L450.13 319.66L450.44 320.74L450.75 322.50L451.06 324.88L451.36 327.80L451.67 331.18L451.98 334.91L452.29 338.86L452.60 342.93L452.90 346.98L453.21 350.90L453.52 354.58L453.83 357.90L454.13 360.80L454.44 363.20L454.75 365.06L455.06 363.20L455.37 360.80L455.67 357.90L455.98 354.58L456.29 350.90L456.60 346.98L456.90 342.93L457.21 338.86L457.52 334.91L457.83 331.18L458.14 327.80L458.44 324.88L458.75 322.50L459.06 320.74L459.37 319.66L459.68 319.30L459.98 319.66L460.29 320.71L460.60 322.43L460.91 324.76L461.21 327.62L461.52 330.92L461.83 334.57L462.14 338.44L462.45 342.42L462.75 346.39L463.06 350.22L463.37 353.82L463.68 357.07L463.98 359.91L464.29 362.26L464.60 364.07L464.91 362.26L465.22 359.91L465.52 357.07L465.83 353.82L466.14 350.22L466.45 346.39L466.75 342.42L467.06 338.44L467.37 334.57L467.68 330.92L467.99 327.62L468.29 324.76L468.60 322.43L468.91 320.71L469.22 319.66L469.53 319.30L469.83 319.65L470.14 320.68L470.45 322.36L470.76 324.64L471.06 327.43L471.37 330.67L471.68 334.23L471.99 338.02L472.30 341.91L472.60 345.79L472.91 349.54L473.22 353.06L473.53 356.24L473.83 359.02L474.14 361.31L474.45 363.09L474.76 361.31L475.07 359.02L475.37 356.24L475.68 353.06L475.99 349.54L476.30 345.79L476.60 341.91L476.91 338.02L477.22 334.23L477.53 330.67L477.84 327.43L478.14 324.64L478.45 322.36L478.76 320.68L479.07 319.65L479.38 319.30L479.68 319.64L479.99 320.65L480.30 322.29L480.61 324.52L480.91 327.25L481.22 330.41L481.53 333.90L481.84 337.60L482.15 341.40L482.45 345.19L482.76 348.86L483.07 352.30L483.38 355.41L483.68 358.12L483.99 360.37L484.30 362.11L484.61 360.37L484.92 358.12L485.22 355.41L485.53 352.30L485.84 348.86L486.15 345.19L486.45 341.40L486.76 337.60L487.07 333.90L487.38 330.41L487.69 327.25L487.99 324.52L488.30 322.29L488.61 320.65L488.92 319.64L489.23 319.30L489.53 319.64L489.84 320.63L490.15 322.25L490.46 324.45L490.76 327.15L491.07 330.27L491.38 333.71L491.69 337.37L492.00 341.12L492.30 344.86L492.61 348.48L492.92 351.88L493.23 354.95L493.53 357.63L493.84 359.85L494.15 361.56L494.46 359.85L494.77 357.63L495.07 354.95L495.38 351.88L495.69 348.48L496.00 344.86L496.30 341.12L496.61 337.37L496.92 333.71L497.23 330.27L497.54 327.15L497.84 324.45L498.15 322.25L498.46 320.63L498.77 319.64L499.08 319.30L499.38 319.63L499.69 320.61L500.00 322.22L500.31 324.39L500.61 327.06L500.92 330.14L501.23 333.54L501.54 337.16L501.85 340.87L502.15 344.57L502.46 348.14L502.77 351.50L503.08 354.54L503.38 357.18L503.69 359.37L504.00 361.07L504.31 359.37L504.62 357.18L504.92 354.54L505.23 351.50L505.54 348.14L505.85 344.57L506.15 340.87L506.46 337.16L506.77 333.54L507.08 330.14L507.39 327.06L507.69 324.39L508.00 322.22L508.31 320.61L508.62 319.63L508.93 319.30L509.23 319.63L509.54 320.60L509.85 322.19L510.16 324.35L510.46 326.99L510.77 330.05L511.08 333.42L511.39 337.01L511.70 340.69L512.00 344.35L512.31 347.90L512.62 351.23L512.93 354.24L513.23 356.86L513.54 359.04L513.85 360.72L514.16 359.04L514.47 356.86L514.77 354.24L515.08 351.23L515.39 347.90L515.70 344.35L516.00 340.69L516.31 337.01L516.62 333.42L516.93 330.05L517.24 326.99L517.54 324.35L517.85 322.19L518.16 320.60L518.47 319.63L518.77 319.30L519.08 319.63L519.39 320.59L519.70 322.17L520.01 324.31L520.31 326.93L520.62 329.97L520.93 333.31L521.24 336.87L521.55 340.52L521.85 344.16L522.16 347.67L522.47 350.97L522.78 353.96L523.08 356.57L523.39 358.72L523.70 360.39L524.01 358.72L524.32 356.57L524.62 353.96L524.93 350.97L525.24 347.67L525.55 344.16L525.85 340.52L526.16 336.87L526.47 333.31L526.78 329.97L527.09 326.93L527.39 324.31L527.70 322.17L528.01 320.59L528.32 319.63L528.62 319.30L528.93 319.62L529.24 320.58L529.55 322.15L529.86 324.27L530.16 326.87L530.47 329.88L530.78 333.20L531.09 336.73L531.40 340.35L531.70 343.96L532.01 347.45L532.32 350.72L532.63 353.69L532.93 356.27L533.24 358.41L533.55 360.06" fill="none" stroke="#e4141c" stroke-width="2.7" stroke-linejoin="round" clip-path="url(#cb)"/>
<line x1="312.2" y1="25.4" x2="312.2" y2="370.9" stroke="#000" stroke-width="1.9"/>
<line x1="312.2" y1="370.2" x2="518.4" y2="370.2" stroke="#000" stroke-width="1.4"/>
<line x1="518.4" y1="25.4" x2="518.4" y2="370.9" stroke="#111" stroke-width="1.0"/>
<line x1="312.2" y1="26.0" x2="518.4" y2="26.0" stroke="#111" stroke-width="1.2"/>
<line x1="312.45" y1="370.2" x2="312.45" y2="366.2" stroke="#000" stroke-width="1.4"/>
<line x1="312.45" y1="26.0" x2="312.45" y2="30.0" stroke="#000" stroke-width="1.4"/>
<line x1="363.90" y1="370.2" x2="363.90" y2="367.7" stroke="#000" stroke-width="1.4"/>
<line x1="363.90" y1="26.0" x2="363.90" y2="28.5" stroke="#000" stroke-width="1.4"/>
<line x1="415.35" y1="370.2" x2="415.35" y2="366.2" stroke="#000" stroke-width="1.4"/>
<line x1="415.35" y1="26.0" x2="415.35" y2="30.0" stroke="#000" stroke-width="1.4"/>
<line x1="466.80" y1="370.2" x2="466.80" y2="367.7" stroke="#000" stroke-width="1.4"/>
<line x1="466.80" y1="26.0" x2="466.80" y2="28.5" stroke="#000" stroke-width="1.4"/>
<line x1="518.25" y1="370.2" x2="518.25" y2="366.2" stroke="#000" stroke-width="1.4"/>
<line x1="518.25" y1="26.0" x2="518.25" y2="30.0" stroke="#000" stroke-width="1.4"/>
<line x1="312.2" y1="369.10" x2="316.2" y2="369.10" stroke="#000" stroke-width="1.4"/>
<line x1="518.4" y1="369.10" x2="514.4" y2="369.10" stroke="#000" stroke-width="1.4"/>
<line x1="312.2" y1="343.66" x2="314.7" y2="343.66" stroke="#000" stroke-width="1.4"/>
<line x1="518.4" y1="343.66" x2="515.9" y2="343.66" stroke="#000" stroke-width="1.4"/>
<line x1="312.2" y1="318.22" x2="316.2" y2="318.22" stroke="#000" stroke-width="1.4"/>
<line x1="518.4" y1="318.22" x2="514.4" y2="318.22" stroke="#000" stroke-width="1.4"/>
<line x1="312.2" y1="292.78" x2="314.7" y2="292.78" stroke="#000" stroke-width="1.4"/>
<line x1="518.4" y1="292.78" x2="515.9" y2="292.78" stroke="#000" stroke-width="1.4"/>
<line x1="312.2" y1="267.34" x2="316.2" y2="267.34" stroke="#000" stroke-width="1.4"/>
<line x1="518.4" y1="267.34" x2="514.4" y2="267.34" stroke="#000" stroke-width="1.4"/>
<line x1="312.2" y1="241.90" x2="314.7" y2="241.90" stroke="#000" stroke-width="1.4"/>
<line x1="518.4" y1="241.90" x2="515.9" y2="241.90" stroke="#000" stroke-width="1.4"/>
<line x1="312.2" y1="216.46" x2="316.2" y2="216.46" stroke="#000" stroke-width="1.4"/>
<line x1="518.4" y1="216.46" x2="514.4" y2="216.46" stroke="#000" stroke-width="1.4"/>
<line x1="312.2" y1="191.02" x2="314.7" y2="191.02" stroke="#000" stroke-width="1.4"/>
<line x1="518.4" y1="191.02" x2="515.9" y2="191.02" stroke="#000" stroke-width="1.4"/>
<line x1="312.2" y1="165.58" x2="316.2" y2="165.58" stroke="#000" stroke-width="1.4"/>
<line x1="518.4" y1="165.58" x2="514.4" y2="165.58" stroke="#000" stroke-width="1.4"/>
<line x1="312.2" y1="140.14" x2="314.7" y2="140.14" stroke="#000" stroke-width="1.4"/>
<line x1="518.4" y1="140.14" x2="515.9" y2="140.14" stroke="#000" stroke-width="1.4"/>
<line x1="312.2" y1="114.70" x2="316.2" y2="114.70" stroke="#000" stroke-width="1.4"/>
<line x1="518.4" y1="114.70" x2="514.4" y2="114.70" stroke="#000" stroke-width="1.4"/>
<line x1="312.2" y1="89.26" x2="314.7" y2="89.26" stroke="#000" stroke-width="1.4"/>
<line x1="518.4" y1="89.26" x2="515.9" y2="89.26" stroke="#000" stroke-width="1.4"/>
<line x1="312.2" y1="63.82" x2="316.2" y2="63.82" stroke="#000" stroke-width="1.4"/>
<line x1="518.4" y1="63.82" x2="514.4" y2="63.82" stroke="#000" stroke-width="1.4"/>
<line x1="312.2" y1="38.38" x2="314.7" y2="38.38" stroke="#000" stroke-width="1.4"/>
<line x1="518.4" y1="38.38" x2="515.9" y2="38.38" stroke="#000" stroke-width="1.4"/>
<clipPath id="cc"><rect x="87.3" y="437.0" width="389.5" height="216.70000000000005"/></clipPath>
<path d="M47.26 619.90L47.57 616.83L47.87 613.68L48.18 610.46L48.48 607.16L48.79 603.79L49.09 600.35L49.40 596.86L49.70 593.31L50.01 589.72L50.32 586.08L50.62 582.41L50.93 578.71L51.23 574.99L51.54 571.25L51.84 567.50L52.15 563.76L52.45 560.02L52.76 556.29L53.06 552.59L53.37 548.92L53.68 545.29L53.98 541.70L54.29 538.17L54.59 534.70L54.90 531.30L55.20 527.98L55.51 524.74L55.81 521.60L56.12 518.55L56.43 515.62L56.73 512.80L57.04 510.10L57.34 507.53L57.65 505.09L57.95 502.79L58.26 500.64L58.56 498.64L58.87 496.80L59.18 495.12L59.48 493.61L59.79 492.26L60.09 491.09L60.40 490.09L60.70 489.27L61.01 488.63L61.31 488.17L61.62 487.89L61.92 487.80L62.23 487.89L62.54 488.18L62.84 488.65L63.15 489.31L63.45 490.16L63.76 491.19L64.06 492.40L64.37 493.79L64.67 495.35L64.98 497.08L65.29 498.98L65.59 501.04L65.90 503.26L66.20 505.63L66.51 508.14L66.81 510.79L67.12 513.57L67.42 516.48L67.73 519.51L68.04 522.64L68.34 525.89L68.65 529.22L68.95 532.65L69.26 536.15L69.56 539.73L69.87 543.37L70.17 547.07L70.48 550.82L70.79 554.60L71.09 558.42L71.40 562.26L71.70 566.11L72.01 569.98L72.31 573.84L72.62 577.69L72.92 581.53L73.23 585.35L73.53 589.13L73.84 592.88L74.15 596.59L74.45 600.24L74.76 603.84L75.06 607.39L75.37 610.86L75.67 614.26L75.98 617.59L76.28 620.84L76.59 624.00L76.90 620.84L77.20 617.59L77.51 614.26L77.81 610.86L78.12 607.39L78.42 603.84L78.73 600.24L79.03 596.59L79.34 592.88L79.65 589.13L79.95 585.35L80.26 581.53L80.56 577.69L80.87 573.84L81.17 569.98L81.48 566.12L81.78 562.26L82.09 558.42L82.39 554.60L82.70 550.82L83.01 547.07L83.31 543.37L83.62 539.73L83.92 536.15L84.23 532.65L84.53 529.22L84.84 525.89L85.14 522.64L85.45 519.51L85.76 516.48L86.06 513.57L86.37 510.79L86.67 508.14L86.98 505.63L87.28 503.26L87.59 501.04L87.89 498.98L88.20 497.08L88.51 495.35L88.81 493.79L89.12 492.40L89.42 491.19L89.73 490.16L90.03 489.31L90.34 488.65L90.64 488.18L90.95 487.89L91.25 487.80L91.56 487.90L91.87 488.19L92.17 488.68L92.48 489.36L92.78 490.23L93.09 491.29L93.39 492.54L93.70 493.97L94.00 495.58L94.31 497.36L94.62 499.32L94.92 501.44L95.23 503.72L95.53 506.16L95.84 508.75L96.14 511.48L96.45 514.35L96.75 517.34L97.06 520.46L97.37 523.69L97.67 527.03L97.98 530.47L98.28 534.00L98.59 537.61L98.89 541.30L99.20 545.05L99.50 548.86L99.81 552.72L100.12 556.61L100.42 560.55L100.73 564.50L101.03 568.47L101.34 572.45L101.64 576.43L101.95 580.40L102.25 584.35L102.56 588.28L102.86 592.18L103.17 596.04L103.48 599.86L103.78 603.63L104.09 607.34L104.39 610.99L104.70 614.56L105.00 618.07L105.31 621.50L105.61 624.84L105.92 628.10L106.23 624.84L106.53 621.50L106.84 618.07L107.14 614.56L107.45 610.99L107.75 607.34L108.06 603.63L108.36 599.86L108.67 596.04L108.98 592.18L109.28 588.28L109.59 584.35L109.89 580.40L110.20 576.43L110.50 572.45L110.81 568.47L111.11 564.50L111.42 560.55L111.72 556.61L112.03 552.72L112.34 548.86L112.64 545.05L112.95 541.30L113.25 537.61L113.56 534.00L113.86 530.47L114.17 527.03L114.47 523.69L114.78 520.46L115.09 517.34L115.39 514.35L115.70 511.48L116.00 508.75L116.31 506.16L116.61 503.72L116.92 501.44L117.22 499.32L117.53 497.36L117.84 495.58L118.14 493.97L118.45 492.54L118.75 491.29L119.06 490.23L119.36 489.36L119.67 488.68L119.97 488.19L120.28 487.90L120.58 487.80L120.89 487.90L121.20 488.20L121.50 488.70L121.81 489.40L122.11 490.30L122.42 491.39L122.72 492.67L123.03 494.15L123.33 495.80L123.64 497.64L123.95 499.65L124.25 501.84L124.56 504.19L124.86 506.70L125.17 509.36L125.47 512.17L125.78 515.12L126.08 518.21L126.39 521.42L126.70 524.74L127.00 528.18L127.31 531.72L127.61 535.35L127.92 539.07L128.22 542.86L128.53 546.72L128.83 550.64L129.14 554.61L129.45 558.63L129.75 562.67L130.06 566.74L130.36 570.83L130.67 574.92L130.97 579.02L131.28 583.11L131.58 587.17L131.89 591.22L132.19 595.23L132.50 599.21L132.81 603.14L133.11 607.01L133.42 610.83L133.72 614.59L134.03 618.27L134.33 621.88L134.64 625.40L134.94 628.85L135.25 632.20L135.56 628.85L135.86 625.40L136.17 621.88L136.47 618.27L136.78 614.59L137.08 610.83L137.39 607.01L137.69 603.14L138.00 599.21L138.31 595.23L138.61 591.22L138.92 587.17L139.22 583.11L139.53 579.02L139.83 574.92L140.14 570.83L140.44 566.74L140.75 562.67L141.05 558.63L141.36 554.61L141.67 550.64L141.97 546.72L142.28 542.86L142.58 539.07L142.89 535.35L143.19 531.72L143.50 528.18L143.80 524.74L144.11 521.42L144.42 518.21L144.72 515.12L145.03 512.17L145.33 509.36L145.64 506.70L145.94 504.19L146.25 501.84L146.55 499.65L146.86 497.64L147.17 495.80L147.47 494.15L147.78 492.67L148.08 491.39L148.39 490.30L148.69 489.40L149.00 488.70L149.30 488.20L149.61 487.90L149.91 487.80L150.22 487.90L150.53 488.21L150.83 488.73L151.14 489.45L151.44 490.37L151.75 491.49L152.05 492.81L152.36 494.33L152.66 496.03L152.97 497.92L153.28 499.99L153.58 502.24L153.89 504.65L154.19 507.23L154.50 509.97L154.80 512.86L155.11 515.90L155.41 519.07L155.72 522.37L156.03 525.79L156.33 529.32L156.64 532.96L156.94 536.70L157.25 540.52L157.55 544.42L157.86 548.39L158.16 552.43L158.47 556.51L158.78 560.64L159.08 564.80L159.39 568.98L159.69 573.19L160.00 577.40L160.30 581.61L160.61 585.81L160.91 590.00L161.22 594.16L161.52 598.28L161.83 602.37L162.14 606.41L162.44 610.40L162.75 614.32L163.05 618.18L163.36 621.97L163.66 625.68L163.97 629.31L164.27 632.85L164.58 636.30L164.89 632.85L165.19 629.31L165.50 625.68L165.80 621.97L166.11 618.18L166.41 614.32L166.72 610.40L167.02 606.41L167.33 602.37L167.64 598.28L167.94 594.16L168.25 590.00L168.55 585.81L168.86 581.61L169.16 577.40L169.47 573.19L169.77 568.98L170.08 564.80L170.38 560.64L170.69 556.51L171.00 552.43L171.30 548.39L171.61 544.42L171.91 540.52L172.22 536.70L172.52 532.96L172.83 529.32L173.13 525.79L173.44 522.37L173.75 519.07L174.05 515.90L174.36 512.86L174.66 509.97L174.97 507.23L175.27 504.65L175.58 502.24L175.88 499.99L176.19 497.92L176.50 496.03L176.80 494.33L177.11 492.81L177.41 491.49L177.72 490.37L178.02 489.45L178.33 488.73L178.63 488.21L178.94 487.90L179.24 487.80L179.55 487.91L179.86 488.22L180.16 488.75L180.47 489.49L180.77 490.44L181.08 491.59L181.38 492.95L181.69 494.51L181.99 496.26L182.30 498.20L182.61 500.33L182.91 502.64L183.22 505.12L183.52 507.77L183.83 510.59L184.13 513.56L184.44 516.67L184.74 519.93L185.05 523.32L185.36 526.84L185.66 530.47L185.97 534.21L186.27 538.05L186.58 541.98L186.88 545.99L187.19 550.07L187.49 554.21L187.80 558.41L188.11 562.65L188.41 566.92L188.72 571.23L189.02 575.55L189.33 579.87L189.63 584.20L189.94 588.52L190.24 592.82L190.55 597.09L190.85 601.33L191.16 605.53L191.47 609.69L191.77 613.78L192.08 617.82L192.38 621.78L192.69 625.68L192.99 629.49L193.30 633.22L193.60 636.86L193.91 640.40L194.22 636.86L194.52 633.22L194.83 629.49L195.13 625.68L195.44 621.78L195.74 617.82L196.05 613.78L196.35 609.69L196.66 605.53L196.97 601.33L197.27 597.09L197.58 592.82L197.88 588.52L198.19 584.20L198.49 579.87L198.80 575.54L199.10 571.23L199.41 566.92L199.71 562.65L200.02 558.41L200.33 554.21L200.63 550.07L200.94 545.99L201.24 541.98L201.55 538.05L201.85 534.21L202.16 530.47L202.46 526.84L202.77 523.32L203.08 519.93L203.38 516.67L203.69 513.56L203.99 510.59L204.30 507.77L204.60 505.12L204.91 502.64L205.21 500.33L205.52 498.20L205.83 496.26L206.13 494.51L206.44 492.95L206.74 491.59L207.05 490.44L207.35 489.49L207.66 488.75L207.96 488.22L208.27 487.91L208.57 487.80L208.88 487.91L209.19 488.24L209.49 488.78L209.80 489.54L210.10 490.51L210.41 491.70L210.71 493.09L211.02 494.69L211.32 496.48L211.63 498.48L211.94 500.66L212.24 503.03L212.55 505.58L212.85 508.31L213.16 511.20L213.46 514.25L213.77 517.45L214.07 520.80L214.38 524.28L214.69 527.89L214.99 531.62L215.30 535.46L215.60 539.40L215.91 543.43L216.21 547.55L216.52 551.74L216.82 555.99L217.13 560.30L217.44 564.66L217.74 569.05L218.05 573.47L218.35 577.90L218.66 582.35L218.96 586.79L219.27 591.22L219.57 595.64L219.88 600.03L220.18 604.38L220.49 608.70L220.80 612.96L221.10 617.17L221.41 621.31L221.71 625.38L222.02 629.38L222.32 633.30L222.63 637.12L222.93 640.86L223.24 644.50L223.55 640.86L223.85 637.12L224.16 633.30L224.46 629.38L224.77 625.38L225.07 621.31L225.38 617.17L225.68 612.96L225.99 608.70L226.30 604.38L226.60 600.03L226.91 595.64L227.21 591.22L227.52 586.79L227.82 582.35L228.13 577.90L228.43 573.47L228.74 569.05L229.04 564.66L229.35 560.30L229.66 555.99L229.96 551.74L230.27 547.55L230.57 543.43L230.88 539.40L231.18 535.46L231.49 531.62L231.79 527.89L232.10 524.28L232.41 520.80L232.71 517.45L233.02 514.25L233.32 511.20L233.63 508.31L233.93 505.58L234.24 503.03L234.54 500.66L234.85 498.48L235.16 496.48L235.46 494.69L235.77 493.09L236.07 491.70L236.38 490.51L236.68 489.54L236.99 488.78L237.29 488.24L237.60 487.91L237.90 487.80L238.21 487.91L238.52 488.25L238.82 488.81L239.13 489.58L239.43 490.58L239.74 491.80L240.04 493.23L240.35 494.87L240.65 496.71L240.96 498.76L241.27 501.00L241.57 503.43L241.88 506.05L242.18 508.84L242.49 511.81L242.79 514.94L243.10 518.23L243.40 521.66L243.71 525.23L244.02 528.94L244.32 532.76L244.63 536.70L244.93 540.75L245.24 544.89L245.54 549.11L245.85 553.41L246.15 557.78L246.46 562.20L246.77 566.67L247.07 571.18L247.38 575.71L247.68 580.26L247.99 584.82L248.29 589.38L248.60 593.93L248.90 598.46L249.21 602.97L249.51 607.43L249.82 611.86L250.13 616.24L250.43 620.55L250.74 624.80L251.04 628.98L251.35 633.09L251.65 637.10L251.96 641.03L252.26 644.87L252.57 648.60L252.88 644.87L253.18 641.03L253.49 637.10L253.79 633.09L254.10 628.98L254.40 624.80L254.71 620.55L255.01 616.24L255.32 611.86L255.63 607.43L255.93 602.97L256.24 598.46L256.54 593.93L256.85 589.38L257.15 584.82L257.46 580.26L257.76 575.71L258.07 571.18L258.37 566.67L258.68 562.20L258.99 557.78L259.29 553.41L259.60 549.11L259.90 544.89L260.21 540.75L260.51 536.70L260.82 532.76L261.12 528.94L261.43 525.23L261.74 521.66L262.04 518.23L262.35 514.94L262.65 511.81L262.96 508.84L263.26 506.05L263.57 503.43L263.87 501.00L264.18 498.76L264.49 496.71L264.79 494.87L265.10 493.23L265.40 491.80L265.71 490.58L266.01 489.58L266.32 488.81L266.62 488.25L266.93 487.91L267.23 487.80L267.54 487.91L267.85 488.26L268.15 488.83L268.46 489.63L268.76 490.65L269.07 491.90L269.37 493.37L269.68 495.05L269.98 496.94L270.29 499.04L270.60 501.34L270.90 503.83L271.21 506.52L271.51 509.38L271.82 512.42L272.12 515.63L272.43 519.00L272.73 522.52L273.04 526.19L273.35 529.99L273.65 533.91L273.96 537.95L274.26 542.10L274.57 546.34L274.87 550.68L275.18 555.09L275.48 559.56L275.79 564.10L276.10 568.68L276.40 573.30L276.71 577.95L277.01 582.62L277.32 587.29L277.62 591.97L277.93 596.64L278.23 601.28L278.54 605.90L278.84 610.48L279.15 615.02L279.46 619.51L279.76 623.94L280.07 628.30L280.37 632.58L280.68 636.79L280.98 640.91L281.29 644.94L281.59 648.87L281.90 652.70L282.21 648.87L282.51 644.94L282.82 640.91L283.12 636.79L283.43 632.58L283.73 628.30L284.04 623.94L284.34 619.51L284.65 615.02L284.96 610.48L285.26 605.90L285.57 601.28L285.87 596.64L286.18 591.97L286.48 587.29L286.79 582.62L287.09 577.95L287.40 573.30L287.70 568.68L288.01 564.10L288.32 559.56L288.62 555.09L288.93 550.68L289.23 546.34L289.54 542.10L289.84 537.95L290.15 533.91L290.45 529.99L290.76 526.19L291.07 522.52L291.37 519.00L291.68 515.63L291.98 512.42L292.29 509.38L292.59 506.52L292.90 503.83L293.20 501.34L293.51 499.04L293.82 496.94L294.12 495.05L294.43 493.37L294.73 491.90L295.04 490.65L295.34 489.63L295.65 488.83L295.95 488.26L296.26 487.91L296.56 487.80L296.87 487.91L297.18 488.25L297.48 488.81L297.79 489.58L298.09 490.58L298.40 491.80L298.70 493.23L299.01 494.87L299.31 496.71L299.62 498.76L299.93 501.00L300.23 503.43L300.54 506.05L300.84 508.84L301.15 511.81L301.45 514.94L301.76 518.23L302.06 521.66L302.37 525.23L302.68 528.94L302.98 532.76L303.29 536.70L303.59 540.75L303.90 544.89L304.20 549.11L304.51 553.41L304.81 557.78L305.12 562.20L305.43 566.67L305.73 571.18L306.04 575.71L306.34 580.26L306.65 584.82L306.95 589.38L307.26 593.93L307.56 598.46L307.87 602.97L308.17 607.43L308.48 611.86L308.79 616.24L309.09 620.55L309.40 624.80L309.70 628.98L310.01 633.09L310.31 637.10L310.62 641.03L310.92 644.87L311.23 648.60L311.54 644.87L311.84 641.03L312.15 637.10L312.45 633.09L312.76 628.98L313.06 624.80L313.37 620.55L313.67 616.24L313.98 611.86L314.29 607.43L314.59 602.97L314.90 598.46L315.20 593.93L315.51 589.38L315.81 584.82L316.12 580.26L316.42 575.71L316.73 571.18L317.03 566.67L317.34 562.20L317.65 557.78L317.95 553.41L318.26 549.11L318.56 544.89L318.87 540.75L319.17 536.70L319.48 532.76L319.78 528.94L320.09 525.23L320.40 521.66L320.70 518.23L321.01 514.94L321.31 511.81L321.62 508.84L321.92 506.05L322.23 503.43L322.53 501.00L322.84 498.76L323.15 496.71L323.45 494.87L323.76 493.23L324.06 491.80L324.37 490.58L324.67 489.58L324.98 488.81L325.28 488.25L325.59 487.91L325.89 487.80L326.20 487.91L326.51 488.24L326.81 488.78L327.12 489.54L327.42 490.51L327.73 491.70L328.03 493.09L328.34 494.69L328.64 496.48L328.95 498.48L329.26 500.66L329.56 503.03L329.87 505.58L330.17 508.31L330.48 511.20L330.78 514.25L331.09 517.45L331.39 520.80L331.70 524.28L332.01 527.89L332.31 531.62L332.62 535.46L332.92 539.40L333.23 543.43L333.53 547.55L333.84 551.74L334.14 555.99L334.45 560.30L334.76 564.66L335.06 569.05L335.37 573.47L335.67 577.90L335.98 582.35L336.28 586.79L336.59 591.22L336.89 595.64L337.20 600.03L337.50 604.38L337.81 608.70L338.12 612.96L338.42 617.17L338.73 621.31L339.03 625.38L339.34 629.38L339.64 633.30L339.95 637.12L340.25 640.86L340.56 644.50L340.87 640.86L341.17 637.12L341.48 633.30L341.78 629.38L342.09 625.38L342.39 621.31L342.70 617.17L343.00 612.96L343.31 608.70L343.62 604.38L343.92 600.03L344.23 595.64L344.53 591.22L344.84 586.79L345.14 582.35L345.45 577.90L345.75 573.47L346.06 569.05L346.36 564.66L346.67 560.30L346.98 555.99L347.28 551.74L347.59 547.55L347.89 543.43L348.20 539.40L348.50 535.46L348.81 531.62L349.11 527.89L349.42 524.28L349.73 520.80L350.03 517.45L350.34 514.25L350.64 511.20L350.95 508.31L351.25 505.58L351.56 503.03L351.86 500.66L352.17 498.48L352.48 496.48L352.78 494.69L353.09 493.09L353.39 491.70L353.70 490.51L354.00 489.54L354.31 488.78L354.61 488.24L354.92 487.91L355.22 487.80L355.53 487.91L355.84 488.22L356.14 488.75L356.45 489.49L356.75 490.44L357.06 491.59L357.36 492.95L357.67 494.51L357.97 496.26L358.28 498.20L358.59 500.33L358.89 502.64L359.20 505.12L359.50 507.77L359.81 510.59L360.11 513.56L360.42 516.67L360.72 519.93L361.03 523.32L361.34 526.84L361.64 530.47L361.95 534.21L362.25 538.05L362.56 541.98L362.86 545.99L363.17 550.07L363.47 554.21L363.78 558.41L364.09 562.65L364.39 566.92L364.70 571.23L365.00 575.55L365.31 579.87L365.61 584.20L365.92 588.52L366.22 592.82L366.53 597.09L366.83 601.33L367.14 605.53L367.45 609.69L367.75 613.78L368.06 617.82L368.36 621.78L368.67 625.68L368.97 629.49L369.28 633.22L369.58 636.86L369.89 640.40L370.20 636.86L370.50 633.22L370.81 629.49L371.11 625.68L371.42 621.78L371.72 617.82L372.03 613.78L372.33 609.69L372.64 605.53L372.95 601.33L373.25 597.09L373.56 592.82L373.86 588.52L374.17 584.20L374.47 579.87L374.78 575.55L375.08 571.23L375.39 566.92L375.69 562.65L376.00 558.41L376.31 554.21L376.61 550.07L376.92 545.99L377.22 541.98L377.53 538.05L377.83 534.21L378.14 530.47L378.44 526.84L378.75 523.32L379.06 519.93L379.36 516.67L379.67 513.56L379.97 510.59L380.28 507.77L380.58 505.12L380.89 502.64L381.19 500.33L381.50 498.20L381.81 496.26L382.11 494.51L382.42 492.95L382.72 491.59L383.03 490.44L383.33 489.49L383.64 488.75L383.94 488.22L384.25 487.91L384.55 487.80L384.86 487.90L385.17 488.21L385.47 488.73L385.78 489.45L386.08 490.37L386.39 491.49L386.69 492.81L387.00 494.33L387.30 496.03L387.61 497.92L387.92 499.99L388.22 502.24L388.53 504.65L388.83 507.23L389.14 509.97L389.44 512.86L389.75 515.90L390.05 519.07L390.36 522.37L390.67 525.79L390.97 529.32L391.28 532.96L391.58 536.70L391.89 540.52L392.19 544.42L392.50 548.39L392.80 552.43L393.11 556.51L393.42 560.64L393.72 564.80L394.03 568.98L394.33 573.19L394.64 577.40L394.94 581.61L395.25 585.81L395.55 590.00L395.86 594.16L396.16 598.28L396.47 602.37L396.78 606.41L397.08 610.40L397.39 614.32L397.69 618.18L398.00 621.97L398.30 625.68L398.61 629.31L398.91 632.85L399.22 636.30L399.53 632.85L399.83 629.31L400.14 625.68L400.44 621.97L400.75 618.18L401.05 614.32L401.36 610.40L401.66 606.41L401.97 602.37L402.28 598.28L402.58 594.16L402.89 590.00L403.19 585.81L403.50 581.61L403.80 577.40L404.11 573.19L404.41 568.98L404.72 564.80L405.02 560.64L405.33 556.51L405.64 552.43L405.94 548.39L406.25 544.42L406.55 540.52L406.86 536.70L407.16 532.96L407.47 529.32L407.77 525.79L408.08 522.37L408.39 519.07L408.69 515.90L409.00 512.86L409.30 509.97L409.61 507.23L409.91 504.65L410.22 502.24L410.52 499.99L410.83 497.92L411.14 496.03L411.44 494.33L411.75 492.81L412.05 491.49L412.36 490.37L412.66 489.45L412.97 488.73L413.27 488.21L413.58 487.90L413.88 487.80L414.19 487.90L414.50 488.20L414.80 488.70L415.11 489.40L415.41 490.30L415.72 491.39L416.02 492.67L416.33 494.15L416.63 495.80L416.94 497.64L417.25 499.65L417.55 501.84L417.86 504.19L418.16 506.70L418.47 509.36L418.77 512.17L419.08 515.12L419.38 518.21L419.69 521.42L420.00 524.74L420.30 528.18L420.61 531.72L420.91 535.35L421.22 539.07L421.52 542.86L421.83 546.72L422.13 550.64L422.44 554.61L422.75 558.63L423.05 562.67L423.36 566.74L423.66 570.83L423.97 574.92L424.27 579.02L424.58 583.11L424.88 587.17L425.19 591.22L425.49 595.23L425.80 599.21L426.11 603.14L426.41 607.01L426.72 610.83L427.02 614.59L427.33 618.27L427.63 621.88L427.94 625.40L428.24 628.85L428.55 632.20L428.86 628.85L429.16 625.40L429.47 621.88L429.77 618.27L430.08 614.59L430.38 610.83L430.69 607.01L430.99 603.14L431.30 599.21L431.61 595.23L431.91 591.22L432.22 587.17L432.52 583.11L432.83 579.02L433.13 574.92L433.44 570.83L433.74 566.74L434.05 562.67L434.35 558.63L434.66 554.61L434.97 550.64L435.27 546.72L435.58 542.86L435.88 539.07L436.19 535.35L436.49 531.72L436.80 528.18L437.10 524.74L437.41 521.42L437.72 518.21L438.02 515.12L438.33 512.17L438.63 509.36L438.94 506.70L439.24 504.19L439.55 501.84L439.85 499.65L440.16 497.64L440.47 495.80L440.77 494.15L441.08 492.67L441.38 491.39L441.69 490.30L441.99 489.40L442.30 488.70L442.60 488.20L442.91 487.90L443.21 487.80L443.52 487.90L443.83 488.19L444.13 488.68L444.44 489.36L444.74 490.23L445.05 491.29L445.35 492.54L445.66 493.97L445.96 495.58L446.27 497.36L446.58 499.32L446.88 501.44L447.19 503.72L447.49 506.16L447.80 508.75L448.10 511.48L448.41 514.35L448.71 517.34L449.02 520.46L449.33 523.69L449.63 527.03L449.94 530.47L450.24 534.00L450.55 537.61L450.85 541.30L451.16 545.05L451.46 548.86L451.77 552.72L452.08 556.61L452.38 560.55L452.69 564.50L452.99 568.47L453.30 572.45L453.60 576.43L453.91 580.40L454.21 584.35L454.52 588.28L454.82 592.18L455.13 596.04L455.44 599.86L455.74 603.63L456.05 607.34L456.35 610.99L456.66 614.56L456.96 618.07L457.27 621.50L457.57 624.84L457.88 628.10L458.19 624.84L458.49 621.50L458.80 618.07L459.10 614.56L459.41 610.99L459.71 607.34L460.02 603.63L460.32 599.86L460.63 596.04L460.94 592.18L461.24 588.28L461.55 584.35L461.85 580.40L462.16 576.43L462.46 572.45L462.77 568.47L463.07 564.50L463.38 560.55L463.68 556.61L463.99 552.72L464.30 548.86L464.60 545.05L464.91 541.30L465.21 537.61L465.52 534.00L465.82 530.47L466.13 527.03L466.43 523.69L466.74 520.46L467.05 517.34L467.35 514.35L467.66 511.48L467.96 508.75L468.27 506.16L468.57 503.72L468.88 501.44L469.18 499.32L469.49 497.36L469.80 495.58L470.10 493.97L470.41 492.54L470.71 491.29L471.02 490.23L471.32 489.36L471.63 488.68L471.93 488.19L472.24 487.90L472.54 487.80L472.85 487.89L473.16 488.18L473.46 488.65L473.77 489.31L474.07 490.16L474.38 491.19L474.68 492.40L474.99 493.79L475.29 495.35L475.60 497.08L475.91 498.98L476.21 501.04L476.52 503.26L476.82 505.63L477.13 508.14L477.43 510.79L477.74 513.57L478.04 516.48L478.35 519.51L478.66 522.64L478.96 525.89L479.27 529.22L479.57 532.65L479.88 536.15L480.18 539.73L480.49 543.37L480.79 547.07L481.10 550.82L481.41 554.60L481.71 558.42L482.02 562.26L482.32 566.12L482.63 569.98L482.93 573.84L483.24 577.69L483.54 581.53L483.85 585.35L484.15 589.13L484.46 592.88L484.77 596.59L485.07 600.24L485.38 603.84L485.68 607.39L485.99 610.86L486.29 614.26L486.60 617.59L486.90 620.84L487.21 624.00L487.52 620.84L487.82 617.59L488.13 614.26L488.43 610.86L488.74 607.39L489.04 603.84L489.35 600.24L489.65 596.59L489.96 592.88L490.27 589.13L490.57 585.35L490.88 581.53L491.18 577.69L491.49 573.84L491.79 569.98L492.10 566.12L492.40 562.26L492.71 558.42L493.01 554.60L493.32 550.82L493.63 547.07L493.93 543.37L494.24 539.73L494.54 536.15L494.85 532.65L495.15 529.22L495.46 525.89L495.76 522.64L496.07 519.51L496.38 516.48L496.68 513.57L496.99 510.79L497.29 508.14L497.60 505.63L497.90 503.26L498.21 501.04L498.51 498.98L498.82 497.08L499.13 495.35L499.43 493.79L499.74 492.40L500.04 491.19L500.35 490.16L500.65 489.31L500.96 488.65L501.26 488.18L501.57 487.89L501.88 487.80L502.18 487.89L502.49 488.17L502.79 488.63L503.10 489.27L503.40 490.09L503.71 491.09L504.01 492.26L504.32 493.61L504.62 495.12L504.93 496.80L505.24 498.64L505.54 500.64L505.85 502.79L506.15 505.09L506.46 507.53L506.76 510.10L507.07 512.80L507.37 515.62L507.68 518.55L507.99 521.60L508.29 524.74L508.60 527.98L508.90 531.30L509.21 534.70L509.51 538.17L509.82 541.70L510.12 545.29L510.43 548.92L510.74 552.59L511.04 556.29L511.35 560.02L511.65 563.76L511.96 567.50L512.26 571.25L512.57 574.99L512.87 578.71L513.18 582.41L513.48 586.08L513.79 589.72L514.10 593.31L514.40 596.86L514.71 600.35L515.01 603.79L515.32 607.16L515.62 610.46L515.93 613.68L516.23 616.83L516.54 619.90L516.85 616.83L517.15 613.68L517.46 610.46L517.76 607.16L518.07 603.79L518.37 600.35L518.68 596.86L518.98 593.31L519.29 589.72L519.60 586.08L519.90 582.41L520.21 578.71L520.51 574.99L520.82 571.25L521.12 567.50L521.43 563.76L521.73 560.02L522.04 556.29L522.34 552.59L522.65 548.92L522.96 545.29L523.26 541.70L523.57 538.17L523.87 534.70L524.18 531.30L524.48 527.98L524.79 524.74L525.09 521.60L525.40 518.55L525.71 515.62L526.01 512.80L526.32 510.10L526.62 507.53L526.93 505.09L527.23 502.79L527.54 500.64L527.84 498.64L528.15 496.80L528.46 495.12L528.76 493.61L529.07 492.26L529.37 491.09L529.68 490.09L529.98 489.27L530.29 488.63L530.59 488.17L530.90 487.89L531.20 487.80" fill="none" stroke="#000" stroke-width="2.8" stroke-linejoin="round" clip-path="url(#cc)"/>
<line x1="87.3" y1="436.25" x2="87.3" y2="654.5" stroke="#000" stroke-width="1.6"/>
<line x1="87.3" y1="653.7" x2="476.8" y2="653.7" stroke="#000" stroke-width="1.6"/>
<line x1="476.8" y1="436.25" x2="476.8" y2="654.5" stroke="#111" stroke-width="1.4"/>
<line x1="87.3" y1="437.0" x2="476.8" y2="437.0" stroke="#111" stroke-width="1.5"/>
<line x1="86.76" y1="653.7" x2="86.76" y2="649.7" stroke="#000" stroke-width="1.3"/>
<line x1="86.76" y1="437.0" x2="86.76" y2="441.0" stroke="#000" stroke-width="1.3"/>
<line x1="135.57" y1="653.7" x2="135.57" y2="651.2" stroke="#000" stroke-width="1.3"/>
<line x1="135.57" y1="437.0" x2="135.57" y2="439.5" stroke="#000" stroke-width="1.3"/>
<line x1="184.38" y1="653.7" x2="184.38" y2="649.7" stroke="#000" stroke-width="1.3"/>
<line x1="184.38" y1="437.0" x2="184.38" y2="441.0" stroke="#000" stroke-width="1.3"/>
<line x1="233.19" y1="653.7" x2="233.19" y2="651.2" stroke="#000" stroke-width="1.3"/>
<line x1="233.19" y1="437.0" x2="233.19" y2="439.5" stroke="#000" stroke-width="1.3"/>
<line x1="282.00" y1="653.7" x2="282.00" y2="649.7" stroke="#000" stroke-width="1.3"/>
<line x1="282.00" y1="437.0" x2="282.00" y2="441.0" stroke="#000" stroke-width="1.3"/>
<line x1="330.81" y1="653.7" x2="330.81" y2="651.2" stroke="#000" stroke-width="1.3"/>
<line x1="330.81" y1="437.0" x2="330.81" y2="439.5" stroke="#000" stroke-width="1.3"/>
<line x1="379.62" y1="653.7" x2="379.62" y2="649.7" stroke="#000" stroke-width="1.3"/>
<line x1="379.62" y1="437.0" x2="379.62" y2="441.0" stroke="#000" stroke-width="1.3"/>
<line x1="428.43" y1="653.7" x2="428.43" y2="651.2" stroke="#000" stroke-width="1.3"/>
<line x1="428.43" y1="437.0" x2="428.43" y2="439.5" stroke="#000" stroke-width="1.3"/>
<line x1="477.24" y1="653.7" x2="477.24" y2="649.7" stroke="#000" stroke-width="1.3"/>
<line x1="477.24" y1="437.0" x2="477.24" y2="441.0" stroke="#000" stroke-width="1.3"/>
<line x1="87.3" y1="653.20" x2="91.3" y2="653.20" stroke="#000" stroke-width="1.3"/>
<line x1="476.8" y1="653.20" x2="472.8" y2="653.20" stroke="#000" stroke-width="1.3"/>
<line x1="87.3" y1="631.52" x2="89.8" y2="631.52" stroke="#000" stroke-width="1.3"/>
<line x1="476.8" y1="631.52" x2="474.3" y2="631.52" stroke="#000" stroke-width="1.3"/>
<line x1="87.3" y1="609.84" x2="91.3" y2="609.84" stroke="#000" stroke-width="1.3"/>
<line x1="476.8" y1="609.84" x2="472.8" y2="609.84" stroke="#000" stroke-width="1.3"/>
<line x1="87.3" y1="588.16" x2="89.8" y2="588.16" stroke="#000" stroke-width="1.3"/>
<line x1="476.8" y1="588.16" x2="474.3" y2="588.16" stroke="#000" stroke-width="1.3"/>
<line x1="87.3" y1="566.48" x2="91.3" y2="566.48" stroke="#000" stroke-width="1.3"/>
<line x1="476.8" y1="566.48" x2="472.8" y2="566.48" stroke="#000" stroke-width="1.3"/>
<line x1="87.3" y1="544.80" x2="89.8" y2="544.80" stroke="#000" stroke-width="1.3"/>
<line x1="476.8" y1="544.80" x2="474.3" y2="544.80" stroke="#000" stroke-width="1.3"/>
<line x1="87.3" y1="523.12" x2="91.3" y2="523.12" stroke="#000" stroke-width="1.3"/>
<line x1="476.8" y1="523.12" x2="472.8" y2="523.12" stroke="#000" stroke-width="1.3"/>
<line x1="87.3" y1="501.44" x2="89.8" y2="501.44" stroke="#000" stroke-width="1.3"/>
<line x1="476.8" y1="501.44" x2="474.3" y2="501.44" stroke="#000" stroke-width="1.3"/>
<line x1="87.3" y1="479.76" x2="91.3" y2="479.76" stroke="#000" stroke-width="1.3"/>
<line x1="476.8" y1="479.76" x2="472.8" y2="479.76" stroke="#000" stroke-width="1.3"/>
<line x1="87.3" y1="458.08" x2="89.8" y2="458.08" stroke="#000" stroke-width="1.3"/>
<line x1="476.8" y1="458.08" x2="474.3" y2="458.08" stroke="#000" stroke-width="1.3"/>
<text x="56" y="10.2" font-family="Liberation Sans, Arial, sans-serif" font-size="14" font-weight="normal" font-style="normal" text-anchor="start" fill="#e0141e" textLength="199" lengthAdjust="spacingAndGlyphs" stroke="#e0141e" stroke-width="0.45">800 SQUID-array, 3-turns coil</text>
<text x="281" y="11.8" font-family="Liberation Sans, Arial, sans-serif" font-size="14" font-weight="normal" font-style="normal" text-anchor="start" fill="#e0141e" textLength="240" lengthAdjust="spacingAndGlyphs" stroke="#e0141e" stroke-width="0.45">800 SQUID-array,3-turns coil,z=0 mm</text>
<text x="53.3" y="30.3" font-family="Liberation Sans, Arial, sans-serif" font-size="12.2" font-weight="normal" font-style="normal" text-anchor="end" fill="#000" textLength="29.2" lengthAdjust="spacingAndGlyphs" stroke="#000" stroke-width="0.6">3200</text>
<text x="53.3" y="116.35" font-family="Liberation Sans, Arial, sans-serif" font-size="12.2" font-weight="normal" font-style="normal" text-anchor="end" fill="#000" textLength="29.2" lengthAdjust="spacingAndGlyphs" stroke="#000" stroke-width="0.6">2400</text>
<text x="53.3" y="202.4" font-family="Liberation Sans, Arial, sans-serif" font-size="12.2" font-weight="normal" font-style="normal" text-anchor="end" fill="#000" textLength="29.2" lengthAdjust="spacingAndGlyphs" stroke="#000" stroke-width="0.6">1600</text>
<text x="53.3" y="288.45" font-family="Liberation Sans, Arial, sans-serif" font-size="12.2" font-weight="normal" font-style="normal" text-anchor="end" fill="#000" textLength="21.9" lengthAdjust="spacingAndGlyphs" stroke="#000" stroke-width="0.6">800</text>
<text x="53.3" y="374.5" font-family="Liberation Sans, Arial, sans-serif" font-size="12.2" font-weight="normal" font-style="normal" text-anchor="end" fill="#000" textLength="7.3" lengthAdjust="spacingAndGlyphs" stroke="#000" stroke-width="0.6">0</text>
<text x="82.1" y="384.8" font-family="Liberation Sans, Arial, sans-serif" font-size="12.2" font-weight="normal" font-style="normal" text-anchor="middle" fill="#000" textLength="11.68" lengthAdjust="spacingAndGlyphs" stroke="#000" stroke-width="0.6">-1</text>
<text x="166.85" y="384.8" font-family="Liberation Sans, Arial, sans-serif" font-size="12.2" font-weight="normal" font-style="normal" text-anchor="middle" fill="#000" textLength="7.3" lengthAdjust="spacingAndGlyphs" stroke="#000" stroke-width="0.6">0</text>
<text x="250.6" y="384.8" font-family="Liberation Sans, Arial, sans-serif" font-size="12.2" font-weight="normal" font-style="normal" text-anchor="middle" fill="#000" textLength="7.3" lengthAdjust="spacingAndGlyphs" stroke="#000" stroke-width="0.6">1</text>
<text x="308.0" y="373.4" font-family="Liberation Sans, Arial, sans-serif" font-size="12.2" font-weight="normal" font-style="normal" text-anchor="end" fill="#000" textLength="7.3" lengthAdjust="spacingAndGlyphs" stroke="#000" stroke-width="0.6">0</text>
<text x="308.0" y="322.52" font-family="Liberation Sans, Arial, sans-serif" font-size="12.2" font-weight="normal" font-style="normal" text-anchor="end" fill="#000" textLength="21.9" lengthAdjust="spacingAndGlyphs" stroke="#000" stroke-width="0.6">200</text>
<text x="308.0" y="271.64" font-family="Liberation Sans, Arial, sans-serif" font-size="12.2" font-weight="normal" font-style="normal" text-anchor="end" fill="#000" textLength="21.9" lengthAdjust="spacingAndGlyphs" stroke="#000" stroke-width="0.6">400</text>
<text x="308.0" y="220.76" font-family="Liberation Sans, Arial, sans-serif" font-size="12.2" font-weight="normal" font-style="normal" text-anchor="end" fill="#000" textLength="21.9" lengthAdjust="spacingAndGlyphs" stroke="#000" stroke-width="0.6">600</text>
<text x="308.0" y="169.88" font-family="Liberation Sans, Arial, sans-serif" font-size="12.2" font-weight="normal" font-style="normal" text-anchor="end" fill="#000" textLength="21.9" lengthAdjust="spacingAndGlyphs" stroke="#000" stroke-width="0.6">800</text>
<text x="308.0" y="119.0" font-family="Liberation Sans, Arial, sans-serif" font-size="12.2" font-weight="normal" font-style="normal" text-anchor="end" fill="#000" textLength="29.2" lengthAdjust="spacingAndGlyphs" stroke="#000" stroke-width="0.6">1000</text>
<text x="308.0" y="68.12" font-family="Liberation Sans, Arial, sans-serif" font-size="12.2" font-weight="normal" font-style="normal" text-anchor="end" fill="#000" textLength="29.2" lengthAdjust="spacingAndGlyphs" stroke="#000" stroke-width="0.6">1200</text>
<text x="311.65" y="384.8" font-family="Liberation Sans, Arial, sans-serif" font-size="12.2" font-weight="normal" font-style="normal" text-anchor="middle" fill="#000" textLength="11.68" lengthAdjust="spacingAndGlyphs" stroke="#000" stroke-width="0.6">-1</text>
<text x="415.55" y="384.8" font-family="Liberation Sans, Arial, sans-serif" font-size="12.2" font-weight="normal" font-style="normal" text-anchor="middle" fill="#000" textLength="7.3" lengthAdjust="spacingAndGlyphs" stroke="#000" stroke-width="0.6">0</text>
<text x="518.45" y="384.8" font-family="Liberation Sans, Arial, sans-serif" font-size="12.2" font-weight="normal" font-style="normal" text-anchor="middle" fill="#000" textLength="7.3" lengthAdjust="spacingAndGlyphs" stroke="#000" stroke-width="0.6">1</text>
<text x="81.0" y="657.5" font-family="Liberation Sans, Arial, sans-serif" font-size="12.5" font-weight="normal" font-style="normal" text-anchor="end" fill="#000" textLength="7.5" lengthAdjust="spacingAndGlyphs" stroke="#000" stroke-width="0.5">0</text>
<text x="81.0" y="614.14" font-family="Liberation Sans, Arial, sans-serif" font-size="12.5" font-weight="normal" font-style="normal" text-anchor="end" fill="#000" textLength="22.5" lengthAdjust="spacingAndGlyphs" stroke="#000" stroke-width="0.5">200</text>
<text x="81.0" y="570.78" font-family="Liberation Sans, Arial, sans-serif" font-size="12.5" font-weight="normal" font-style="normal" text-anchor="end" fill="#000" textLength="22.5" lengthAdjust="spacingAndGlyphs" stroke="#000" stroke-width="0.5">400</text>
<text x="81.0" y="527.42" font-family="Liberation Sans, Arial, sans-serif" font-size="12.5" font-weight="normal" font-style="normal" text-anchor="end" fill="#000" textLength="22.5" lengthAdjust="spacingAndGlyphs" stroke="#000" stroke-width="0.5">600</text>
<text x="81.0" y="484.06" font-family="Liberation Sans, Arial, sans-serif" font-size="12.5" font-weight="normal" font-style="normal" text-anchor="end" fill="#000" textLength="22.5" lengthAdjust="spacingAndGlyphs" stroke="#000" stroke-width="0.5">800</text>
<text x="87.16" y="669.8" font-family="Liberation Sans, Arial, sans-serif" font-size="12.3" font-weight="normal" font-style="normal" text-anchor="middle" fill="#000" textLength="29.8" lengthAdjust="spacingAndGlyphs" stroke="#000" stroke-width="0.5">-0.06</text>
<text x="184.78" y="669.8" font-family="Liberation Sans, Arial, sans-serif" font-size="12.3" font-weight="normal" font-style="normal" text-anchor="middle" fill="#000" textLength="29.8" lengthAdjust="spacingAndGlyphs" stroke="#000" stroke-width="0.5">-0.03</text>
<text x="282.4" y="669.8" font-family="Liberation Sans, Arial, sans-serif" font-size="12.3" font-weight="normal" font-style="normal" text-anchor="middle" fill="#000" textLength="24.8" lengthAdjust="spacingAndGlyphs" stroke="#000" stroke-width="0.5">0.00</text>
<text x="380.02" y="669.8" font-family="Liberation Sans, Arial, sans-serif" font-size="12.3" font-weight="normal" font-style="normal" text-anchor="middle" fill="#000" textLength="24.8" lengthAdjust="spacingAndGlyphs" stroke="#000" stroke-width="0.5">0.03</text>
<text x="477.64" y="669.8" font-family="Liberation Sans, Arial, sans-serif" font-size="12.3" font-weight="normal" font-style="normal" text-anchor="middle" fill="#000" textLength="24.8" lengthAdjust="spacingAndGlyphs" stroke="#000" stroke-width="0.5">0.06</text>
<text x="251.6" y="41.9" font-family="Liberation Sans, Arial, sans-serif" font-size="19" font-weight="bold" font-style="normal" text-anchor="start" fill="#000" textLength="22.5" lengthAdjust="spacingAndGlyphs" stroke="#000" stroke-width="0.7">(a)</text>
<text x="494.8" y="46.3" font-family="Liberation Sans, Arial, sans-serif" font-size="18.3" font-weight="bold" font-style="normal" text-anchor="start" fill="#000" textLength="21" lengthAdjust="spacingAndGlyphs" stroke="#000" stroke-width="0.7">(b)</text>
<text x="441.2" y="460.8" font-family="Liberation Sans, Arial, sans-serif" font-size="20" font-weight="bold" font-style="normal" text-anchor="start" fill="#000" textLength="23.6" lengthAdjust="spacingAndGlyphs" stroke="#000" stroke-width="0.7">(c)</text>
<text x="275.2" y="106.4" font-family="Liberation Sans, Arial, sans-serif" font-size="12.7" font-weight="normal" font-style="normal" text-anchor="end" fill="#000" textLength="48.5" lengthAdjust="spacingAndGlyphs" stroke="#000" stroke-width="0.65">z=4 mm</text>
<text x="275.0" y="194.0" font-family="Liberation Sans, Arial, sans-serif" font-size="12.7" font-weight="normal" font-style="normal" text-anchor="end" fill="#000" textLength="34" lengthAdjust="spacingAndGlyphs" stroke="#000" stroke-width="0.65">z=1.5</text>
<text x="274.3" y="281.8" font-family="Liberation Sans, Arial, sans-serif" font-size="12.7" font-weight="normal" font-style="normal" text-anchor="end" fill="#000" textLength="21.5" lengthAdjust="spacingAndGlyphs" stroke="#000" stroke-width="0.65">z=1</text>
<text x="274.6" y="365.2" font-family="Liberation Sans, Arial, sans-serif" font-size="12.7" font-weight="normal" font-style="normal" text-anchor="end" fill="#000" textLength="22" lengthAdjust="spacingAndGlyphs" stroke="#000" stroke-width="0.65">z=0</text>
<text x="319" y="41.8" font-family="Liberation Sans, Arial, sans-serif" font-size="12.8" font-weight="normal" font-style="normal" text-anchor="start" fill="#000" textLength="40.5" lengthAdjust="spacingAndGlyphs" stroke="#000" stroke-width="0.42">all 800</text>
<text x="319" y="57.8" font-family="Liberation Sans, Arial, sans-serif" font-size="12.8" font-weight="normal" font-style="normal" text-anchor="start" fill="#000" textLength="51" lengthAdjust="spacingAndGlyphs" stroke="#000" stroke-width="0.42">SQUIDs</text>
<text x="427" y="146" font-family="Liberation Sans, Arial, sans-serif" font-size="12.8" font-weight="normal" font-style="normal" text-anchor="start" fill="#828282" textLength="88.8" lengthAdjust="spacingAndGlyphs" stroke="#828282" stroke-width="0.42">first &amp; last 200</text>
<text x="427" y="163.6" font-family="Liberation Sans, Arial, sans-serif" font-size="12.8" font-weight="normal" font-style="normal" text-anchor="start" fill="#828282" textLength="51" lengthAdjust="spacingAndGlyphs" stroke="#828282" stroke-width="0.42">SQUIDs</text>
<text x="318.5" y="211.6" font-family="Liberation Sans, Arial, sans-serif" font-size="12.8" font-weight="normal" font-style="normal" text-anchor="start" fill="#2a44d8" textLength="69.2" lengthAdjust="spacingAndGlyphs" stroke="#2a44d8" stroke-width="0.42">middle 400</text>
<text x="318.5" y="228.0" font-family="Liberation Sans, Arial, sans-serif" font-size="12.8" font-weight="normal" font-style="normal" text-anchor="start" fill="#2a44d8" textLength="51" lengthAdjust="spacingAndGlyphs" stroke="#2a44d8" stroke-width="0.42">SQUIDs</text>
<text x="447.7" y="298" font-family="Liberation Sans, Arial, sans-serif" font-size="12.8" font-weight="normal" font-style="normal" text-anchor="start" fill="#e0141e" textLength="67" lengthAdjust="spacingAndGlyphs" stroke="#e0141e" stroke-width="0.42">middle 200</text>
<text x="447.7" y="314.8" font-family="Liberation Sans, Arial, sans-serif" font-size="12.8" font-weight="normal" font-style="normal" text-anchor="start" fill="#e0141e" textLength="51" lengthAdjust="spacingAndGlyphs" stroke="#e0141e" stroke-width="0.42">SQUIDs</text>
<text x="93.0" y="457.2" font-family="Liberation Sans, Arial, sans-serif" font-size="18" font-weight="bold" font-style="normal" text-anchor="start" fill="#000" textLength="144" lengthAdjust="spacingAndGlyphs" >770 SQUID-array</text>
<text x="92.0" y="477.0" font-family="Liberation Sans, Arial, sans-serif" font-size="14.3" font-weight="normal" font-style="normal" text-anchor="start" fill="#000" textLength="144.2" lengthAdjust="spacingAndGlyphs" stroke="#000" stroke-width="0.35">50-turns coil, z=0 mm</text>
<text x="114.8" y="403.6" font-family="Liberation Sans, Arial, sans-serif" font-size="18.5" textLength="114" lengthAdjust="spacingAndGlyphs" stroke="#000" stroke-width="0.4"><tspan font-style="italic">I</tspan><tspan font-style="italic" font-size="13.7" dy="5.2">B</tspan><tspan dy="-5.2">, arb. units</tspan></text>
<text x="353.7" y="402.6" font-family="Liberation Sans, Arial, sans-serif" font-size="18.5" textLength="111.3" lengthAdjust="spacingAndGlyphs" stroke="#000" stroke-width="0.4"><tspan font-style="italic">I</tspan><tspan font-style="italic" font-size="13.7" dy="4.8">B</tspan><tspan dy="-4.8">, arb. units</tspan></text>
<text x="232.3" y="697.6" font-family="Liberation Sans, Arial, sans-serif" font-size="18.5" textLength="99.8" lengthAdjust="spacingAndGlyphs" stroke="#000" stroke-width="0.4"><tspan font-style="italic">I</tspan><tspan font-style="italic" font-size="13.7" dy="5.2">B</tspan><tspan dy="-5.2">, arb. units</tspan></text>
<text transform="translate(17.0,224.0) rotate(-90)" font-family="Liberation Sans, Arial, sans-serif" font-size="20.5" font-style="italic" font-weight="normal" textLength="45.5" lengthAdjust="spacingAndGlyphs" stroke="#000" stroke-width="0.85">V/ΔV</text><text transform="translate(21.4,178.8) rotate(-90)" font-family="Liberation Sans, Arial, sans-serif" font-size="13.0" font-style="italic" font-weight="bold" textLength="42.5" lengthAdjust="spacingAndGlyphs" stroke="#000" stroke-width="0.3">SQUID</text>
<text transform="translate(41.9,594.4) rotate(-90)" font-family="Liberation Sans, Arial, sans-serif" font-size="20.5" font-style="italic" font-weight="normal" textLength="50" lengthAdjust="spacingAndGlyphs" stroke="#000" stroke-width="0.85">V/ΔV</text><text transform="translate(48.4,544.0) rotate(-90)" font-family="Liberation Sans, Arial, sans-serif" font-size="14.0" font-style="italic" font-weight="bold" textLength="46" lengthAdjust="spacingAndGlyphs" stroke="#000" stroke-width="0.3">SQUID</text>
</svg>
</body></html>
